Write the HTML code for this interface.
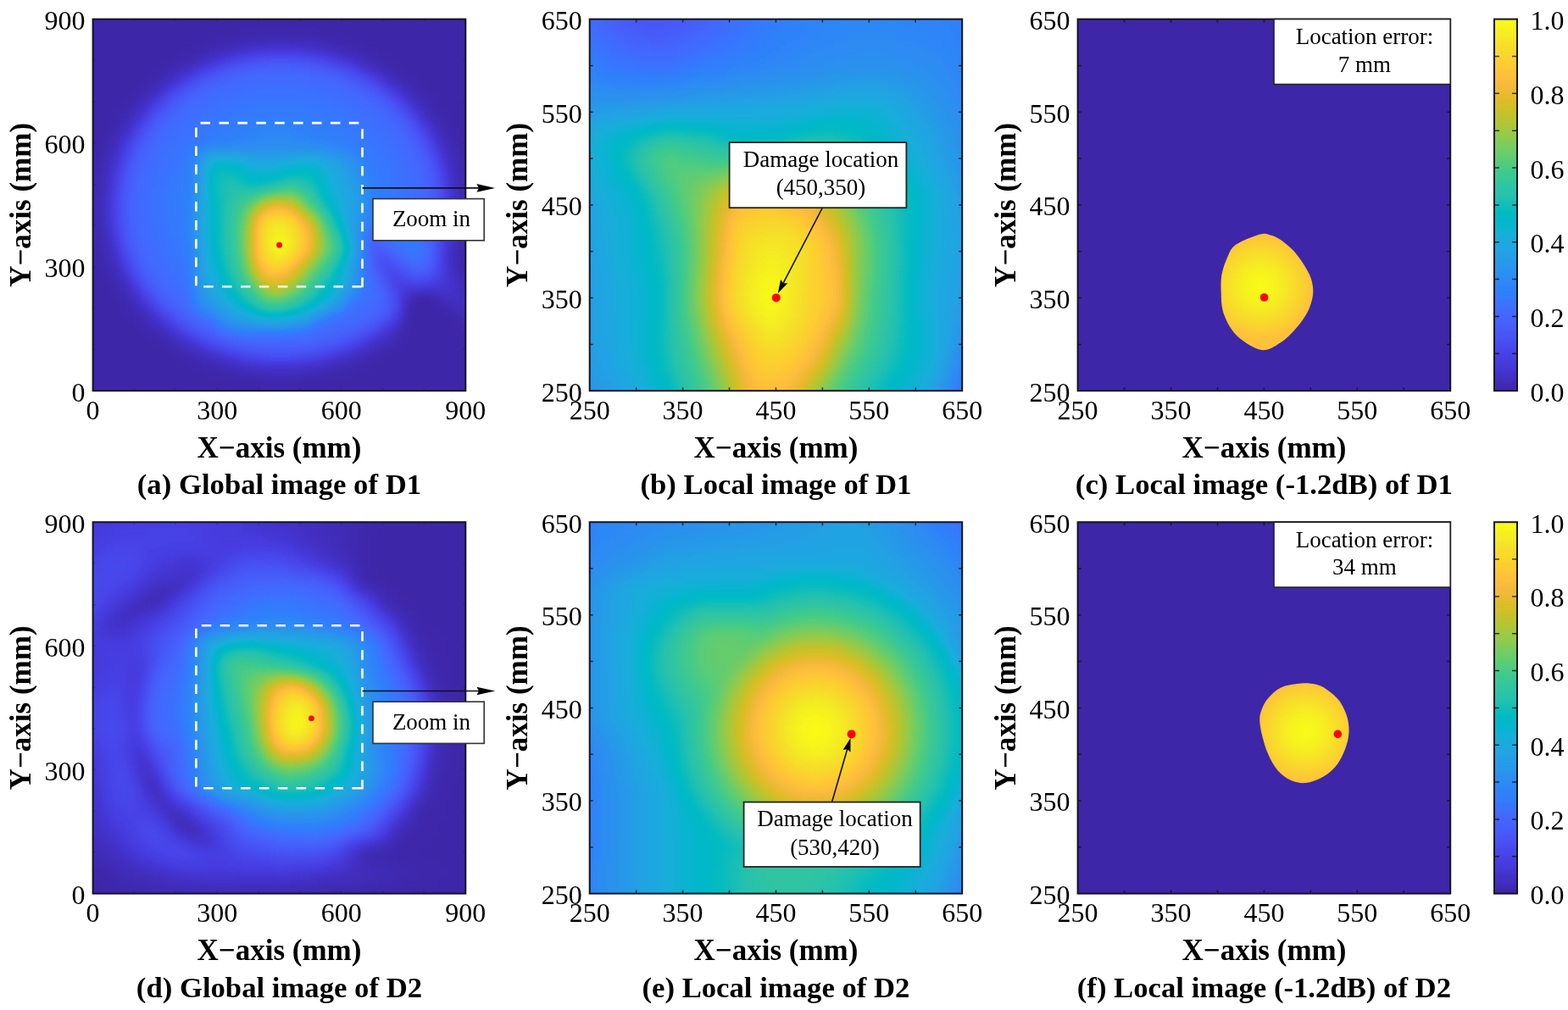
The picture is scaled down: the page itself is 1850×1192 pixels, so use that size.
<!DOCTYPE html><html><head><meta charset="utf-8"><title>Figure</title><style>html,body{margin:0;padding:0;background:#fff;}svg{display:block;}</style></head><body>
<svg width="1850" height="1192" viewBox="0 0 1850 1192">
<rect width="1850" height="1192" fill="#fff"/>
<defs>
<linearGradient id="cbg" x1="0" y1="1" x2="0" y2="0"><stop offset="0" stop-color="#3e26a8"/><stop offset="0.02" stop-color="#402ab4"/><stop offset="0.03" stop-color="#422ec0"/><stop offset="0.05" stop-color="#4332cb"/><stop offset="0.06" stop-color="#4537d5"/><stop offset="0.08" stop-color="#463cde"/><stop offset="0.1" stop-color="#4741e5"/><stop offset="0.11" stop-color="#4747eb"/><stop offset="0.13" stop-color="#484df0"/><stop offset="0.14" stop-color="#4852f4"/><stop offset="0.16" stop-color="#4758f8"/><stop offset="0.17" stop-color="#465efb"/><stop offset="0.19" stop-color="#4563fd"/><stop offset="0.21" stop-color="#4269fe"/><stop offset="0.22" stop-color="#3e6fff"/><stop offset="0.24" stop-color="#3875fe"/><stop offset="0.25" stop-color="#327cfc"/><stop offset="0.27" stop-color="#2f81fa"/><stop offset="0.29" stop-color="#2e87f7"/><stop offset="0.3" stop-color="#2d8cf3"/><stop offset="0.32" stop-color="#2b91ef"/><stop offset="0.33" stop-color="#2797eb"/><stop offset="0.35" stop-color="#259be8"/><stop offset="0.37" stop-color="#23a0e5"/><stop offset="0.38" stop-color="#20a5e3"/><stop offset="0.4" stop-color="#1ca9df"/><stop offset="0.41" stop-color="#18addb"/><stop offset="0.43" stop-color="#12b1d6"/><stop offset="0.44" stop-color="#08b5d0"/><stop offset="0.46" stop-color="#01b8ca"/><stop offset="0.48" stop-color="#02bac3"/><stop offset="0.49" stop-color="#0bbdbd"/><stop offset="0.51" stop-color="#19bfb6"/><stop offset="0.52" stop-color="#24c1ae"/><stop offset="0.54" stop-color="#2cc4a7"/><stop offset="0.56" stop-color="#31c69f"/><stop offset="0.57" stop-color="#37c897"/><stop offset="0.59" stop-color="#3fca8e"/><stop offset="0.6" stop-color="#4acb84"/><stop offset="0.62" stop-color="#57cc7a"/><stop offset="0.63" stop-color="#64cd6f"/><stop offset="0.65" stop-color="#72cd64"/><stop offset="0.67" stop-color="#81cc59"/><stop offset="0.68" stop-color="#8fcb4e"/><stop offset="0.7" stop-color="#9dc943"/><stop offset="0.71" stop-color="#abc739"/><stop offset="0.73" stop-color="#b9c431"/><stop offset="0.75" stop-color="#c5c22a"/><stop offset="0.76" stop-color="#d1bf27"/><stop offset="0.78" stop-color="#dcbd29"/><stop offset="0.79" stop-color="#e6bb2d"/><stop offset="0.81" stop-color="#f0ba36"/><stop offset="0.83" stop-color="#f8ba3d"/><stop offset="0.84" stop-color="#febe3c"/><stop offset="0.86" stop-color="#fec338"/><stop offset="0.87" stop-color="#fec934"/><stop offset="0.89" stop-color="#fccf30"/><stop offset="0.9" stop-color="#fad62d"/><stop offset="0.92" stop-color="#f7dc2a"/><stop offset="0.94" stop-color="#f5e327"/><stop offset="0.95" stop-color="#f5e924"/><stop offset="0.97" stop-color="#f6ef20"/><stop offset="0.98" stop-color="#f7f51b"/><stop offset="1" stop-color="#f9fb15"/></linearGradient>
<filter id="flta" x="-5%" y="-5%" width="110%" height="110%" color-interpolation-filters="sRGB"><feGaussianBlur stdDeviation="4"/><feComponentTransfer><feFuncR type="table" tableValues="0.2422 0.2504 0.2578 0.2647 0.2706 0.2751 0.2783 0.2803 0.2813 0.2810 0.2795 0.2760 0.2699 0.2602 0.2440 0.2206 0.1963 0.1834 0.1786 0.1764 0.1687 0.1540 0.1460 0.1385 0.1248 0.1113 0.0952 0.0689 0.0297 0.0036 0.0067 0.0433 0.0964 0.1408 0.1717 0.1938 0.2161 0.2470 0.2906 0.3406 0.3909 0.4456 0.5044 0.5616 0.6174 0.6720 0.7242 0.7738 0.8203 0.8634 0.9035 0.9393 0.9728 0.9956 0.9970 0.9952 0.9892 0.9786 0.9676 0.9610 0.9597 0.9628 0.9691 0.9769"/><feFuncG type="table" tableValues="0.1504 0.1650 0.1818 0.1978 0.2147 0.2342 0.2559 0.2782 0.3006 0.3228 0.3447 0.3667 0.3892 0.4123 0.4358 0.4603 0.4847 0.5074 0.5289 0.5499 0.5703 0.5902 0.6091 0.6276 0.6459 0.6635 0.6798 0.6948 0.7082 0.7203 0.7312 0.7411 0.7500 0.7584 0.7670 0.7758 0.7843 0.7918 0.7973 0.8008 0.8029 0.8024 0.7993 0.7942 0.7876 0.7793 0.7698 0.7598 0.7498 0.7406 0.7330 0.7288 0.7298 0.7434 0.7659 0.7893 0.8136 0.8386 0.8639 0.8890 0.9135 0.9373 0.9606 0.9839"/><feFuncB type="table" tableValues="0.6603 0.7076 0.7511 0.7952 0.8364 0.8710 0.8991 0.9221 0.9414 0.9579 0.9717 0.9829 0.9906 0.9952 0.9988 0.9973 0.9892 0.9798 0.9682 0.9520 0.9359 0.9218 0.9079 0.8973 0.8883 0.8763 0.8598 0.8394 0.8163 0.7917 0.7660 0.7394 0.7120 0.6842 0.6554 0.6251 0.5923 0.5567 0.5188 0.4789 0.4354 0.3909 0.3480 0.3045 0.2612 0.2227 0.1910 0.1646 0.1535 0.1596 0.1774 0.2100 0.2394 0.2371 0.2199 0.2028 0.1885 0.1766 0.1643 0.1537 0.1423 0.1265 0.1064 0.0805"/></feComponentTransfer></filter>
<filter id="fltb" x="-5%" y="-5%" width="110%" height="110%" color-interpolation-filters="sRGB"><feGaussianBlur stdDeviation="4"/><feComponentTransfer><feFuncR type="table" tableValues="0.2422 0.2504 0.2578 0.2647 0.2706 0.2751 0.2783 0.2803 0.2813 0.2810 0.2795 0.2760 0.2699 0.2602 0.2440 0.2206 0.1963 0.1834 0.1786 0.1764 0.1687 0.1540 0.1460 0.1385 0.1248 0.1113 0.0952 0.0689 0.0297 0.0036 0.0067 0.0433 0.0964 0.1408 0.1717 0.1938 0.2161 0.2470 0.2906 0.3406 0.3909 0.4456 0.5044 0.5616 0.6174 0.6720 0.7242 0.7738 0.8203 0.8634 0.9035 0.9393 0.9728 0.9956 0.9970 0.9952 0.9892 0.9786 0.9676 0.9610 0.9597 0.9628 0.9691 0.9769"/><feFuncG type="table" tableValues="0.1504 0.1650 0.1818 0.1978 0.2147 0.2342 0.2559 0.2782 0.3006 0.3228 0.3447 0.3667 0.3892 0.4123 0.4358 0.4603 0.4847 0.5074 0.5289 0.5499 0.5703 0.5902 0.6091 0.6276 0.6459 0.6635 0.6798 0.6948 0.7082 0.7203 0.7312 0.7411 0.7500 0.7584 0.7670 0.7758 0.7843 0.7918 0.7973 0.8008 0.8029 0.8024 0.7993 0.7942 0.7876 0.7793 0.7698 0.7598 0.7498 0.7406 0.7330 0.7288 0.7298 0.7434 0.7659 0.7893 0.8136 0.8386 0.8639 0.8890 0.9135 0.9373 0.9606 0.9839"/><feFuncB type="table" tableValues="0.6603 0.7076 0.7511 0.7952 0.8364 0.8710 0.8991 0.9221 0.9414 0.9579 0.9717 0.9829 0.9906 0.9952 0.9988 0.9973 0.9892 0.9798 0.9682 0.9520 0.9359 0.9218 0.9079 0.8973 0.8883 0.8763 0.8598 0.8394 0.8163 0.7917 0.7660 0.7394 0.7120 0.6842 0.6554 0.6251 0.5923 0.5567 0.5188 0.4789 0.4354 0.3909 0.3480 0.3045 0.2612 0.2227 0.1910 0.1646 0.1535 0.1596 0.1774 0.2100 0.2394 0.2371 0.2199 0.2028 0.1885 0.1766 0.1643 0.1537 0.1423 0.1265 0.1064 0.0805"/></feComponentTransfer></filter>
<filter id="fltd" x="-5%" y="-5%" width="110%" height="110%" color-interpolation-filters="sRGB"><feGaussianBlur stdDeviation="4"/><feComponentTransfer><feFuncR type="table" tableValues="0.2422 0.2504 0.2578 0.2647 0.2706 0.2751 0.2783 0.2803 0.2813 0.2810 0.2795 0.2760 0.2699 0.2602 0.2440 0.2206 0.1963 0.1834 0.1786 0.1764 0.1687 0.1540 0.1460 0.1385 0.1248 0.1113 0.0952 0.0689 0.0297 0.0036 0.0067 0.0433 0.0964 0.1408 0.1717 0.1938 0.2161 0.2470 0.2906 0.3406 0.3909 0.4456 0.5044 0.5616 0.6174 0.6720 0.7242 0.7738 0.8203 0.8634 0.9035 0.9393 0.9728 0.9956 0.9970 0.9952 0.9892 0.9786 0.9676 0.9610 0.9597 0.9628 0.9691 0.9769"/><feFuncG type="table" tableValues="0.1504 0.1650 0.1818 0.1978 0.2147 0.2342 0.2559 0.2782 0.3006 0.3228 0.3447 0.3667 0.3892 0.4123 0.4358 0.4603 0.4847 0.5074 0.5289 0.5499 0.5703 0.5902 0.6091 0.6276 0.6459 0.6635 0.6798 0.6948 0.7082 0.7203 0.7312 0.7411 0.7500 0.7584 0.7670 0.7758 0.7843 0.7918 0.7973 0.8008 0.8029 0.8024 0.7993 0.7942 0.7876 0.7793 0.7698 0.7598 0.7498 0.7406 0.7330 0.7288 0.7298 0.7434 0.7659 0.7893 0.8136 0.8386 0.8639 0.8890 0.9135 0.9373 0.9606 0.9839"/><feFuncB type="table" tableValues="0.6603 0.7076 0.7511 0.7952 0.8364 0.8710 0.8991 0.9221 0.9414 0.9579 0.9717 0.9829 0.9906 0.9952 0.9988 0.9973 0.9892 0.9798 0.9682 0.9520 0.9359 0.9218 0.9079 0.8973 0.8883 0.8763 0.8598 0.8394 0.8163 0.7917 0.7660 0.7394 0.7120 0.6842 0.6554 0.6251 0.5923 0.5567 0.5188 0.4789 0.4354 0.3909 0.3480 0.3045 0.2612 0.2227 0.1910 0.1646 0.1535 0.1596 0.1774 0.2100 0.2394 0.2371 0.2199 0.2028 0.1885 0.1766 0.1643 0.1537 0.1423 0.1265 0.1064 0.0805"/></feComponentTransfer></filter>
<filter id="flte" x="-5%" y="-5%" width="110%" height="110%" color-interpolation-filters="sRGB"><feGaussianBlur stdDeviation="4"/><feComponentTransfer><feFuncR type="table" tableValues="0.2422 0.2504 0.2578 0.2647 0.2706 0.2751 0.2783 0.2803 0.2813 0.2810 0.2795 0.2760 0.2699 0.2602 0.2440 0.2206 0.1963 0.1834 0.1786 0.1764 0.1687 0.1540 0.1460 0.1385 0.1248 0.1113 0.0952 0.0689 0.0297 0.0036 0.0067 0.0433 0.0964 0.1408 0.1717 0.1938 0.2161 0.2470 0.2906 0.3406 0.3909 0.4456 0.5044 0.5616 0.6174 0.6720 0.7242 0.7738 0.8203 0.8634 0.9035 0.9393 0.9728 0.9956 0.9970 0.9952 0.9892 0.9786 0.9676 0.9610 0.9597 0.9628 0.9691 0.9769"/><feFuncG type="table" tableValues="0.1504 0.1650 0.1818 0.1978 0.2147 0.2342 0.2559 0.2782 0.3006 0.3228 0.3447 0.3667 0.3892 0.4123 0.4358 0.4603 0.4847 0.5074 0.5289 0.5499 0.5703 0.5902 0.6091 0.6276 0.6459 0.6635 0.6798 0.6948 0.7082 0.7203 0.7312 0.7411 0.7500 0.7584 0.7670 0.7758 0.7843 0.7918 0.7973 0.8008 0.8029 0.8024 0.7993 0.7942 0.7876 0.7793 0.7698 0.7598 0.7498 0.7406 0.7330 0.7288 0.7298 0.7434 0.7659 0.7893 0.8136 0.8386 0.8639 0.8890 0.9135 0.9373 0.9606 0.9839"/><feFuncB type="table" tableValues="0.6603 0.7076 0.7511 0.7952 0.8364 0.8710 0.8991 0.9221 0.9414 0.9579 0.9717 0.9829 0.9906 0.9952 0.9988 0.9973 0.9892 0.9798 0.9682 0.9520 0.9359 0.9218 0.9079 0.8973 0.8883 0.8763 0.8598 0.8394 0.8163 0.7917 0.7660 0.7394 0.7120 0.6842 0.6554 0.6251 0.5923 0.5567 0.5188 0.4789 0.4354 0.3909 0.3480 0.3045 0.2612 0.2227 0.1910 0.1646 0.1535 0.1596 0.1774 0.2100 0.2394 0.2371 0.2199 0.2028 0.1885 0.1766 0.1643 0.1537 0.1423 0.1265 0.1064 0.0805"/></feComponentTransfer></filter>
<clipPath id="clA0"><rect x="109.6" y="22.6" width="439.7" height="438.6"/></clipPath>
<clipPath id="clA1"><rect x="109.6" y="616.2" width="439.7" height="438.4"/></clipPath>
<clipPath id="clB0"><rect x="695.7" y="22.6" width="439.5" height="438.6"/></clipPath>
<clipPath id="clB1"><rect x="695.7" y="616.2" width="439.5" height="438.4"/></clipPath>
<clipPath id="clC0"><rect x="1271.6" y="22.6" width="439.6" height="438.6"/></clipPath>
<clipPath id="clC1"><rect x="1271.6" y="616.2" width="439.6" height="438.4"/></clipPath>
</defs>
<g clip-path="url(#clA0)">
<g filter="url(#flta)"><path fill="#000000" d="M94 7h472v8h-472zM94 15h472v8h-472zM94 23h472v8h-472zM94 31h192v8h-192zM374 31h192v8h-192zM94 39h160v8h-160zM406 39h160v8h-160zM94 47h144v8h-144zM430 47h136v8h-136zM94 55h120v8h-120zM446 55h120v8h-120zM94 63h112v8h-112zM462 63h104v8h-104zM94 71h96v8h-96zM470 71h96v8h-96zM94 79h88v8h-88zM478 79h88v8h-88zM94 87h80v8h-80zM494 87h72v8h-72zM94 95h72v8h-72zM502 95h64v8h-64zM94 103h64v8h-64zM510 103h56v8h-56zM94 111h56v8h-56zM518 111h48v8h-48zM94 119h48v8h-48zM518 119h48v8h-48zM94 127h40v8h-40zM526 127h40v8h-40zM94 135h40v8h-40zM534 135h32v8h-32zM94 143h32v8h-32zM534 143h32v8h-32zM94 151h32v8h-32zM542 151h24v8h-24zM94 159h24v8h-24zM542 159h24v8h-24zM94 167h24v8h-24zM550 167h16v8h-16zM94 175h16v8h-16zM550 175h16v8h-16zM94 183h16v8h-16zM94 295h8v8h-8zM94 303h16v8h-16zM94 311h16v8h-16zM94 319h24v8h-24zM94 327h24v8h-24zM94 335h32v8h-32zM94 343h32v8h-32zM94 351h40v8h-40zM486 351h24v8h-24zM94 359h48v8h-48zM486 359h32v8h-32zM94 367h48v8h-48zM486 367h40v8h-40zM94 375h56v8h-56zM486 375h48v8h-48zM94 383h64v8h-64zM486 383h56v8h-56zM94 391h72v8h-72zM478 391h80v8h-80zM94 399h80v8h-80zM478 399h88v8h-88zM94 407h96v8h-96zM478 407h88v8h-88zM94 415h104v8h-104zM462 415h104v8h-104zM94 423h120v8h-120zM454 423h112v8h-112zM94 431h136v8h-136zM438 431h128v8h-128zM94 439h152v8h-152zM414 439h152v8h-152zM94 447h176v8h-176zM390 447h176v8h-176zM94 455h472v8h-472zM94 463h472v8h-472zM94 471h472v8h-472z"/><path fill="#010101" d="M286 31h88v8h-88zM254 39h24v8h-24zM382 39h24v8h-24zM238 47h16v8h-16zM414 47h16v8h-16zM214 55h16v8h-16zM430 55h16v8h-16zM206 63h8v8h-8zM446 63h16v8h-16zM190 71h16v8h-16zM462 71h8v8h-8zM182 79h8v8h-8zM470 79h8v8h-8zM174 87h8v8h-8zM478 87h16v8h-16zM166 95h8v8h-8zM494 95h8v8h-8zM158 103h8v8h-8zM502 103h8v8h-8zM150 111h8v8h-8zM510 111h8v8h-8zM142 119h8v8h-8zM510 119h8v8h-8zM134 127h8v8h-8zM518 127h8v8h-8zM134 135h8v8h-8zM526 135h8v8h-8zM126 143h8v8h-8zM526 143h8v8h-8zM534 151h8v8h-8zM118 159h8v8h-8zM534 159h8v8h-8zM542 167h8v8h-8zM110 175h8v8h-8zM542 175h8v8h-8zM110 183h8v8h-8zM550 183h16v8h-16zM94 191h16v8h-16zM550 191h16v8h-16zM94 199h16v8h-16zM94 207h16v8h-16zM94 271h8v8h-8zM94 279h16v8h-16zM94 287h16v8h-16zM550 287h16v8h-16zM102 295h16v8h-16zM550 295h16v8h-16zM110 303h8v8h-8zM550 303h16v8h-16zM110 311h8v8h-8zM550 311h16v8h-16zM118 319h8v8h-8zM550 319h16v8h-16zM118 327h8v8h-8zM126 335h8v8h-8zM126 343h8v8h-8zM134 351h8v8h-8zM142 359h8v8h-8zM518 359h8v8h-8zM142 367h8v8h-8zM526 367h8v8h-8zM150 375h8v8h-8zM478 375h8v8h-8zM534 375h8v8h-8zM158 383h8v8h-8zM478 383h8v8h-8zM542 383h8v8h-8zM166 391h8v8h-8zM558 391h8v8h-8zM174 399h16v8h-16zM190 407h8v8h-8zM462 407h16v8h-16zM198 415h8v8h-8zM454 415h8v8h-8zM214 423h8v8h-8zM438 423h16v8h-16zM230 431h8v8h-8zM422 431h16v8h-16zM246 439h16v8h-16zM398 439h16v8h-16zM270 447h40v8h-40zM358 447h32v8h-32z"/><path fill="#020202" d="M278 39h24v8h-24zM366 39h16v8h-16zM254 47h8v8h-8zM398 47h16v8h-16zM230 55h8v8h-8zM422 55h8v8h-8zM214 63h8v8h-8zM438 63h8v8h-8zM454 71h8v8h-8zM190 79h8v8h-8zM462 79h8v8h-8zM182 87h8v8h-8zM486 95h8v8h-8zM494 103h8v8h-8zM502 111h8v8h-8zM150 119h8v8h-8zM142 127h8v8h-8zM510 127h8v8h-8zM518 135h8v8h-8zM134 143h8v8h-8zM126 151h8v8h-8zM526 151h8v8h-8zM118 167h8v8h-8zM534 167h8v8h-8zM118 175h8v8h-8zM542 183h8v8h-8zM110 191h8v8h-8zM542 191h8v8h-8zM110 199h8v8h-8zM550 199h16v8h-16zM550 207h16v8h-16zM94 215h16v8h-16zM550 215h16v8h-16zM94 223h16v8h-16zM94 231h16v8h-16zM94 239h16v8h-16zM94 247h16v8h-16zM94 255h16v8h-16zM94 263h16v8h-16zM558 263h8v8h-8zM102 271h8v8h-8zM550 271h16v8h-16zM110 279h8v8h-8zM550 279h16v8h-16zM110 287h8v8h-8zM542 295h8v8h-8zM542 303h8v8h-8zM118 311h8v8h-8zM542 311h8v8h-8zM126 327h8v8h-8zM550 327h16v8h-16zM134 343h8v8h-8zM142 351h8v8h-8zM510 351h8v8h-8zM150 367h8v8h-8zM478 367h8v8h-8zM158 375h8v8h-8zM166 383h8v8h-8zM550 383h16v8h-16zM174 391h8v8h-8zM470 399h8v8h-8zM198 407h8v8h-8zM206 415h8v8h-8zM446 415h8v8h-8zM222 423h8v8h-8zM430 423h8v8h-8zM238 431h16v8h-16zM414 431h8v8h-8zM262 439h16v8h-16zM382 439h16v8h-16zM310 447h48v8h-48z"/><path fill="#030303" d="M302 39h64v8h-64zM262 47h8v8h-8zM390 47h8v8h-8zM238 55h8v8h-8zM414 55h8v8h-8zM222 63h8v8h-8zM430 63h8v8h-8zM206 71h8v8h-8zM446 71h8v8h-8zM198 79h8v8h-8zM470 87h8v8h-8zM174 95h8v8h-8zM478 95h8v8h-8zM166 103h8v8h-8zM486 103h8v8h-8zM158 111h8v8h-8zM494 111h8v8h-8zM502 119h8v8h-8zM142 135h8v8h-8zM518 143h8v8h-8zM126 159h8v8h-8zM526 159h8v8h-8zM534 175h8v8h-8zM118 183h8v8h-8zM542 199h8v8h-8zM110 207h8v8h-8zM542 207h8v8h-8zM110 215h8v8h-8zM110 223h8v8h-8zM550 223h16v8h-16zM110 231h8v8h-8zM550 231h16v8h-16zM550 239h16v8h-16zM550 247h16v8h-16zM110 255h8v8h-8zM550 255h16v8h-16zM110 263h8v8h-8zM550 263h8v8h-8zM110 271h8v8h-8zM542 279h8v8h-8zM542 287h8v8h-8zM118 295h8v8h-8zM118 303h8v8h-8zM126 319h8v8h-8zM542 319h8v8h-8zM134 335h8v8h-8zM150 359h8v8h-8zM478 359h8v8h-8zM158 367h8v8h-8zM542 375h8v8h-8zM182 391h8v8h-8zM470 391h8v8h-8zM190 399h8v8h-8zM462 399h8v8h-8zM454 407h8v8h-8zM214 415h8v8h-8zM438 415h8v8h-8zM230 423h8v8h-8zM422 423h8v8h-8zM254 431h8v8h-8zM398 431h16v8h-16zM278 439h16v8h-16zM366 439h16v8h-16z"/><path fill="#040404" d="M270 47h16v8h-16zM382 47h8v8h-8zM246 55h8v8h-8zM406 55h8v8h-8zM230 63h8v8h-8zM214 71h8v8h-8zM454 79h8v8h-8zM190 87h8v8h-8zM150 127h8v8h-8zM510 135h8v8h-8zM134 151h8v8h-8zM126 167h8v8h-8zM534 183h8v8h-8zM118 191h8v8h-8zM542 215h8v8h-8zM542 223h8v8h-8zM110 239h8v8h-8zM110 247h8v8h-8zM542 255h8v8h-8zM542 263h8v8h-8zM542 271h8v8h-8zM118 287h8v8h-8zM126 311h8v8h-8zM542 327h8v8h-8zM550 335h16v8h-16zM142 343h8v8h-8zM526 359h8v8h-8zM534 367h8v8h-8zM166 375h8v8h-8zM550 375h16v8h-16zM174 383h8v8h-8zM206 407h8v8h-8zM446 407h8v8h-8zM222 415h8v8h-8zM238 423h8v8h-8zM414 423h8v8h-8zM262 431h8v8h-8zM390 431h8v8h-8zM294 439h24v8h-24zM350 439h16v8h-16z"/><path fill="#050505" d="M286 47h8v8h-8zM374 47h8v8h-8zM254 55h8v8h-8zM422 63h8v8h-8zM438 71h8v8h-8zM462 87h8v8h-8zM182 95h8v8h-8zM174 103h8v8h-8zM166 111h8v8h-8zM158 119h8v8h-8zM502 127h8v8h-8zM142 143h8v8h-8zM518 151h8v8h-8zM526 167h8v8h-8zM126 175h8v8h-8zM534 191h8v8h-8zM118 199h8v8h-8zM542 231h8v8h-8zM542 239h8v8h-8zM542 247h8v8h-8zM118 279h8v8h-8zM534 295h8v8h-8zM534 303h8v8h-8zM534 311h8v8h-8zM134 327h8v8h-8zM150 351h8v8h-8zM198 399h8v8h-8zM430 415h8v8h-8zM246 423h8v8h-8zM270 431h8v8h-8zM318 439h32v8h-32z"/><path fill="#060606" d="M294 47h8v8h-8zM358 47h16v8h-16zM398 55h8v8h-8zM238 63h8v8h-8zM222 71h8v8h-8zM206 79h8v8h-8zM446 79h8v8h-8zM470 95h8v8h-8zM478 103h8v8h-8zM486 111h8v8h-8zM494 119h8v8h-8zM134 159h8v8h-8zM534 199h8v8h-8zM118 207h8v8h-8zM118 215h8v8h-8zM118 271h8v8h-8zM534 287h8v8h-8zM126 303h8v8h-8zM142 335h8v8h-8zM542 335h8v8h-8zM494 343h16v8h-16zM550 343h16v8h-16zM478 351h8v8h-8zM518 351h8v8h-8zM158 359h8v8h-8zM166 367h8v8h-8zM542 367h24v8h-24zM182 383h8v8h-8zM470 383h8v8h-8zM190 391h8v8h-8zM462 391h8v8h-8zM454 399h8v8h-8zM214 407h8v8h-8zM230 415h8v8h-8zM406 423h8v8h-8zM278 431h8v8h-8zM382 431h8v8h-8z"/><path fill="#070707" d="M302 47h16v8h-16zM342 47h16v8h-16zM262 55h8v8h-8zM390 55h8v8h-8zM414 63h8v8h-8zM430 71h8v8h-8zM198 87h8v8h-8zM150 135h8v8h-8zM510 143h8v8h-8zM518 159h8v8h-8zM526 175h8v8h-8zM126 183h8v8h-8zM534 207h8v8h-8zM118 223h8v8h-8zM118 255h8v8h-8zM118 263h8v8h-8zM534 279h8v8h-8zM126 295h8v8h-8zM134 319h8v8h-8zM534 319h8v8h-8zM486 343h8v8h-8zM550 351h16v8h-16zM534 359h32v8h-32zM174 375h8v8h-8zM438 407h8v8h-8zM422 415h8v8h-8zM254 423h8v8h-8zM374 431h8v8h-8z"/><path fill="#080808" d="M318 47h24v8h-24zM270 55h8v8h-8zM246 63h8v8h-8zM454 87h8v8h-8zM190 95h8v8h-8zM158 127h8v8h-8zM502 135h8v8h-8zM142 151h8v8h-8zM134 167h8v8h-8zM534 215h8v8h-8zM118 231h8v8h-8zM118 239h8v8h-8zM118 247h8v8h-8zM534 271h8v8h-8zM150 343h8v8h-8zM510 343h8v8h-8zM542 343h8v8h-8zM526 351h8v8h-8zM542 351h8v8h-8zM206 399h8v8h-8zM398 423h8v8h-8zM286 431h8v8h-8zM366 431h8v8h-8z"/><path fill="#090909" d="M382 55h8v8h-8zM406 63h8v8h-8zM230 71h8v8h-8zM214 79h8v8h-8zM182 103h8v8h-8zM174 111h8v8h-8zM166 119h8v8h-8zM526 183h8v8h-8zM126 191h8v8h-8zM534 223h8v8h-8zM534 263h8v8h-8zM126 287h8v8h-8zM134 311h8v8h-8zM142 327h8v8h-8zM534 327h8v8h-8zM534 351h8v8h-8zM198 391h8v8h-8zM446 399h8v8h-8zM222 407h8v8h-8zM238 415h8v8h-8zM262 423h8v8h-8zM294 431h8v8h-8zM358 431h8v8h-8z"/><path fill="#0a0a0a" d="M278 55h8v8h-8zM422 71h8v8h-8zM438 79h8v8h-8zM462 95h8v8h-8zM494 127h8v8h-8zM150 143h8v8h-8zM510 151h8v8h-8zM518 167h8v8h-8zM126 199h8v8h-8zM534 231h8v8h-8zM534 239h8v8h-8zM534 247h8v8h-8zM534 255h8v8h-8zM534 335h8v8h-8zM534 343h8v8h-8zM158 351h8v8h-8zM470 375h8v8h-8zM430 407h8v8h-8zM414 415h8v8h-8zM390 423h8v8h-8zM302 431h8v8h-8zM350 431h8v8h-8z"/><path fill="#0b0b0b" d="M374 55h8v8h-8zM254 63h8v8h-8zM206 87h8v8h-8zM470 103h8v8h-8zM478 111h8v8h-8zM486 119h8v8h-8zM134 175h8v8h-8zM526 191h8v8h-8zM126 279h8v8h-8zM526 295h8v8h-8zM526 303h8v8h-8zM518 343h8v8h-8zM166 359h8v8h-8zM190 383h8v8h-8zM454 391h8v8h-8zM310 431h40v8h-40z"/><path fill="#0c0c0c" d="M286 55h8v8h-8zM398 63h8v8h-8zM142 159h8v8h-8zM126 207h8v8h-8zM134 303h8v8h-8zM526 311h8v8h-8zM150 335h8v8h-8zM478 343h8v8h-8zM526 343h8v8h-8zM174 367h8v8h-8zM182 375h8v8h-8zM462 383h8v8h-8zM214 399h8v8h-8zM246 415h8v8h-8zM270 423h8v8h-8z"/><path fill="#0d0d0d" d="M366 55h8v8h-8zM238 71h8v8h-8zM222 79h8v8h-8zM446 87h8v8h-8zM198 95h8v8h-8zM158 135h8v8h-8zM502 143h8v8h-8zM526 199h8v8h-8zM126 271h8v8h-8zM526 287h8v8h-8zM142 319h8v8h-8zM526 319h8v8h-8zM438 399h8v8h-8zM230 407h8v8h-8zM406 415h8v8h-8zM382 423h8v8h-8z"/><path fill="#0e0e0e" d="M294 55h8v8h-8zM358 55h8v8h-8zM262 63h8v8h-8zM414 71h8v8h-8zM166 127h8v8h-8zM510 159h8v8h-8zM518 175h8v8h-8zM134 183h8v8h-8zM126 215h8v8h-8zM526 327h8v8h-8zM526 335h8v8h-8zM470 367h8v8h-8zM422 407h8v8h-8zM278 423h8v8h-8z"/><path fill="#0f0f0f" d="M302 55h8v8h-8zM430 79h8v8h-8zM454 95h8v8h-8zM190 103h8v8h-8zM494 135h8v8h-8zM150 151h8v8h-8zM526 207h8v8h-8zM126 223h8v8h-8zM126 263h8v8h-8zM526 279h8v8h-8zM134 295h8v8h-8zM158 343h8v8h-8zM206 391h8v8h-8zM254 415h8v8h-8zM374 423h8v8h-8z"/><path fill="#101010" d="M310 55h8v8h-8zM350 55h8v8h-8zM390 63h8v8h-8zM182 111h8v8h-8zM174 119h8v8h-8zM142 167h8v8h-8zM126 231h8v8h-8zM126 239h8v8h-8zM126 247h8v8h-8zM126 255h8v8h-8zM526 271h8v8h-8zM510 335h16v8h-16z"/><path fill="#111111" d="M318 55h32v8h-32zM246 71h8v8h-8zM214 87h8v8h-8zM462 103h8v8h-8zM486 127h8v8h-8zM518 183h8v8h-8zM134 191h8v8h-8zM526 215h8v8h-8zM502 335h8v8h-8zM198 383h8v8h-8zM446 391h8v8h-8zM222 399h8v8h-8zM238 407h8v8h-8zM398 415h8v8h-8zM286 423h8v8h-8zM366 423h8v8h-8z"/><path fill="#121212" d="M270 63h8v8h-8zM230 79h8v8h-8zM470 111h8v8h-8zM478 119h8v8h-8zM526 263h8v8h-8zM142 311h8v8h-8zM150 327h8v8h-8zM166 351h8v8h-8zM470 359h8v8h-8z"/><path fill="#131313" d="M382 63h8v8h-8zM406 71h8v8h-8zM438 87h8v8h-8zM158 143h8v8h-8zM502 151h8v8h-8zM510 167h8v8h-8zM526 223h8v8h-8zM526 255h8v8h-8zM134 287h8v8h-8zM518 327h8v8h-8zM494 335h8v8h-8zM470 351h8v8h-8zM174 359h8v8h-8zM182 367h8v8h-8zM190 375h8v8h-8zM454 383h8v8h-8zM430 399h8v8h-8zM414 407h8v8h-8zM262 415h8v8h-8zM294 423h8v8h-8zM358 423h8v8h-8z"/><path fill="#141414" d="M422 79h8v8h-8zM206 95h8v8h-8zM526 231h8v8h-8zM526 239h8v8h-8zM526 247h8v8h-8zM478 335h16v8h-16zM470 343h8v8h-8zM462 375h8v8h-8zM302 423h8v8h-8z"/><path fill="#151515" d="M278 63h8v8h-8zM150 159h8v8h-8zM142 175h8v8h-8zM518 191h8v8h-8zM134 199h8v8h-8zM518 319h8v8h-8zM470 335h8v8h-8zM214 391h8v8h-8zM390 415h8v8h-8zM350 423h8v8h-8z"/><path fill="#161616" d="M374 63h8v8h-8zM254 71h8v8h-8zM166 135h8v8h-8zM494 143h8v8h-8zM134 279h8v8h-8zM518 303h8v8h-8zM518 311h8v8h-8zM158 335h8v8h-8zM310 423h8v8h-8zM342 423h8v8h-8z"/><path fill="#171717" d="M222 87h8v8h-8zM446 95h8v8h-8zM198 103h8v8h-8zM134 207h8v8h-8zM518 295h8v8h-8zM142 303h8v8h-8zM510 327h8v8h-8zM230 399h8v8h-8zM246 407h8v8h-8zM270 415h8v8h-8zM318 423h24v8h-24z"/><path fill="#181818" d="M286 63h8v8h-8zM398 71h8v8h-8zM238 79h8v8h-8zM190 111h8v8h-8zM182 119h8v8h-8zM174 127h8v8h-8zM510 175h8v8h-8zM134 271h8v8h-8zM150 319h8v8h-8zM438 391h8v8h-8zM406 407h8v8h-8zM382 415h8v8h-8z"/><path fill="#191919" d="M366 63h8v8h-8zM430 87h8v8h-8zM454 103h8v8h-8zM486 135h8v8h-8zM502 159h8v8h-8zM142 183h8v8h-8zM518 199h8v8h-8zM518 287h8v8h-8zM166 343h8v8h-8zM206 383h8v8h-8zM422 399h8v8h-8z"/><path fill="#1a1a1a" d="M294 63h8v8h-8zM262 71h8v8h-8zM414 79h8v8h-8zM158 151h8v8h-8zM134 215h8v8h-8zM134 263h8v8h-8zM462 327h16v8h-16zM278 415h8v8h-8z"/><path fill="#1b1b1b" d="M358 63h8v8h-8zM462 111h8v8h-8zM470 119h8v8h-8zM478 127h8v8h-8zM150 167h8v8h-8zM518 207h8v8h-8zM134 223h8v8h-8zM518 279h8v8h-8zM142 295h8v8h-8zM462 335h8v8h-8zM174 351h8v8h-8zM198 375h8v8h-8zM446 383h8v8h-8zM254 407h8v8h-8zM374 415h8v8h-8z"/><path fill="#1c1c1c" d="M302 63h8v8h-8zM350 63h8v8h-8zM390 71h8v8h-8zM214 95h8v8h-8zM134 231h8v8h-8zM134 247h8v8h-8zM134 255h8v8h-8zM502 327h8v8h-8zM182 359h8v8h-8zM190 367h8v8h-8zM462 367h8v8h-8zM222 391h8v8h-8z"/><path fill="#1d1d1d" d="M310 63h8v8h-8zM246 79h8v8h-8zM166 143h8v8h-8zM494 151h8v8h-8zM510 183h8v8h-8zM142 191h8v8h-8zM134 239h8v8h-8zM518 271h8v8h-8zM150 311h8v8h-8zM462 319h8v8h-8zM158 327h8v8h-8zM478 327h8v8h-8zM454 375h8v8h-8zM238 399h8v8h-8zM398 407h8v8h-8zM286 415h8v8h-8z"/><path fill="#1e1e1e" d="M318 63h32v8h-32zM270 71h8v8h-8zM230 87h8v8h-8zM438 95h8v8h-8zM518 215h8v8h-8zM510 319h8v8h-8zM462 343h8v8h-8zM430 391h8v8h-8zM366 415h8v8h-8z"/><path fill="#1f1f1f" d="M382 71h8v8h-8zM406 79h8v8h-8zM206 103h8v8h-8zM502 167h8v8h-8zM518 223h8v8h-8zM518 263h8v8h-8zM142 287h8v8h-8zM454 319h8v8h-8zM414 399h8v8h-8z"/><path fill="#202020" d="M422 87h8v8h-8zM174 135h8v8h-8zM158 159h8v8h-8zM150 175h8v8h-8zM518 231h8v8h-8zM518 255h8v8h-8zM454 311h8v8h-8zM486 327h16v8h-16zM462 359h8v8h-8zM214 383h8v8h-8zM262 407h8v8h-8zM294 415h8v8h-8zM358 415h8v8h-8z"/><path fill="#212121" d="M446 103h8v8h-8zM198 111h8v8h-8zM190 119h8v8h-8zM182 127h8v8h-8zM486 143h8v8h-8zM510 191h8v8h-8zM142 199h8v8h-8zM518 239h8v8h-8zM518 247h8v8h-8zM470 319h8v8h-8zM454 327h8v8h-8zM166 335h8v8h-8zM462 351h8v8h-8zM390 407h8v8h-8z"/><path fill="#222222" d="M278 71h8v8h-8zM254 79h8v8h-8zM222 95h8v8h-8zM142 279h8v8h-8zM150 303h8v8h-8zM438 383h8v8h-8zM246 399h8v8h-8zM302 415h8v8h-8zM350 415h8v8h-8z"/><path fill="#232323" d="M374 71h8v8h-8zM454 111h8v8h-8zM478 135h8v8h-8zM142 207h8v8h-8zM462 311h8v8h-8zM510 311h8v8h-8zM158 319h8v8h-8zM174 343h8v8h-8zM206 375h8v8h-8zM230 391h8v8h-8zM310 415h8v8h-8zM342 415h8v8h-8z"/><path fill="#242424" d="M286 71h8v8h-8zM398 79h8v8h-8zM238 87h8v8h-8zM430 95h8v8h-8zM462 119h8v8h-8zM470 127h8v8h-8zM166 151h8v8h-8zM494 159h8v8h-8zM502 175h8v8h-8zM510 199h8v8h-8zM142 271h8v8h-8zM446 303h8v8h-8zM446 311h8v8h-8zM198 367h8v8h-8zM422 391h8v8h-8zM406 399h8v8h-8zM270 407h8v8h-8zM318 415h24v8h-24z"/><path fill="#252525" d="M366 71h8v8h-8zM414 87h8v8h-8zM150 183h8v8h-8zM142 215h8v8h-8zM454 303h8v8h-8zM510 303h8v8h-8zM454 335h8v8h-8zM182 351h8v8h-8zM190 359h8v8h-8zM446 375h8v8h-8zM382 407h8v8h-8z"/><path fill="#262626" d="M294 71h8v8h-8zM262 79h8v8h-8zM214 103h8v8h-8zM158 167h8v8h-8zM142 263h8v8h-8zM150 295h8v8h-8zM510 295h8v8h-8zM502 319h8v8h-8zM454 367h8v8h-8z"/><path fill="#272727" d="M358 71h8v8h-8zM390 79h8v8h-8zM174 143h8v8h-8zM486 151h8v8h-8zM510 207h8v8h-8zM142 223h8v8h-8zM142 255h8v8h-8zM510 287h8v8h-8zM446 319h8v8h-8zM478 319h8v8h-8zM166 327h8v8h-8zM222 383h8v8h-8zM254 399h8v8h-8zM278 407h8v8h-8zM374 407h8v8h-8z"/><path fill="#282828" d="M302 71h8v8h-8zM350 71h8v8h-8zM246 87h8v8h-8zM230 95h8v8h-8zM438 103h8v8h-8zM206 111h8v8h-8zM182 135h8v8h-8zM494 167h8v8h-8zM502 183h8v8h-8zM150 191h8v8h-8zM510 215h8v8h-8zM142 231h8v8h-8zM142 239h8v8h-8zM142 247h8v8h-8zM510 271h8v8h-8zM510 279h8v8h-8zM446 295h8v8h-8zM158 311h8v8h-8zM430 383h8v8h-8zM238 391h8v8h-8zM398 399h8v8h-8z"/><path fill="#292929" d="M310 71h8v8h-8zM342 71h8v8h-8zM270 79h8v8h-8zM406 87h8v8h-8zM422 95h8v8h-8zM198 119h8v8h-8zM190 127h8v8h-8zM478 143h8v8h-8zM166 159h8v8h-8zM510 263h8v8h-8zM150 287h8v8h-8zM470 311h8v8h-8zM174 335h8v8h-8zM454 343h8v8h-8zM214 375h8v8h-8zM414 391h8v8h-8zM286 407h8v8h-8zM366 407h8v8h-8z"/><path fill="#2a2a2a" d="M318 71h24v8h-24zM382 79h8v8h-8zM446 111h8v8h-8zM158 175h8v8h-8zM150 199h8v8h-8zM510 223h8v8h-8zM510 231h8v8h-8zM510 255h8v8h-8zM438 295h8v8h-8zM438 303h8v8h-8zM462 303h8v8h-8zM454 359h8v8h-8z"/><path fill="#2b2b2b" d="M222 103h8v8h-8zM454 119h8v8h-8zM462 127h8v8h-8zM470 135h8v8h-8zM502 191h8v8h-8zM510 239h8v8h-8zM510 247h8v8h-8zM150 279h8v8h-8zM158 303h8v8h-8zM166 319h8v8h-8zM486 319h16v8h-16zM446 327h8v8h-8zM182 343h8v8h-8zM454 351h8v8h-8zM198 359h8v8h-8zM206 367h8v8h-8zM438 375h8v8h-8zM230 383h8v8h-8zM262 399h8v8h-8zM390 399h8v8h-8zM294 407h8v8h-8zM358 407h8v8h-8z"/><path fill="#2c2c2c" d="M278 79h8v8h-8zM374 79h8v8h-8zM254 87h8v8h-8zM238 95h8v8h-8zM430 103h8v8h-8zM174 151h8v8h-8zM486 159h8v8h-8zM494 175h8v8h-8zM150 207h8v8h-8zM454 295h8v8h-8zM190 351h8v8h-8zM446 367h8v8h-8zM246 391h8v8h-8zM302 407h8v8h-8zM350 407h8v8h-8z"/><path fill="#2d2d2d" d="M286 79h8v8h-8zM398 87h8v8h-8zM414 95h8v8h-8zM214 111h8v8h-8zM182 143h8v8h-8zM166 167h8v8h-8zM158 183h8v8h-8zM502 199h8v8h-8zM150 271h8v8h-8zM438 287h8v8h-8zM438 311h8v8h-8zM422 383h8v8h-8zM406 391h8v8h-8zM270 399h8v8h-8zM382 399h8v8h-8zM310 407h40v8h-40z"/><path fill="#2e2e2e" d="M366 79h8v8h-8zM262 87h8v8h-8zM438 111h8v8h-8zM206 119h8v8h-8zM198 127h8v8h-8zM190 135h8v8h-8zM478 151h8v8h-8zM502 207h8v8h-8zM150 215h8v8h-8zM150 263h8v8h-8zM158 295h8v8h-8zM502 311h8v8h-8zM174 327h8v8h-8zM222 375h8v8h-8z"/><path fill="#2f2f2f" d="M294 79h8v8h-8zM358 79h8v8h-8zM390 87h8v8h-8zM246 95h8v8h-8zM230 103h8v8h-8zM446 119h8v8h-8zM470 143h8v8h-8zM486 167h8v8h-8zM494 183h8v8h-8zM158 191h8v8h-8zM150 223h8v8h-8zM150 231h8v8h-8zM150 239h8v8h-8zM150 247h8v8h-8zM150 255h8v8h-8zM446 287h8v8h-8zM166 311h8v8h-8zM478 311h8v8h-8zM182 335h8v8h-8zM446 335h8v8h-8zM214 367h8v8h-8zM430 375h8v8h-8zM238 383h8v8h-8zM398 391h8v8h-8zM278 399h8v8h-8zM374 399h8v8h-8z"/><path fill="#303030" d="M302 79h16v8h-16zM342 79h16v8h-16zM270 87h8v8h-8zM406 95h8v8h-8zM422 103h8v8h-8zM454 127h8v8h-8zM462 135h8v8h-8zM174 159h8v8h-8zM166 175h8v8h-8zM502 215h8v8h-8zM502 223h8v8h-8zM158 287h8v8h-8zM438 319h8v8h-8zM190 343h8v8h-8zM198 351h8v8h-8zM206 359h8v8h-8zM446 359h8v8h-8zM438 367h8v8h-8zM414 383h8v8h-8zM254 391h8v8h-8z"/><path fill="#313131" d="M318 79h24v8h-24zM382 87h8v8h-8zM254 95h8v8h-8zM222 111h8v8h-8zM430 111h8v8h-8zM182 151h8v8h-8zM478 159h8v8h-8zM486 175h8v8h-8zM494 191h8v8h-8zM158 199h8v8h-8zM502 231h8v8h-8zM502 239h8v8h-8zM502 247h8v8h-8zM502 255h8v8h-8zM502 263h8v8h-8zM502 271h8v8h-8zM158 279h8v8h-8zM166 303h8v8h-8zM470 303h8v8h-8zM174 319h8v8h-8zM390 391h8v8h-8zM286 399h8v8h-8zM366 399h8v8h-8z"/><path fill="#323232" d="M278 87h8v8h-8zM374 87h8v8h-8zM398 95h8v8h-8zM238 103h8v8h-8zM414 103h8v8h-8zM214 119h8v8h-8zM438 119h8v8h-8zM206 127h8v8h-8zM198 135h8v8h-8zM190 143h8v8h-8zM470 151h8v8h-8zM174 167h8v8h-8zM166 183h8v8h-8zM494 199h8v8h-8zM158 207h8v8h-8zM158 271h8v8h-8zM438 279h8v8h-8zM502 279h8v8h-8zM462 295h8v8h-8zM502 303h8v8h-8zM182 327h8v8h-8zM446 343h8v8h-8zM446 351h8v8h-8zM230 375h8v8h-8zM422 375h8v8h-8zM406 383h8v8h-8zM294 399h8v8h-8zM350 399h16v8h-16z"/><path fill="#333333" d="M286 87h8v8h-8zM366 87h8v8h-8zM262 95h8v8h-8zM230 111h8v8h-8zM446 127h8v8h-8zM454 135h8v8h-8zM462 143h8v8h-8zM182 159h8v8h-8zM478 167h8v8h-8zM486 183h8v8h-8zM166 191h8v8h-8zM494 207h8v8h-8zM158 215h8v8h-8zM158 223h8v8h-8zM158 255h8v8h-8zM158 263h8v8h-8zM454 287h8v8h-8zM502 287h8v8h-8zM166 295h8v8h-8zM502 295h8v8h-8zM174 311h8v8h-8zM486 311h16v8h-16zM190 335h8v8h-8zM198 343h8v8h-8zM206 351h8v8h-8zM214 359h8v8h-8zM430 367h8v8h-8zM246 383h8v8h-8zM382 391h8v8h-8zM302 399h48v8h-48z"/><path fill="#343434" d="M294 87h16v8h-16zM350 87h16v8h-16zM270 95h8v8h-8zM390 95h8v8h-8zM246 103h8v8h-8zM406 103h8v8h-8zM422 111h8v8h-8zM222 119h8v8h-8zM190 151h8v8h-8zM470 159h8v8h-8zM174 175h8v8h-8zM494 215h8v8h-8zM494 223h8v8h-8zM158 231h8v8h-8zM158 239h8v8h-8zM158 247h8v8h-8zM166 287h8v8h-8zM182 319h8v8h-8zM438 327h8v8h-8zM438 359h8v8h-8zM222 367h8v8h-8zM414 375h8v8h-8zM398 383h8v8h-8zM374 391h8v8h-8z"/><path fill="#353535" d="M310 87h40v8h-40zM278 95h8v8h-8zM382 95h8v8h-8zM254 103h8v8h-8zM238 111h8v8h-8zM414 111h8v8h-8zM430 119h8v8h-8zM214 127h8v8h-8zM438 127h8v8h-8zM206 135h8v8h-8zM198 143h8v8h-8zM454 143h8v8h-8zM462 151h8v8h-8zM182 167h8v8h-8zM478 175h8v8h-8zM174 183h8v8h-8zM486 191h8v8h-8zM166 199h8v8h-8zM486 199h8v8h-8zM166 207h8v8h-8zM494 231h8v8h-8zM494 239h8v8h-8zM494 247h8v8h-8zM494 255h8v8h-8zM166 279h8v8h-8zM446 279h8v8h-8zM174 303h8v8h-8zM190 327h8v8h-8zM422 367h8v8h-8zM390 383h8v8h-8zM262 391h8v8h-8z"/><path fill="#363636" d="M286 95h8v8h-8zM366 95h16v8h-16zM262 103h8v8h-8zM398 103h8v8h-8zM246 111h8v8h-8zM230 119h8v8h-8zM422 119h8v8h-8zM446 135h8v8h-8zM190 159h8v8h-8zM470 167h8v8h-8zM478 183h8v8h-8zM174 191h8v8h-8zM486 207h8v8h-8zM166 215h8v8h-8zM166 223h8v8h-8zM166 255h8v8h-8zM166 263h8v8h-8zM494 263h8v8h-8zM166 271h8v8h-8zM174 295h8v8h-8zM430 295h8v8h-8zM430 303h8v8h-8zM478 303h8v8h-8zM182 311h8v8h-8zM198 335h8v8h-8zM438 335h8v8h-8zM206 343h8v8h-8zM438 343h8v8h-8zM214 351h8v8h-8zM438 351h8v8h-8zM430 359h8v8h-8zM238 375h8v8h-8zM406 375h8v8h-8zM382 383h8v8h-8zM366 391h8v8h-8z"/><path fill="#373737" d="M294 95h16v8h-16zM350 95h16v8h-16zM270 103h8v8h-8zM382 103h16v8h-16zM406 111h8v8h-8zM238 119h8v8h-8zM222 127h8v8h-8zM430 127h8v8h-8zM214 135h8v8h-8zM438 135h8v8h-8zM206 143h8v8h-8zM446 143h8v8h-8zM198 151h8v8h-8zM454 151h8v8h-8zM462 159h8v8h-8zM190 167h8v8h-8zM182 175h8v8h-8zM470 175h8v8h-8zM478 191h8v8h-8zM174 199h8v8h-8zM486 215h8v8h-8zM486 223h8v8h-8zM166 231h8v8h-8zM486 231h8v8h-8zM166 239h8v8h-8zM166 247h8v8h-8zM494 271h8v8h-8zM174 279h8v8h-8zM174 287h8v8h-8zM430 287h8v8h-8zM470 295h8v8h-8zM182 303h8v8h-8zM190 319h8v8h-8zM198 327h8v8h-8zM422 359h8v8h-8zM414 367h8v8h-8zM398 375h8v8h-8z"/><path fill="#383838" d="M310 95h40v8h-40zM278 103h8v8h-8zM374 103h8v8h-8zM254 111h8v8h-8zM398 111h8v8h-8zM414 119h8v8h-8zM230 127h8v8h-8zM422 127h8v8h-8zM222 135h8v8h-8zM206 151h8v8h-8zM198 159h8v8h-8zM462 167h8v8h-8zM182 183h8v8h-8zM470 183h8v8h-8zM478 199h8v8h-8zM174 207h8v8h-8zM478 207h8v8h-8zM174 215h8v8h-8zM486 239h8v8h-8zM486 247h8v8h-8zM174 263h8v8h-8zM174 271h8v8h-8zM438 271h8v8h-8zM462 287h8v8h-8zM182 295h8v8h-8zM494 303h8v8h-8zM190 311h8v8h-8zM430 311h8v8h-8zM206 335h8v8h-8zM214 343h8v8h-8zM430 351h8v8h-8zM374 383h8v8h-8zM358 391h8v8h-8z"/><path fill="#393939" d="M286 103h16v8h-16zM358 103h16v8h-16zM262 111h16v8h-16zM390 111h8v8h-8zM246 119h8v8h-8zM406 119h8v8h-8zM238 127h8v8h-8zM430 135h8v8h-8zM214 143h8v8h-8zM438 143h8v8h-8zM446 151h8v8h-8zM454 159h8v8h-8zM198 167h8v8h-8zM190 175h8v8h-8zM462 175h8v8h-8zM182 191h8v8h-8zM470 191h8v8h-8zM182 199h8v8h-8zM478 215h8v8h-8zM174 223h8v8h-8zM478 223h8v8h-8zM174 231h8v8h-8zM174 239h8v8h-8zM174 247h8v8h-8zM174 255h8v8h-8zM486 255h8v8h-8zM182 279h8v8h-8zM430 279h8v8h-8zM454 279h8v8h-8zM494 279h8v8h-8zM182 287h8v8h-8zM190 303h8v8h-8zM486 303h8v8h-8zM198 319h8v8h-8zM206 327h8v8h-8zM414 359h8v8h-8zM406 367h8v8h-8zM390 375h8v8h-8zM270 391h8v8h-8z"/><path fill="#3a3a3a" d="M302 103h56v8h-56zM278 111h8v8h-8zM374 111h16v8h-16zM254 119h8v8h-8zM398 119h8v8h-8zM246 127h8v8h-8zM414 127h8v8h-8zM230 135h8v8h-8zM422 135h8v8h-8zM222 143h8v8h-8zM430 143h8v8h-8zM214 151h8v8h-8zM438 151h8v8h-8zM206 159h8v8h-8zM446 159h8v8h-8zM454 167h8v8h-8zM198 175h8v8h-8zM190 183h8v8h-8zM462 183h8v8h-8zM190 191h8v8h-8zM470 199h8v8h-8zM182 207h8v8h-8zM470 207h8v8h-8zM182 215h8v8h-8zM478 231h8v8h-8zM478 239h8v8h-8zM182 263h8v8h-8zM486 263h8v8h-8zM182 271h8v8h-8zM190 295h8v8h-8zM198 311h8v8h-8zM206 319h8v8h-8zM430 319h8v8h-8zM214 335h8v8h-8zM430 343h8v8h-8zM422 351h8v8h-8zM222 359h8v8h-8zM230 367h8v8h-8zM254 383h8v8h-8zM350 391h8v8h-8z"/><path fill="#3b3b3b" d="M286 111h16v8h-16zM358 111h16v8h-16zM262 119h16v8h-16zM390 119h8v8h-8zM254 127h8v8h-8zM406 127h8v8h-8zM238 135h8v8h-8zM414 135h8v8h-8zM230 143h8v8h-8zM222 151h8v8h-8zM214 159h8v8h-8zM206 167h8v8h-8zM454 175h8v8h-8zM198 183h8v8h-8zM462 191h8v8h-8zM190 199h8v8h-8zM470 215h8v8h-8zM182 223h8v8h-8zM470 223h8v8h-8zM182 231h8v8h-8zM182 239h8v8h-8zM182 247h8v8h-8zM478 247h8v8h-8zM182 255h8v8h-8zM446 271h8v8h-8zM190 279h8v8h-8zM190 287h8v8h-8zM470 287h8v8h-8zM494 287h8v8h-8zM478 295h8v8h-8zM494 295h8v8h-8zM198 303h8v8h-8zM206 311h8v8h-8zM214 327h8v8h-8zM430 335h8v8h-8zM278 391h8v8h-8z"/><path fill="#3c3c3c" d="M302 111h56v8h-56zM278 119h8v8h-8zM374 119h16v8h-16zM262 127h8v8h-8zM398 127h8v8h-8zM246 135h8v8h-8zM422 143h8v8h-8zM430 151h8v8h-8zM438 159h8v8h-8zM446 167h8v8h-8zM206 175h8v8h-8zM454 183h8v8h-8zM198 191h8v8h-8zM462 199h8v8h-8zM190 207h8v8h-8zM462 207h8v8h-8zM190 215h8v8h-8zM470 231h8v8h-8zM478 255h8v8h-8zM190 263h8v8h-8zM190 271h8v8h-8zM486 271h8v8h-8zM462 279h8v8h-8zM198 295h8v8h-8zM214 319h8v8h-8zM430 327h8v8h-8zM246 375h8v8h-8zM382 375h8v8h-8zM286 391h8v8h-8zM334 391h16v8h-16z"/><path fill="#3d3d3d" d="M286 119h16v8h-16zM358 119h16v8h-16zM270 127h8v8h-8zM390 127h8v8h-8zM254 135h8v8h-8zM406 135h8v8h-8zM238 143h8v8h-8zM414 143h8v8h-8zM230 151h8v8h-8zM422 151h8v8h-8zM222 159h8v8h-8zM430 159h8v8h-8zM214 167h8v8h-8zM438 167h8v8h-8zM446 175h8v8h-8zM206 183h8v8h-8zM454 191h8v8h-8zM198 199h8v8h-8zM462 215h8v8h-8zM190 223h8v8h-8zM190 231h8v8h-8zM190 239h8v8h-8zM470 239h8v8h-8zM190 247h8v8h-8zM470 247h8v8h-8zM190 255h8v8h-8zM438 263h8v8h-8zM478 263h8v8h-8zM454 271h8v8h-8zM198 279h8v8h-8zM486 279h8v8h-8zM198 287h8v8h-8zM486 295h8v8h-8zM206 303h8v8h-8zM222 351h8v8h-8zM294 391h40v8h-40z"/><path fill="#3e3e3e" d="M302 119h56v8h-56zM278 127h8v8h-8zM374 127h16v8h-16zM262 135h8v8h-8zM398 135h8v8h-8zM246 143h8v8h-8zM406 143h8v8h-8zM238 151h8v8h-8zM230 159h8v8h-8zM222 167h8v8h-8zM214 175h8v8h-8zM438 175h8v8h-8zM446 183h8v8h-8zM206 191h8v8h-8zM454 199h8v8h-8zM198 207h8v8h-8zM454 207h8v8h-8zM198 215h8v8h-8zM462 223h8v8h-8zM462 231h8v8h-8zM470 255h8v8h-8zM198 263h8v8h-8zM198 271h8v8h-8zM430 271h8v8h-8zM478 271h8v8h-8zM470 279h8v8h-8zM206 287h8v8h-8zM478 287h16v8h-16zM206 295h8v8h-8zM214 311h8v8h-8zM422 343h8v8h-8zM414 351h8v8h-8zM366 383h8v8h-8z"/><path fill="#3f3f3f" d="M286 127h16v8h-16zM358 127h16v8h-16zM270 135h8v8h-8zM382 135h16v8h-16zM254 143h8v8h-8zM398 143h8v8h-8zM246 151h8v8h-8zM414 151h8v8h-8zM422 159h8v8h-8zM430 167h8v8h-8zM214 183h8v8h-8zM438 183h8v8h-8zM446 191h8v8h-8zM206 199h8v8h-8zM446 199h8v8h-8zM206 207h8v8h-8zM454 215h8v8h-8zM198 223h8v8h-8zM198 231h8v8h-8zM198 239h8v8h-8zM462 239h8v8h-8zM198 247h8v8h-8zM462 247h8v8h-8zM198 255h8v8h-8zM446 263h8v8h-8zM470 263h8v8h-8zM462 271h16v8h-16zM206 279h8v8h-8zM478 279h8v8h-8zM214 303h8v8h-8zM398 367h8v8h-8z"/><path fill="#404040" d="M302 127h56v8h-56zM278 135h8v8h-8zM374 135h8v8h-8zM262 143h8v8h-8zM390 143h8v8h-8zM406 151h8v8h-8zM238 159h8v8h-8zM414 159h8v8h-8zM422 167h8v8h-8zM430 175h8v8h-8zM214 191h8v8h-8zM438 191h8v8h-8zM446 207h8v8h-8zM206 215h8v8h-8zM206 223h8v8h-8zM454 223h8v8h-8zM454 231h8v8h-8zM206 255h8v8h-8zM462 255h8v8h-8zM206 263h8v8h-8zM454 263h16v8h-16zM206 271h8v8h-8zM214 295h8v8h-8zM222 343h8v8h-8zM406 359h8v8h-8z"/><path fill="#414141" d="M286 135h16v8h-16zM358 135h16v8h-16zM270 143h8v8h-8zM382 143h8v8h-8zM254 151h8v8h-8zM398 151h8v8h-8zM246 159h8v8h-8zM406 159h8v8h-8zM230 167h8v8h-8zM222 175h8v8h-8zM430 183h8v8h-8zM214 199h8v8h-8zM438 199h8v8h-8zM214 207h8v8h-8zM446 215h8v8h-8zM446 223h8v8h-8zM206 231h8v8h-8zM206 239h8v8h-8zM454 239h8v8h-8zM206 247h8v8h-8zM454 247h8v8h-8zM438 255h24v8h-24zM214 279h8v8h-8zM214 287h8v8h-8zM222 335h8v8h-8z"/><path fill="#424242" d="M302 135h56v8h-56zM278 143h16v8h-16zM366 143h16v8h-16zM262 151h16v8h-16zM390 151h8v8h-8zM254 159h8v8h-8zM398 159h8v8h-8zM414 167h8v8h-8zM422 175h8v8h-8zM438 207h8v8h-8zM214 215h8v8h-8zM214 223h8v8h-8zM214 231h8v8h-8zM446 231h8v8h-8zM446 239h8v8h-8zM446 247h8v8h-8zM214 263h8v8h-8zM430 263h8v8h-8zM214 271h8v8h-8zM238 367h8v8h-8zM374 375h8v8h-8zM262 383h8v8h-8z"/><path fill="#434343" d="M294 143h8v8h-8zM358 143h8v8h-8zM278 151h8v8h-8zM374 151h16v8h-16zM262 159h8v8h-8zM390 159h8v8h-8zM222 183h8v8h-8zM430 191h8v8h-8zM438 215h8v8h-8zM438 223h8v8h-8zM438 231h8v8h-8zM214 239h8v8h-8zM438 239h8v8h-8zM214 247h8v8h-8zM438 247h8v8h-8zM214 255h8v8h-8zM222 327h8v8h-8z"/><path fill="#444444" d="M302 143h8v8h-8zM342 143h16v8h-16zM286 151h8v8h-8zM366 151h8v8h-8zM270 159h8v8h-8zM382 159h8v8h-8zM406 167h8v8h-8zM222 319h8v8h-8zM422 335h8v8h-8z"/><path fill="#454545" d="M310 143h32v8h-32zM294 151h8v8h-8zM358 151h8v8h-8zM278 159h8v8h-8zM374 159h8v8h-8zM238 167h8v8h-8zM222 191h8v8h-8zM222 199h8v8h-8zM430 199h8v8h-8zM222 311h8v8h-8zM230 359h8v8h-8zM390 367h8v8h-8zM358 383h8v8h-8z"/><path fill="#464646" d="M350 151h8v8h-8zM286 159h8v8h-8zM366 159h8v8h-8zM398 167h8v8h-8zM414 175h8v8h-8zM422 183h8v8h-8zM222 207h8v8h-8zM430 255h8v8h-8zM222 303h8v8h-8zM254 375h8v8h-8z"/><path fill="#474747" d="M302 151h8v8h-8zM342 151h8v8h-8zM358 159h8v8h-8zM246 167h8v8h-8zM390 167h8v8h-8zM430 207h8v8h-8zM222 215h8v8h-8zM222 223h8v8h-8zM222 295h8v8h-8zM422 327h8v8h-8zM414 343h8v8h-8zM270 383h8v8h-8z"/><path fill="#484848" d="M310 151h32v8h-32zM294 159h8v8h-8zM350 159h8v8h-8zM254 167h16v8h-16zM230 175h8v8h-8zM430 215h8v8h-8zM222 231h8v8h-8zM430 247h8v8h-8zM222 287h8v8h-8zM422 311h8v8h-8zM422 319h8v8h-8z"/><path fill="#494949" d="M302 159h8v8h-8zM342 159h8v8h-8zM270 167h8v8h-8zM382 167h8v8h-8zM430 223h8v8h-8zM222 239h8v8h-8zM430 239h8v8h-8zM222 247h8v8h-8zM222 271h8v8h-8zM222 279h8v8h-8zM422 303h8v8h-8z"/><path fill="#4a4a4a" d="M310 159h32v8h-32zM278 167h8v8h-8zM374 167h8v8h-8zM406 175h8v8h-8zM422 191h8v8h-8zM430 231h8v8h-8zM222 255h8v8h-8zM222 263h8v8h-8zM406 351h8v8h-8zM246 367h8v8h-8zM278 383h8v8h-8zM350 383h8v8h-8z"/><path fill="#4b4b4b" d="M286 167h8v8h-8zM366 167h8v8h-8zM422 295h8v8h-8zM230 351h8v8h-8z"/><path fill="#4c4c4c" d="M294 167h8v8h-8zM358 167h8v8h-8zM414 183h8v8h-8zM422 279h8v8h-8zM422 287h8v8h-8zM382 367h8v8h-8zM286 383h8v8h-8zM342 383h8v8h-8z"/><path fill="#4d4d4d" d="M302 167h8v8h-8zM342 167h16v8h-16zM398 175h8v8h-8zM422 271h8v8h-8zM398 359h8v8h-8zM366 375h8v8h-8z"/><path fill="#4e4e4e" d="M310 167h32v8h-32zM230 183h8v8h-8zM422 199h8v8h-8zM230 343h8v8h-8zM238 359h8v8h-8zM294 383h8v8h-8zM334 383h8v8h-8z"/><path fill="#4f4f4f" d="M262 375h8v8h-8z"/><path fill="#505050" d="M238 175h8v8h-8zM390 175h8v8h-8zM422 263h8v8h-8zM230 335h8v8h-8zM302 383h32v8h-32z"/><path fill="#515151" d="M422 207h8v8h-8zM414 335h8v8h-8z"/><path fill="#525252" d="M406 183h8v8h-8zM230 191h8v8h-8zM414 191h8v8h-8zM230 327h8v8h-8zM254 367h8v8h-8z"/><path fill="#535353" d="M382 175h8v8h-8zM422 215h8v8h-8zM422 255h8v8h-8z"/><path fill="#545454" d="M230 199h8v8h-8zM230 319h8v8h-8zM406 343h8v8h-8zM238 351h8v8h-8zM270 375h8v8h-8z"/><path fill="#555555" d="M286 175h32v8h-32zM374 175h8v8h-8zM414 199h8v8h-8zM230 207h8v8h-8zM230 215h8v8h-8zM422 223h8v8h-8zM422 247h8v8h-8zM230 311h8v8h-8zM414 327h8v8h-8zM246 359h8v8h-8zM374 367h8v8h-8z"/><path fill="#565656" d="M246 175h8v8h-8zM270 175h16v8h-16zM318 175h32v8h-32zM230 223h8v8h-8zM422 231h8v8h-8zM422 239h8v8h-8zM230 303h8v8h-8z"/><path fill="#575757" d="M254 175h16v8h-16zM350 175h24v8h-24zM398 183h8v8h-8zM230 295h8v8h-8zM414 319h8v8h-8zM390 359h8v8h-8zM358 375h8v8h-8z"/><path fill="#585858" d="M406 191h8v8h-8zM414 207h8v8h-8zM230 231h8v8h-8zM230 287h8v8h-8zM238 343h8v8h-8zM398 351h8v8h-8zM278 375h8v8h-8z"/><path fill="#595959" d="M230 239h8v8h-8zM230 247h8v8h-8zM230 279h8v8h-8zM414 311h8v8h-8zM262 367h8v8h-8z"/><path fill="#5a5a5a" d="M414 215h8v8h-8zM230 255h8v8h-8zM230 263h8v8h-8zM230 271h8v8h-8z"/><path fill="#5b5b5b" d="M390 183h8v8h-8zM406 199h8v8h-8zM238 335h8v8h-8zM246 351h8v8h-8zM254 359h8v8h-8z"/><path fill="#5c5c5c" d="M414 223h8v8h-8zM414 255h8v8h-8zM414 263h8v8h-8zM286 375h8v8h-8z"/><path fill="#5d5d5d" d="M238 183h8v8h-8zM398 191h8v8h-8zM406 207h8v8h-8zM414 231h8v8h-8zM414 247h8v8h-8zM414 271h8v8h-8zM414 303h8v8h-8zM406 335h8v8h-8zM350 375h8v8h-8z"/><path fill="#5e5e5e" d="M414 239h8v8h-8zM238 327h8v8h-8z"/><path fill="#5f5f5f" d="M302 183h24v8h-24zM382 183h8v8h-8zM406 215h8v8h-8zM414 279h8v8h-8zM246 343h8v8h-8zM270 367h8v8h-8zM294 375h8v8h-8z"/><path fill="#606060" d="M294 183h8v8h-8zM326 183h8v8h-8zM398 199h8v8h-8zM382 359h8v8h-8zM366 367h8v8h-8zM342 375h8v8h-8z"/><path fill="#616161" d="M334 183h8v8h-8zM406 223h8v8h-8zM414 295h8v8h-8zM238 319h8v8h-8zM398 343h8v8h-8zM254 351h8v8h-8zM262 359h8v8h-8z"/><path fill="#626262" d="M342 183h8v8h-8zM390 191h8v8h-8zM398 207h8v8h-8zM406 231h8v8h-8zM414 287h8v8h-8zM406 327h8v8h-8zM246 335h8v8h-8zM302 375h8v8h-8z"/><path fill="#636363" d="M286 183h8v8h-8zM374 183h8v8h-8zM406 239h8v8h-8zM406 247h8v8h-8zM238 311h8v8h-8zM390 351h8v8h-8zM334 375h8v8h-8z"/><path fill="#646464" d="M350 183h8v8h-8zM238 191h8v8h-8zM398 215h8v8h-8zM238 303h8v8h-8zM278 367h8v8h-8z"/><path fill="#656565" d="M278 183h8v8h-8zM366 183h8v8h-8zM406 255h8v8h-8zM238 295h8v8h-8zM406 319h8v8h-8zM310 375h8v8h-8zM326 375h8v8h-8z"/><path fill="#666666" d="M358 183h8v8h-8zM390 199h8v8h-8zM398 223h8v8h-8zM246 327h8v8h-8zM254 343h8v8h-8zM318 375h8v8h-8z"/><path fill="#676767" d="M246 183h8v8h-8zM270 183h8v8h-8zM310 191h8v8h-8zM382 191h8v8h-8zM238 199h8v8h-8zM406 263h8v8h-8zM238 287h8v8h-8z"/><path fill="#686868" d="M302 191h8v8h-8zM318 191h8v8h-8zM238 207h8v8h-8zM390 207h8v8h-8zM238 231h8v8h-8zM398 231h8v8h-8zM238 239h8v8h-8zM238 279h8v8h-8zM398 335h8v8h-8zM262 351h8v8h-8zM270 359h8v8h-8zM374 359h8v8h-8zM358 367h8v8h-8z"/><path fill="#696969" d="M262 183h8v8h-8zM238 215h8v8h-8zM238 223h8v8h-8zM238 247h8v8h-8zM238 255h8v8h-8zM238 263h8v8h-8zM238 271h8v8h-8zM406 311h8v8h-8zM286 367h8v8h-8z"/><path fill="#6a6a6a" d="M254 183h8v8h-8zM294 191h8v8h-8zM326 191h8v8h-8zM390 215h8v8h-8zM398 239h8v8h-8zM246 319h8v8h-8zM254 335h8v8h-8z"/><path fill="#6b6b6b" d="M382 199h8v8h-8zM390 343h8v8h-8z"/><path fill="#6c6c6c" d="M334 191h8v8h-8zM374 191h8v8h-8zM390 223h8v8h-8zM406 271h8v8h-8zM382 351h8v8h-8z"/><path fill="#6d6d6d" d="M286 191h8v8h-8zM398 247h8v8h-8zM246 311h8v8h-8zM398 327h8v8h-8z"/><path fill="#6e6e6e" d="M342 191h8v8h-8zM302 199h8v8h-8zM382 207h8v8h-8zM406 303h8v8h-8zM254 327h8v8h-8zM262 343h8v8h-8zM278 359h8v8h-8zM294 367h8v8h-8zM350 367h8v8h-8z"/><path fill="#6f6f6f" d="M310 199h8v8h-8zM390 231h8v8h-8zM246 303h8v8h-8z"/><path fill="#707070" d="M350 191h8v8h-8zM366 191h8v8h-8zM294 199h8v8h-8zM318 199h8v8h-8zM382 215h8v8h-8zM246 295h8v8h-8zM270 351h8v8h-8zM366 359h8v8h-8z"/><path fill="#717171" d="M246 191h8v8h-8zM278 191h8v8h-8zM358 191h8v8h-8zM374 199h8v8h-8zM398 255h8v8h-8zM246 287h8v8h-8zM390 335h8v8h-8z"/><path fill="#727272" d="M406 279h8v8h-8zM398 319h8v8h-8zM342 367h8v8h-8z"/><path fill="#737373" d="M326 199h8v8h-8zM382 223h8v8h-8zM390 239h8v8h-8zM246 271h8v8h-8zM246 279h8v8h-8zM254 319h8v8h-8zM262 335h8v8h-8z"/><path fill="#747474" d="M270 191h8v8h-8zM286 199h8v8h-8zM374 207h8v8h-8zM246 239h8v8h-8zM246 247h8v8h-8zM246 255h8v8h-8zM246 263h8v8h-8zM406 295h8v8h-8zM382 343h8v8h-8zM374 351h8v8h-8zM302 367h8v8h-8z"/><path fill="#757575" d="M246 199h8v8h-8zM302 207h8v8h-8zM246 231h8v8h-8zM286 359h8v8h-8z"/><path fill="#767676" d="M254 191h16v8h-16zM334 199h8v8h-8zM366 199h8v8h-8zM294 207h8v8h-8zM310 207h8v8h-8zM398 263h8v8h-8zM406 287h8v8h-8zM254 311h8v8h-8zM270 343h8v8h-8zM334 367h8v8h-8z"/><path fill="#777777" d="M246 207h8v8h-8zM246 223h8v8h-8zM382 231h8v8h-8zM398 311h8v8h-8zM278 351h8v8h-8zM358 359h8v8h-8z"/><path fill="#787878" d="M278 199h8v8h-8zM342 199h8v8h-8zM246 215h8v8h-8zM374 215h8v8h-8zM390 247h8v8h-8zM254 303h8v8h-8zM262 327h8v8h-8zM390 327h8v8h-8zM310 367h8v8h-8z"/><path fill="#797979" d="M350 199h16v8h-16zM286 207h8v8h-8zM318 207h8v8h-8zM326 367h8v8h-8z"/><path fill="#7a7a7a" d="M254 295h8v8h-8zM318 367h8v8h-8z"/><path fill="#7b7b7b" d="M270 199h8v8h-8zM366 207h8v8h-8zM254 287h8v8h-8zM382 335h8v8h-8zM366 351h8v8h-8zM294 359h8v8h-8z"/><path fill="#7c7c7c" d="M254 199h8v8h-8zM326 207h8v8h-8zM374 223h8v8h-8zM254 279h8v8h-8zM262 319h8v8h-8zM270 335h8v8h-8zM374 343h8v8h-8z"/><path fill="#7d7d7d" d="M262 199h8v8h-8zM254 239h8v8h-8zM382 239h8v8h-8zM254 247h8v8h-8zM254 255h8v8h-8zM254 263h8v8h-8zM254 271h8v8h-8zM398 271h8v8h-8z"/><path fill="#7e7e7e" d="M254 207h8v8h-8zM278 207h8v8h-8zM294 215h8v8h-8zM254 231h8v8h-8zM398 303h8v8h-8zM390 319h8v8h-8zM350 359h8v8h-8z"/><path fill="#7f7f7f" d="M358 207h8v8h-8zM254 215h8v8h-8zM302 215h8v8h-8zM254 223h8v8h-8zM390 255h8v8h-8zM262 311h8v8h-8zM278 343h8v8h-8zM286 351h8v8h-8z"/><path fill="#808080" d="M334 207h8v8h-8zM286 215h8v8h-8zM366 215h8v8h-8z"/><path fill="#818181" d="M262 207h16v8h-16zM350 207h8v8h-8zM262 303h8v8h-8zM270 327h8v8h-8z"/><path fill="#828282" d="M342 207h8v8h-8zM310 215h8v8h-8zM374 231h8v8h-8zM382 327h8v8h-8z"/><path fill="#838383" d="M262 215h8v8h-8zM278 215h8v8h-8zM262 223h8v8h-8zM262 231h8v8h-8zM262 295h8v8h-8zM358 351h8v8h-8zM302 359h8v8h-8zM342 359h8v8h-8z"/><path fill="#848484" d="M270 215h8v8h-8zM262 239h8v8h-8zM262 247h8v8h-8zM398 279h8v8h-8zM262 287h8v8h-8zM374 335h8v8h-8z"/><path fill="#858585" d="M318 215h8v8h-8zM262 255h8v8h-8zM262 263h8v8h-8zM262 271h8v8h-8zM262 279h8v8h-8zM398 295h8v8h-8zM390 311h8v8h-8zM270 319h8v8h-8zM278 335h8v8h-8zM366 343h8v8h-8z"/><path fill="#868686" d="M358 215h8v8h-8zM270 223h8v8h-8zM366 223h8v8h-8zM382 247h8v8h-8zM390 263h8v8h-8z"/><path fill="#878787" d="M398 287h8v8h-8zM286 343h8v8h-8zM294 351h8v8h-8z"/><path fill="#888888" d="M278 223h8v8h-8zM270 231h8v8h-8zM334 359h8v8h-8z"/><path fill="#898989" d="M286 223h8v8h-8zM270 311h8v8h-8zM382 319h8v8h-8z"/><path fill="#8a8a8a" d="M326 215h8v8h-8zM294 223h8v8h-8zM270 239h8v8h-8zM374 239h8v8h-8zM310 359h8v8h-8z"/><path fill="#8b8b8b" d="M350 215h8v8h-8zM270 303h8v8h-8zM278 327h8v8h-8zM350 351h8v8h-8z"/><path fill="#8c8c8c" d="M270 247h8v8h-8zM374 327h8v8h-8zM326 359h8v8h-8z"/><path fill="#8d8d8d" d="M278 231h8v8h-8zM366 231h8v8h-8zM270 255h8v8h-8zM270 295h8v8h-8zM390 303h8v8h-8zM318 359h8v8h-8z"/><path fill="#8e8e8e" d="M334 215h16v8h-16zM270 263h8v8h-8zM270 271h8v8h-8zM390 271h8v8h-8zM270 279h8v8h-8zM270 287h8v8h-8zM366 335h8v8h-8zM358 343h8v8h-8z"/><path fill="#8f8f8f" d="M302 223h8v8h-8zM358 223h8v8h-8zM286 335h8v8h-8z"/><path fill="#909090" d="M382 255h8v8h-8zM278 319h8v8h-8z"/><path fill="#919191" d="M382 311h8v8h-8zM294 343h8v8h-8zM302 351h8v8h-8z"/><path fill="#929292" d="M278 239h8v8h-8z"/><path fill="#939393" d="M286 231h8v8h-8zM342 351h8v8h-8z"/><path fill="#949494" d="M390 279h8v8h-8zM390 295h8v8h-8zM278 311h8v8h-8zM374 319h8v8h-8z"/><path fill="#959595" d="M310 223h8v8h-8zM278 247h8v8h-8z"/><path fill="#969696" d="M374 247h8v8h-8zM278 303h8v8h-8zM366 327h8v8h-8z"/><path fill="#979797" d="M350 223h8v8h-8zM366 239h8v8h-8zM390 287h8v8h-8zM286 327h8v8h-8z"/><path fill="#989898" d="M278 255h8v8h-8zM382 263h8v8h-8zM278 295h8v8h-8zM358 335h8v8h-8zM350 343h8v8h-8z"/><path fill="#999999" d="M294 231h8v8h-8zM358 231h8v8h-8zM278 263h8v8h-8zM278 279h8v8h-8zM278 287h8v8h-8zM382 303h8v8h-8zM334 351h8v8h-8z"/><path fill="#9a9a9a" d="M318 223h8v8h-8zM278 271h8v8h-8zM310 351h8v8h-8z"/><path fill="#9b9b9b" d="M286 239h8v8h-8zM294 335h8v8h-8z"/><path fill="#9c9c9c" d="M374 311h8v8h-8z"/><path fill="#9d9d9d" d="M302 343h8v8h-8z"/><path fill="#9e9e9e" d="M326 223h8v8h-8zM342 223h8v8h-8zM286 319h8v8h-8zM326 351h8v8h-8z"/><path fill="#9f9f9f" d="M382 271h8v8h-8zM366 319h8v8h-8zM318 351h8v8h-8z"/><path fill="#a0a0a0" d="M334 223h8v8h-8z"/><path fill="#a1a1a1" d="M382 295h8v8h-8zM342 343h8v8h-8z"/><path fill="#a2a2a2" d="M286 247h8v8h-8zM358 327h8v8h-8z"/><path fill="#a3a3a3" d="M302 231h8v8h-8zM374 255h8v8h-8zM382 279h8v8h-8zM286 311h8v8h-8zM350 335h8v8h-8z"/><path fill="#a5a5a5" d="M358 239h8v8h-8zM382 287h8v8h-8z"/><path fill="#a6a6a6" d="M350 231h8v8h-8zM366 247h8v8h-8zM374 303h8v8h-8zM294 327h8v8h-8z"/><path fill="#a7a7a7" d="M294 239h8v8h-8zM286 255h8v8h-8zM286 303h8v8h-8z"/><path fill="#a9a9a9" d="M366 311h8v8h-8zM310 343h8v8h-8zM334 343h8v8h-8z"/><path fill="#aaaaaa" d="M286 263h8v8h-8zM286 295h8v8h-8zM302 335h8v8h-8z"/><path fill="#ababab" d="M286 271h8v8h-8zM286 279h8v8h-8zM286 287h8v8h-8z"/><path fill="#acacac" d="M374 263h8v8h-8zM358 319h8v8h-8z"/><path fill="#aeaeae" d="M310 231h8v8h-8zM342 335h8v8h-8z"/><path fill="#afafaf" d="M350 327h8v8h-8zM318 343h16v8h-16z"/><path fill="#b0b0b0" d="M374 295h8v8h-8z"/><path fill="#b1b1b1" d="M342 231h8v8h-8zM374 271h8v8h-8zM294 319h8v8h-8z"/><path fill="#b3b3b3" d="M294 247h8v8h-8z"/><path fill="#b4b4b4" d="M318 231h8v8h-8zM374 279h8v8h-8z"/><path fill="#b5b5b5" d="M334 231h8v8h-8zM350 239h8v8h-8zM358 247h8v8h-8zM374 287h8v8h-8zM366 303h8v8h-8z"/><path fill="#b6b6b6" d="M326 231h8v8h-8zM302 239h8v8h-8zM366 255h8v8h-8z"/><path fill="#b7b7b7" d="M358 311h8v8h-8z"/><path fill="#b8b8b8" d="M310 335h8v8h-8zM334 335h8v8h-8z"/><path fill="#b9b9b9" d="M302 327h8v8h-8z"/><path fill="#bababa" d="M294 311h8v8h-8zM350 319h8v8h-8z"/><path fill="#bbbbbb" d="M342 327h8v8h-8z"/><path fill="#bebebe" d="M294 255h8v8h-8zM318 335h16v8h-16z"/><path fill="#c0c0c0" d="M366 263h8v8h-8zM294 303h8v8h-8z"/><path fill="#c1c1c1" d="M366 295h8v8h-8z"/><path fill="#c2c2c2" d="M342 239h8v8h-8z"/><path fill="#c3c3c3" d="M294 263h8v8h-8z"/><path fill="#c4c4c4" d="M310 239h8v8h-8zM294 295h8v8h-8zM358 303h8v8h-8z"/><path fill="#c5c5c5" d="M350 247h8v8h-8zM294 271h8v8h-8zM366 271h8v8h-8zM334 327h8v8h-8z"/><path fill="#c6c6c6" d="M358 255h8v8h-8zM294 279h8v8h-8zM294 287h8v8h-8zM350 311h8v8h-8z"/><path fill="#c7c7c7" d="M302 247h8v8h-8zM366 279h8v8h-8zM366 287h8v8h-8zM302 319h8v8h-8zM310 327h8v8h-8z"/><path fill="#c8c8c8" d="M342 319h8v8h-8z"/><path fill="#c9c9c9" d="M334 239h8v8h-8z"/><path fill="#cbcbcb" d="M318 239h16v8h-16zM326 327h8v8h-8z"/><path fill="#cccccc" d="M318 327h8v8h-8z"/><path fill="#d1d1d1" d="M358 263h8v8h-8zM358 295h8v8h-8zM302 311h8v8h-8z"/><path fill="#d2d2d2" d="M334 319h8v8h-8z"/><path fill="#d3d3d3" d="M342 247h8v8h-8zM350 303h8v8h-8zM342 311h8v8h-8z"/><path fill="#d4d4d4" d="M302 255h8v8h-8zM350 255h8v8h-8z"/><path fill="#d5d5d5" d="M358 271h8v8h-8zM310 319h8v8h-8z"/><path fill="#d6d6d6" d="M310 247h8v8h-8z"/><path fill="#d7d7d7" d="M358 279h8v8h-8zM358 287h8v8h-8z"/><path fill="#d8d8d8" d="M302 303h8v8h-8zM326 319h8v8h-8z"/><path fill="#d9d9d9" d="M318 319h8v8h-8z"/><path fill="#dadada" d="M334 247h8v8h-8z"/><path fill="#dbdbdb" d="M302 263h8v8h-8z"/><path fill="#dcdcdc" d="M318 247h8v8h-8zM302 295h8v8h-8z"/><path fill="#dddddd" d="M326 247h8v8h-8z"/><path fill="#dedede" d="M350 263h8v8h-8zM302 271h8v8h-8zM302 279h8v8h-8zM302 287h8v8h-8zM350 295h8v8h-8zM334 311h8v8h-8z"/><path fill="#dfdfdf" d="M310 311h8v8h-8z"/><path fill="#e0e0e0" d="M342 303h8v8h-8z"/><path fill="#e1e1e1" d="M342 255h8v8h-8z"/><path fill="#e2e2e2" d="M350 271h8v8h-8z"/><path fill="#e3e3e3" d="M326 311h8v8h-8z"/><path fill="#e4e4e4" d="M310 255h8v8h-8zM350 279h8v8h-8zM350 287h8v8h-8zM318 311h8v8h-8z"/><path fill="#e7e7e7" d="M310 303h8v8h-8z"/><path fill="#e8e8e8" d="M334 255h8v8h-8z"/><path fill="#e9e9e9" d="M342 263h8v8h-8z"/><path fill="#eaeaea" d="M318 255h16v8h-16zM342 295h8v8h-8zM334 303h8v8h-8z"/><path fill="#ebebeb" d="M310 263h8v8h-8zM310 295h8v8h-8z"/><path fill="#ededed" d="M310 271h8v8h-8zM342 271h8v8h-8zM318 303h8v8h-8z"/><path fill="#eeeeee" d="M310 279h8v8h-8zM310 287h8v8h-8zM326 303h8v8h-8z"/><path fill="#efefef" d="M342 287h8v8h-8z"/><path fill="#f0f0f0" d="M342 279h8v8h-8z"/><path fill="#f1f1f1" d="M334 263h8v8h-8z"/><path fill="#f2f2f2" d="M318 263h8v8h-8z"/><path fill="#f3f3f3" d="M326 263h8v8h-8z"/><path fill="#f4f4f4" d="M318 295h8v8h-8zM334 295h8v8h-8z"/><path fill="#f5f5f5" d="M318 271h8v8h-8z"/><path fill="#f6f6f6" d="M334 271h8v8h-8z"/><path fill="#f7f7f7" d="M318 279h8v8h-8zM318 287h8v8h-8zM326 295h8v8h-8z"/><path fill="#f8f8f8" d="M326 271h8v8h-8zM334 279h8v8h-8zM334 287h8v8h-8z"/><path fill="#fbfbfb" d="M326 279h8v8h-8z"/><path fill="#fcfcfc" d="M326 287h8v8h-8z"/></g>
</g>
<g clip-path="url(#clB0)">
<g filter="url(#fltb)"><path fill="#262626" d="M768 7h8v8h-8z"/><path fill="#272727" d="M760 7h8v8h-8zM776 7h16v8h-16zM760 15h24v8h-24z"/><path fill="#282828" d="M752 7h8v8h-8zM792 7h8v8h-8zM752 15h8v8h-8zM784 15h8v8h-8zM760 23h24v8h-24z"/><path fill="#292929" d="M744 7h8v8h-8zM744 15h8v8h-8zM792 15h8v8h-8zM752 23h8v8h-8zM784 23h8v8h-8z"/><path fill="#2a2a2a" d="M736 7h8v8h-8zM800 7h8v8h-8zM736 15h8v8h-8zM800 15h8v8h-8zM744 23h8v8h-8zM792 23h8v8h-8zM760 31h32v8h-32z"/><path fill="#2b2b2b" d="M808 7h8v8h-8zM808 15h8v8h-8zM736 23h8v8h-8zM800 23h8v8h-8zM752 31h8v8h-8zM792 31h8v8h-8z"/><path fill="#2c2c2c" d="M728 7h8v8h-8zM728 15h8v8h-8zM808 23h8v8h-8zM744 31h8v8h-8zM768 39h16v8h-16z"/><path fill="#2d2d2d" d="M816 7h8v8h-8zM816 15h8v8h-8zM728 23h8v8h-8zM736 31h8v8h-8zM800 31h8v8h-8zM760 39h8v8h-8zM784 39h8v8h-8z"/><path fill="#2e2e2e" d="M720 7h8v8h-8zM720 15h8v8h-8zM816 23h8v8h-8zM808 31h8v8h-8zM744 39h16v8h-16zM792 39h8v8h-8z"/><path fill="#2f2f2f" d="M824 7h8v8h-8zM824 15h8v8h-8zM720 23h8v8h-8zM728 31h8v8h-8zM800 39h8v8h-8zM768 47h16v8h-16z"/><path fill="#303030" d="M712 7h8v8h-8zM712 15h8v8h-8zM824 23h8v8h-8zM720 31h8v8h-8zM816 31h8v8h-8zM736 39h8v8h-8zM752 47h16v8h-16zM784 47h8v8h-8z"/><path fill="#313131" d="M832 7h8v8h-8zM832 15h8v8h-8zM712 23h8v8h-8zM824 31h8v8h-8zM728 39h8v8h-8zM808 39h8v8h-8zM744 47h8v8h-8zM792 47h8v8h-8z"/><path fill="#323232" d="M832 23h8v8h-8zM816 39h8v8h-8zM736 47h8v8h-8zM800 47h8v8h-8zM768 55h16v8h-16z"/><path fill="#333333" d="M704 7h8v8h-8zM840 7h8v8h-8zM704 15h8v8h-8zM712 31h8v8h-8zM832 31h8v8h-8zM720 39h8v8h-8zM728 47h8v8h-8zM808 47h8v8h-8zM752 55h16v8h-16zM784 55h8v8h-8z"/><path fill="#343434" d="M840 15h8v8h-8zM704 23h8v8h-8zM840 23h8v8h-8zM824 39h8v8h-8zM744 55h8v8h-8zM792 55h8v8h-8z"/><path fill="#353535" d="M712 39h8v8h-8zM720 47h8v8h-8zM816 47h8v8h-8zM736 55h8v8h-8zM800 55h8v8h-8z"/><path fill="#363636" d="M696 7h8v8h-8zM848 7h8v8h-8zM696 15h8v8h-8zM848 15h8v8h-8zM848 23h8v8h-8zM704 31h8v8h-8zM840 31h8v8h-8zM832 39h8v8h-8zM824 47h8v8h-8zM728 55h8v8h-8zM760 63h32v8h-32z"/><path fill="#373737" d="M696 23h8v8h-8zM848 31h8v8h-8zM840 39h8v8h-8zM712 47h8v8h-8zM808 55h8v8h-8zM744 63h16v8h-16zM792 63h8v8h-8z"/><path fill="#383838" d="M680 7h16v8h-16zM856 7h8v8h-8zM680 15h16v8h-16zM856 15h8v8h-8zM856 23h8v8h-8zM704 39h8v8h-8zM832 47h8v8h-8zM720 55h8v8h-8zM816 55h8v8h-8zM736 63h8v8h-8zM1144 471h8v8h-8z"/><path fill="#393939" d="M680 23h16v8h-16zM696 31h8v8h-8zM856 31h8v8h-8zM848 39h8v8h-8zM824 55h8v8h-8zM728 63h8v8h-8zM800 63h8v8h-8zM1144 463h8v8h-8z"/><path fill="#3a3a3a" d="M864 7h8v8h-8zM864 15h8v8h-8zM864 23h8v8h-8zM688 31h8v8h-8zM696 39h8v8h-8zM704 47h8v8h-8zM840 47h8v8h-8zM712 55h8v8h-8zM720 63h8v8h-8zM808 63h8v8h-8zM752 71h40v8h-40zM1144 455h8v8h-8zM1136 463h8v8h-8zM1136 471h8v8h-8z"/><path fill="#3b3b3b" d="M872 7h8v8h-8zM872 15h8v8h-8zM680 31h8v8h-8zM864 31h8v8h-8zM856 39h8v8h-8zM848 47h8v8h-8zM832 55h8v8h-8zM816 63h8v8h-8zM744 71h8v8h-8zM792 71h8v8h-8zM1136 455h8v8h-8z"/><path fill="#3c3c3c" d="M872 23h8v8h-8zM872 31h8v8h-8zM688 39h8v8h-8zM864 39h8v8h-8zM696 47h8v8h-8zM704 55h8v8h-8zM840 55h8v8h-8zM712 63h8v8h-8zM728 71h16v8h-16zM800 71h8v8h-8z"/><path fill="#3d3d3d" d="M880 7h8v8h-8zM880 15h8v8h-8zM880 23h8v8h-8zM680 39h8v8h-8zM856 47h8v8h-8zM824 63h8v8h-8zM720 71h8v8h-8zM1144 447h8v8h-8z"/><path fill="#3e3e3e" d="M880 31h8v8h-8zM872 39h8v8h-8zM680 47h16v8h-16zM864 47h8v8h-8zM696 55h8v8h-8zM848 55h8v8h-8zM704 63h8v8h-8zM832 63h8v8h-8zM808 71h8v8h-8zM752 79h40v8h-40zM1136 447h8v8h-8z"/><path fill="#3f3f3f" d="M888 7h8v8h-8zM888 15h8v8h-8zM888 23h8v8h-8zM888 31h8v8h-8zM880 39h8v8h-8zM872 47h8v8h-8zM856 55h8v8h-8zM840 63h8v8h-8zM712 71h8v8h-8zM816 71h8v8h-8zM736 79h16v8h-16zM792 79h8v8h-8zM1128 463h8v8h-8zM1128 471h8v8h-8z"/><path fill="#404040" d="M896 7h8v8h-8zM896 15h8v8h-8zM896 23h8v8h-8zM888 39h8v8h-8zM880 47h8v8h-8zM680 55h16v8h-16zM864 55h8v8h-8zM848 63h8v8h-8zM824 71h8v8h-8zM728 79h8v8h-8zM800 79h8v8h-8zM1144 439h8v8h-8zM1128 455h8v8h-8z"/><path fill="#414141" d="M904 7h8v8h-8zM904 15h8v8h-8zM904 23h8v8h-8zM896 31h8v8h-8zM872 55h8v8h-8zM696 63h8v8h-8zM856 63h8v8h-8zM704 71h8v8h-8zM832 71h8v8h-8zM720 79h8v8h-8zM1136 439h8v8h-8z"/><path fill="#424242" d="M912 7h8v8h-8zM912 15h8v8h-8zM912 23h8v8h-8zM904 31h8v8h-8zM896 39h8v8h-8zM888 47h8v8h-8zM880 55h8v8h-8zM680 63h16v8h-16zM864 63h8v8h-8zM840 71h8v8h-8zM712 79h8v8h-8zM808 79h8v8h-8zM760 87h24v8h-24z"/><path fill="#434343" d="M920 7h8v8h-8zM920 15h8v8h-8zM920 23h8v8h-8zM912 31h8v8h-8zM904 39h8v8h-8zM896 47h8v8h-8zM888 55h8v8h-8zM872 63h8v8h-8zM696 71h8v8h-8zM848 71h8v8h-8zM816 79h8v8h-8zM736 87h24v8h-24zM784 87h16v8h-16zM1144 431h8v8h-8zM1128 447h8v8h-8z"/><path fill="#444444" d="M928 7h8v8h-8zM928 15h8v8h-8zM928 23h8v8h-8zM920 31h8v8h-8zM912 39h8v8h-8zM904 47h8v8h-8zM896 55h8v8h-8zM880 63h8v8h-8zM688 71h8v8h-8zM856 71h8v8h-8zM704 79h8v8h-8zM824 79h8v8h-8zM720 87h16v8h-16zM1136 431h8v8h-8z"/><path fill="#454545" d="M936 7h8v8h-8zM1120 7h32v8h-32zM936 15h8v8h-8zM1120 15h32v8h-32zM936 23h8v8h-8zM1128 23h24v8h-24zM928 31h8v8h-8zM1136 31h16v8h-16zM920 39h16v8h-16zM912 47h8v8h-8zM904 55h8v8h-8zM888 63h8v8h-8zM680 71h8v8h-8zM864 71h8v8h-8zM832 79h16v8h-16zM712 87h8v8h-8zM800 87h8v8h-8z"/><path fill="#464646" d="M944 7h16v8h-16zM1104 7h16v8h-16zM944 15h16v8h-16zM1104 15h16v8h-16zM944 23h8v8h-8zM1112 23h16v8h-16zM936 31h16v8h-16zM1120 31h16v8h-16zM936 39h8v8h-8zM1128 39h24v8h-24zM920 47h8v8h-8zM1128 47h24v8h-24zM912 55h8v8h-8zM1136 55h16v8h-16zM896 63h8v8h-8zM872 71h16v8h-16zM696 79h8v8h-8zM848 79h8v8h-8zM808 87h8v8h-8zM1144 423h8v8h-8zM1128 439h8v8h-8z"/><path fill="#474747" d="M960 7h16v8h-16zM1080 7h24v8h-24zM960 15h8v8h-8zM1080 15h24v8h-24zM952 23h16v8h-16zM1088 23h24v8h-24zM952 31h8v8h-8zM1104 31h16v8h-16zM944 39h8v8h-8zM1112 39h16v8h-16zM928 47h16v8h-16zM1120 47h8v8h-8zM920 55h8v8h-8zM1128 55h8v8h-8zM904 63h8v8h-8zM1136 63h16v8h-16zM888 71h8v8h-8zM1136 71h16v8h-16zM680 79h16v8h-16zM856 79h8v8h-8zM704 87h8v8h-8zM816 87h8v8h-8zM744 95h40v8h-40zM1136 423h8v8h-8zM1120 463h8v8h-8zM1120 471h8v8h-8z"/><path fill="#484848" d="M976 7h16v8h-16zM1064 7h16v8h-16zM968 15h16v8h-16zM1064 15h16v8h-16zM968 23h16v8h-16zM1064 23h24v8h-24zM960 31h16v8h-16zM1080 31h24v8h-24zM952 39h16v8h-16zM1096 39h16v8h-16zM944 47h8v8h-8zM1112 47h8v8h-8zM928 55h8v8h-8zM1120 55h8v8h-8zM912 63h8v8h-8zM1128 63h8v8h-8zM896 71h8v8h-8zM1128 71h8v8h-8zM864 79h8v8h-8zM1136 79h16v8h-16zM696 87h8v8h-8zM824 87h8v8h-8zM1144 87h8v8h-8zM720 95h24v8h-24zM784 95h8v8h-8z"/><path fill="#494949" d="M992 7h16v8h-16zM1040 7h24v8h-24zM984 15h24v8h-24zM1040 15h24v8h-24zM984 23h16v8h-16zM1048 23h16v8h-16zM976 31h16v8h-16zM1056 31h24v8h-24zM968 39h16v8h-16zM1080 39h16v8h-16zM952 47h16v8h-16zM1096 47h16v8h-16zM936 55h16v8h-16zM1112 55h8v8h-8zM920 63h16v8h-16zM1120 63h8v8h-8zM904 71h8v8h-8zM1120 71h8v8h-8zM872 79h16v8h-16zM1128 79h8v8h-8zM680 87h16v8h-16zM832 87h16v8h-16zM1128 87h16v8h-16zM712 95h8v8h-8zM792 95h8v8h-8zM1136 95h16v8h-16zM1144 415h8v8h-8zM1128 431h8v8h-8zM1120 455h8v8h-8z"/><path fill="#4a4a4a" d="M1008 7h32v8h-32zM1008 15h32v8h-32zM1000 23h48v8h-48zM992 31h64v8h-64zM984 39h16v8h-16zM1056 39h24v8h-24zM968 47h16v8h-16zM1080 47h16v8h-16zM952 55h8v8h-8zM1096 55h16v8h-16zM936 63h8v8h-8zM1112 63h8v8h-8zM912 71h16v8h-16zM1112 71h8v8h-8zM888 79h8v8h-8zM1120 79h8v8h-8zM848 87h8v8h-8zM704 95h8v8h-8zM800 95h8v8h-8zM1128 95h8v8h-8zM1136 103h16v8h-16zM1136 415h8v8h-8z"/><path fill="#4b4b4b" d="M1000 39h56v8h-56zM984 47h16v8h-16zM1056 47h24v8h-24zM960 55h16v8h-16zM1088 55h8v8h-8zM944 63h8v8h-8zM1104 63h8v8h-8zM928 71h8v8h-8zM896 79h16v8h-16zM1112 79h8v8h-8zM856 87h8v8h-8zM1120 87h8v8h-8zM696 95h8v8h-8zM808 95h8v8h-8zM1128 103h8v8h-8zM1136 111h16v8h-16zM1144 407h8v8h-8z"/><path fill="#4c4c4c" d="M1000 47h56v8h-56zM976 55h16v8h-16zM1064 55h24v8h-24zM952 63h16v8h-16zM1088 63h16v8h-16zM936 71h8v8h-8zM1104 71h8v8h-8zM912 79h8v8h-8zM864 87h16v8h-16zM1112 87h8v8h-8zM680 95h16v8h-16zM816 95h8v8h-8zM1120 95h8v8h-8zM728 103h32v8h-32zM1128 111h8v8h-8zM1136 119h16v8h-16zM1144 127h8v8h-8zM1136 407h8v8h-8zM1128 423h8v8h-8zM1120 447h8v8h-8z"/><path fill="#4d4d4d" d="M992 55h24v8h-24zM1040 55h24v8h-24zM968 63h16v8h-16zM1072 63h16v8h-16zM944 71h16v8h-16zM1096 71h8v8h-8zM920 79h16v8h-16zM1104 79h8v8h-8zM880 87h16v8h-16zM824 95h16v8h-16zM1112 95h8v8h-8zM712 103h16v8h-16zM760 103h32v8h-32zM1120 103h8v8h-8zM1128 119h8v8h-8zM1136 127h8v8h-8zM1136 135h16v8h-16z"/><path fill="#4e4e4e" d="M1016 55h24v8h-24zM984 63h16v8h-16zM1056 63h16v8h-16zM960 71h8v8h-8zM1080 71h16v8h-16zM936 79h8v8h-8zM1096 79h8v8h-8zM896 87h8v8h-8zM1104 87h8v8h-8zM840 95h8v8h-8zM688 103h24v8h-24zM792 103h8v8h-8zM1120 111h8v8h-8zM1128 127h8v8h-8zM1136 143h16v8h-16zM1144 399h8v8h-8zM1128 415h8v8h-8z"/><path fill="#4f4f4f" d="M1000 63h56v8h-56zM968 71h16v8h-16zM1064 71h16v8h-16zM944 79h8v8h-8zM1088 79h8v8h-8zM904 87h16v8h-16zM1096 87h8v8h-8zM848 95h8v8h-8zM1104 95h8v8h-8zM680 103h8v8h-8zM800 103h8v8h-8zM1112 103h8v8h-8zM1120 119h8v8h-8zM1128 135h8v8h-8zM1136 151h16v8h-16zM1144 159h8v8h-8zM1136 399h8v8h-8zM1120 439h8v8h-8z"/><path fill="#505050" d="M984 71h16v8h-16zM1048 71h16v8h-16zM952 79h16v8h-16zM1080 79h8v8h-8zM920 87h8v8h-8zM856 95h16v8h-16zM808 103h8v8h-8zM1112 111h8v8h-8zM1120 127h8v8h-8zM1128 143h8v8h-8zM1136 159h8v8h-8zM1144 167h8v8h-8zM1112 471h8v8h-8z"/><path fill="#515151" d="M1000 71h48v8h-48zM968 79h8v8h-8zM1064 79h16v8h-16zM928 87h16v8h-16zM1088 87h8v8h-8zM872 95h16v8h-16zM1096 95h8v8h-8zM816 103h8v8h-8zM1104 103h8v8h-8zM680 111h56v8h-56zM1112 119h8v8h-8zM1120 135h8v8h-8zM1128 151h8v8h-8zM1136 167h8v8h-8zM1136 175h16v8h-16zM1136 391h16v8h-16zM1128 407h8v8h-8zM1112 463h8v8h-8z"/><path fill="#525252" d="M976 79h16v8h-16zM1056 79h8v8h-8zM944 87h8v8h-8zM1080 87h8v8h-8zM888 95h16v8h-16zM1088 95h8v8h-8zM824 103h8v8h-8zM1096 103h8v8h-8zM736 111h32v8h-32zM1104 111h8v8h-8zM1112 127h8v8h-8zM1120 143h8v8h-8zM1128 159h8v8h-8zM1128 167h8v8h-8zM1136 183h16v8h-16zM1120 431h8v8h-8zM1112 455h8v8h-8z"/><path fill="#535353" d="M992 79h64v8h-64zM952 87h8v8h-8zM1072 87h8v8h-8zM904 95h8v8h-8zM832 103h16v8h-16zM768 111h16v8h-16zM1104 119h8v8h-8zM1128 175h8v8h-8zM1136 191h16v8h-16zM1144 383h8v8h-8zM1128 399h8v8h-8z"/><path fill="#545454" d="M960 87h16v8h-16zM1064 87h8v8h-8zM912 95h16v8h-16zM1080 95h8v8h-8zM848 103h8v8h-8zM1088 103h8v8h-8zM784 111h8v8h-8zM1096 111h8v8h-8zM1112 135h8v8h-8zM1120 151h8v8h-8zM1128 183h8v8h-8zM1136 199h16v8h-16zM1136 383h8v8h-8zM1120 423h8v8h-8zM680 463h8v8h-8zM680 471h16v8h-16z"/><path fill="#555555" d="M976 87h16v8h-16zM1056 87h8v8h-8zM928 95h8v8h-8zM1072 95h8v8h-8zM856 103h16v8h-16zM792 111h16v8h-16zM680 119h32v8h-32zM1104 127h8v8h-8zM1112 143h8v8h-8zM1120 159h8v8h-8zM1120 167h8v8h-8zM1128 191h8v8h-8zM1144 207h8v8h-8zM1128 391h8v8h-8zM1112 447h8v8h-8zM680 455h16v8h-16zM688 463h8v8h-8z"/><path fill="#565656" d="M992 87h16v8h-16zM1040 87h16v8h-16zM936 95h16v8h-16zM872 103h16v8h-16zM1080 103h8v8h-8zM808 111h8v8h-8zM1088 111h8v8h-8zM712 119h16v8h-16zM1096 119h8v8h-8zM1120 175h8v8h-8zM1128 199h8v8h-8zM1136 207h8v8h-8zM1136 375h16v8h-16zM1120 415h8v8h-8zM680 447h8v8h-8zM696 455h8v8h-8zM696 463h8v8h-8zM696 471h8v8h-8z"/><path fill="#575757" d="M1008 87h32v8h-32zM952 95h8v8h-8zM1064 95h8v8h-8zM888 103h16v8h-16zM816 111h8v8h-8zM728 119h16v8h-16zM1104 135h8v8h-8zM1112 151h8v8h-8zM1120 183h8v8h-8zM1136 215h16v8h-16zM1128 383h8v8h-8zM688 447h8v8h-8zM704 471h8v8h-8z"/><path fill="#585858" d="M960 95h16v8h-16zM1056 95h8v8h-8zM904 103h8v8h-8zM1072 103h8v8h-8zM824 111h16v8h-16zM1080 111h8v8h-8zM744 119h16v8h-16zM1088 119h8v8h-8zM680 127h16v8h-16zM1096 127h8v8h-8zM1104 143h8v8h-8zM1112 159h8v8h-8zM1120 191h8v8h-8zM1128 207h8v8h-8zM1144 223h8v8h-8zM1144 367h8v8h-8zM1120 407h8v8h-8zM680 439h16v8h-16zM1112 439h8v8h-8zM696 447h8v8h-8zM704 455h8v8h-8zM704 463h8v8h-8z"/><path fill="#595959" d="M976 95h8v8h-8zM1048 95h8v8h-8zM912 103h16v8h-16zM840 111h16v8h-16zM760 119h16v8h-16zM696 127h8v8h-8zM1096 135h8v8h-8zM1112 167h8v8h-8zM1128 215h8v8h-8zM1136 223h8v8h-8zM1144 231h8v8h-8zM1136 367h8v8h-8zM1128 375h8v8h-8zM1120 399h8v8h-8zM680 431h16v8h-16zM696 439h8v8h-8zM704 447h8v8h-8zM1104 463h8v8h-8zM1104 471h8v8h-8z"/><path fill="#5a5a5a" d="M984 95h16v8h-16zM1040 95h8v8h-8zM928 103h16v8h-16zM1064 103h8v8h-8zM856 111h8v8h-8zM1072 111h8v8h-8zM776 119h8v8h-8zM704 127h8v8h-8zM1088 127h8v8h-8zM1104 151h8v8h-8zM1112 175h8v8h-8zM1120 199h8v8h-8zM1136 231h8v8h-8zM1144 239h8v8h-8zM1136 359h16v8h-16zM1128 367h8v8h-8zM680 423h8v8h-8zM696 431h8v8h-8zM1112 431h8v8h-8zM1104 455h8v8h-8zM712 463h8v8h-8zM712 471h8v8h-8z"/><path fill="#5b5b5b" d="M1000 95h40v8h-40zM944 103h8v8h-8zM864 111h16v8h-16zM784 119h16v8h-16zM1080 119h8v8h-8zM712 127h8v8h-8zM1096 143h8v8h-8zM1104 159h8v8h-8zM1112 183h8v8h-8zM1128 223h8v8h-8zM1136 239h8v8h-8zM1136 247h16v8h-16zM1144 351h8v8h-8zM1120 391h8v8h-8zM680 415h16v8h-16zM688 423h8v8h-8zM704 439h8v8h-8zM712 455h8v8h-8z"/><path fill="#5c5c5c" d="M952 103h16v8h-16zM1056 103h8v8h-8zM880 111h16v8h-16zM800 119h8v8h-8zM720 127h8v8h-8zM680 135h16v8h-16zM1088 135h8v8h-8zM1104 167h8v8h-8zM1112 191h8v8h-8zM1120 207h8v8h-8zM1128 231h8v8h-8zM1136 255h16v8h-16zM680 327h8v8h-8zM680 335h8v8h-8zM680 343h16v8h-16zM1136 343h16v8h-16zM680 351h16v8h-16zM1136 351h8v8h-8zM680 359h16v8h-16zM1128 359h8v8h-8zM680 367h16v8h-16zM680 375h16v8h-16zM1120 375h8v8h-8zM680 383h16v8h-16zM1120 383h8v8h-8zM680 391h16v8h-16zM680 399h16v8h-16zM680 407h16v8h-16zM696 415h8v8h-8zM696 423h8v8h-8zM704 431h8v8h-8zM712 447h8v8h-8zM720 463h8v8h-8zM720 471h8v8h-8z"/><path fill="#5d5d5d" d="M968 103h8v8h-8zM1048 103h8v8h-8zM896 111h16v8h-16zM1064 111h8v8h-8zM808 119h16v8h-16zM1072 119h8v8h-8zM728 127h16v8h-16zM1080 127h8v8h-8zM696 135h8v8h-8zM1096 151h8v8h-8zM1104 175h8v8h-8zM1120 215h8v8h-8zM1128 239h8v8h-8zM1128 247h8v8h-8zM1136 263h16v8h-16zM1144 271h8v8h-8zM680 311h8v8h-8zM680 319h16v8h-16zM688 327h8v8h-8zM1136 327h16v8h-16zM688 335h8v8h-8zM1136 335h16v8h-16zM1128 343h8v8h-8zM1128 351h8v8h-8zM696 359h8v8h-8zM696 367h8v8h-8zM1120 367h8v8h-8zM696 375h8v8h-8zM696 383h8v8h-8zM696 391h8v8h-8zM696 399h8v8h-8zM696 407h8v8h-8zM704 423h8v8h-8zM1112 423h8v8h-8zM712 439h8v8h-8zM1104 447h8v8h-8zM720 455h8v8h-8z"/><path fill="#5e5e5e" d="M976 103h8v8h-8zM912 111h16v8h-16zM824 119h24v8h-24zM744 127h8v8h-8zM1088 143h8v8h-8zM1104 183h8v8h-8zM1112 199h8v8h-8zM1128 255h8v8h-8zM1128 263h8v8h-8zM1136 271h8v8h-8zM1136 279h16v8h-16zM1136 287h16v8h-16zM680 295h8v8h-8zM1144 295h8v8h-8zM680 303h16v8h-16zM1136 303h16v8h-16zM688 311h8v8h-8zM1136 311h16v8h-16zM1136 319h16v8h-16zM696 327h8v8h-8zM1128 327h8v8h-8zM696 335h8v8h-8zM1128 335h8v8h-8zM696 343h8v8h-8zM696 351h8v8h-8zM1120 359h8v8h-8zM704 415h8v8h-8zM712 431h8v8h-8zM720 447h8v8h-8z"/><path fill="#5f5f5f" d="M984 103h16v8h-16zM1040 103h8v8h-8zM928 111h16v8h-16zM1056 111h8v8h-8zM848 119h8v8h-8zM752 127h8v8h-8zM704 135h8v8h-8zM1080 135h8v8h-8zM1096 159h8v8h-8zM1120 223h8v8h-8zM680 271h8v8h-8zM1128 271h8v8h-8zM680 279h16v8h-16zM1128 279h8v8h-8zM680 287h16v8h-16zM688 295h8v8h-8zM1136 295h8v8h-8zM1128 303h8v8h-8zM696 311h8v8h-8zM1128 311h8v8h-8zM696 319h8v8h-8zM1128 319h8v8h-8zM1120 343h8v8h-8zM1120 351h8v8h-8zM704 375h8v8h-8zM704 383h8v8h-8zM704 391h8v8h-8zM704 399h8v8h-8zM704 407h8v8h-8zM1112 415h8v8h-8zM712 423h8v8h-8zM728 463h8v8h-8zM728 471h8v8h-8z"/><path fill="#606060" d="M1000 103h40v8h-40zM944 111h8v8h-8zM856 119h16v8h-16zM1064 119h8v8h-8zM760 127h16v8h-16zM1072 127h8v8h-8zM712 135h8v8h-8zM680 143h16v8h-16zM1088 151h8v8h-8zM1096 167h8v8h-8zM1104 191h8v8h-8zM1112 207h8v8h-8zM1120 231h8v8h-8zM1120 239h8v8h-8zM680 247h8v8h-8zM680 255h8v8h-8zM680 263h16v8h-16zM688 271h8v8h-8zM696 287h8v8h-8zM1128 287h8v8h-8zM696 295h8v8h-8zM1128 295h8v8h-8zM696 303h8v8h-8zM1120 327h8v8h-8zM704 335h8v8h-8zM1120 335h8v8h-8zM704 343h8v8h-8zM704 351h8v8h-8zM704 359h8v8h-8zM704 367h8v8h-8zM1112 399h8v8h-8zM1112 407h8v8h-8zM712 415h8v8h-8zM720 439h8v8h-8zM1104 439h8v8h-8zM728 455h8v8h-8zM1096 463h8v8h-8zM1096 471h8v8h-8z"/><path fill="#616161" d="M952 111h8v8h-8zM872 119h24v8h-24zM776 127h8v8h-8zM1080 143h8v8h-8zM1096 175h8v8h-8zM680 239h8v8h-8zM688 247h8v8h-8zM1120 247h8v8h-8zM688 255h8v8h-8zM1120 255h8v8h-8zM1120 263h8v8h-8zM696 271h8v8h-8zM1120 271h8v8h-8zM696 279h8v8h-8zM1120 303h8v8h-8zM704 311h8v8h-8zM1120 311h8v8h-8zM704 319h8v8h-8zM1120 319h8v8h-8zM704 327h8v8h-8zM1112 359h8v8h-8zM1112 367h8v8h-8zM1112 375h8v8h-8zM1112 383h8v8h-8zM1112 391h8v8h-8zM712 399h8v8h-8zM712 407h8v8h-8zM720 431h8v8h-8zM728 447h8v8h-8zM1096 455h8v8h-8z"/><path fill="#626262" d="M960 111h16v8h-16zM1048 111h8v8h-8zM896 119h16v8h-16zM784 127h8v8h-8zM720 135h8v8h-8zM1072 135h8v8h-8zM696 143h8v8h-8zM1088 159h8v8h-8zM1096 183h8v8h-8zM1104 199h8v8h-8zM1112 215h8v8h-8zM680 231h16v8h-16zM688 239h8v8h-8zM696 255h8v8h-8zM696 263h8v8h-8zM1120 279h8v8h-8zM1120 287h8v8h-8zM704 295h8v8h-8zM1120 295h8v8h-8zM704 303h8v8h-8zM1112 335h8v8h-8zM1112 343h8v8h-8zM712 351h8v8h-8zM1112 351h8v8h-8zM712 359h8v8h-8zM712 367h8v8h-8zM712 375h8v8h-8zM712 383h8v8h-8zM712 391h8v8h-8zM720 423h8v8h-8zM1104 431h8v8h-8zM728 439h8v8h-8zM736 463h8v8h-8zM736 471h8v8h-8z"/><path fill="#636363" d="M976 111h8v8h-8zM1040 111h8v8h-8zM912 119h16v8h-16zM1056 119h8v8h-8zM792 127h16v8h-16zM1064 127h8v8h-8zM728 135h8v8h-8zM1080 151h8v8h-8zM1088 167h8v8h-8zM680 223h16v8h-16zM1112 223h8v8h-8zM696 239h8v8h-8zM696 247h8v8h-8zM704 279h8v8h-8zM704 287h8v8h-8zM1112 319h8v8h-8zM712 327h8v8h-8zM1112 327h8v8h-8zM712 335h8v8h-8zM712 343h8v8h-8zM720 415h8v8h-8zM1096 447h8v8h-8zM736 455h8v8h-8z"/><path fill="#646464" d="M984 111h8v8h-8zM1032 111h8v8h-8zM928 119h8v8h-8zM808 127h40v8h-40zM736 135h8v8h-8zM704 143h8v8h-8zM1072 143h8v8h-8zM680 151h16v8h-16zM1096 191h8v8h-8zM1104 207h8v8h-8zM680 215h8v8h-8zM696 231h8v8h-8zM1112 231h8v8h-8zM1112 239h8v8h-8zM704 263h8v8h-8zM704 271h8v8h-8zM1112 295h8v8h-8zM1112 303h8v8h-8zM712 311h8v8h-8zM1112 311h8v8h-8zM712 319h8v8h-8zM720 375h8v8h-8zM720 383h8v8h-8zM720 391h8v8h-8zM720 399h8v8h-8zM720 407h8v8h-8zM1104 423h8v8h-8zM728 431h8v8h-8zM736 447h8v8h-8z"/><path fill="#656565" d="M992 111h16v8h-16zM1016 111h16v8h-16zM936 119h16v8h-16zM1048 119h8v8h-8zM848 127h32v8h-32zM744 135h8v8h-8zM1064 135h8v8h-8zM1080 159h8v8h-8zM1088 175h8v8h-8zM688 215h8v8h-8zM696 223h8v8h-8zM1112 247h8v8h-8zM704 255h8v8h-8zM1112 255h8v8h-8zM1112 263h8v8h-8zM1112 271h8v8h-8zM1112 279h8v8h-8zM1112 287h8v8h-8zM712 295h8v8h-8zM712 303h8v8h-8zM1104 335h8v8h-8zM720 343h8v8h-8zM1104 343h8v8h-8zM720 351h8v8h-8zM1104 351h8v8h-8zM720 359h8v8h-8zM1104 359h8v8h-8zM720 367h8v8h-8zM1104 367h8v8h-8zM728 423h8v8h-8zM736 439h8v8h-8zM744 463h8v8h-8zM744 471h8v8h-8zM1088 471h8v8h-8z"/><path fill="#666666" d="M1008 111h8v8h-8zM952 119h8v8h-8zM880 127h16v8h-16zM1056 127h8v8h-8zM752 135h8v8h-8zM712 143h8v8h-8zM696 151h8v8h-8zM1072 151h8v8h-8zM1088 183h8v8h-8zM1096 199h8v8h-8zM680 207h16v8h-16zM1104 215h8v8h-8zM704 239h8v8h-8zM704 247h8v8h-8zM712 279h8v8h-8zM712 287h8v8h-8zM1104 319h8v8h-8zM720 327h8v8h-8zM1104 327h8v8h-8zM720 335h8v8h-8zM1104 375h8v8h-8zM1104 383h8v8h-8zM728 407h8v8h-8zM1104 407h8v8h-8zM728 415h8v8h-8zM1104 415h8v8h-8zM1096 439h8v8h-8zM744 455h8v8h-8zM1088 463h8v8h-8z"/><path fill="#676767" d="M960 119h8v8h-8zM896 127h24v8h-24zM760 135h8v8h-8zM1064 143h8v8h-8zM680 159h16v8h-16zM1080 167h8v8h-8zM680 199h8v8h-8zM696 215h8v8h-8zM704 231h8v8h-8zM712 263h8v8h-8zM712 271h8v8h-8zM720 303h8v8h-8zM1104 303h8v8h-8zM720 311h8v8h-8zM1104 311h8v8h-8zM720 319h8v8h-8zM728 359h8v8h-8zM728 367h8v8h-8zM728 375h8v8h-8zM728 383h8v8h-8zM728 391h8v8h-8zM1104 391h8v8h-8zM728 399h8v8h-8zM1104 399h8v8h-8zM736 431h8v8h-8zM744 447h8v8h-8zM1088 455h8v8h-8z"/><path fill="#686868" d="M968 119h16v8h-16zM1040 119h8v8h-8zM920 127h8v8h-8zM1056 135h8v8h-8zM720 143h8v8h-8zM704 151h8v8h-8zM696 159h8v8h-8zM1072 159h8v8h-8zM680 167h8v8h-8zM1080 175h8v8h-8zM1088 191h8v8h-8zM688 199h8v8h-8zM696 207h8v8h-8zM1096 207h8v8h-8zM704 223h8v8h-8zM1104 223h8v8h-8zM1104 231h8v8h-8zM712 255h8v8h-8zM1104 263h8v8h-8zM1104 271h8v8h-8zM1104 279h8v8h-8zM720 287h8v8h-8zM1104 287h8v8h-8zM720 295h8v8h-8zM1104 295h8v8h-8zM728 335h8v8h-8zM728 343h8v8h-8zM728 351h8v8h-8zM736 423h8v8h-8zM1096 431h8v8h-8zM752 463h8v8h-8zM752 471h8v8h-8z"/><path fill="#696969" d="M984 119h8v8h-8zM1032 119h8v8h-8zM928 127h16v8h-16zM1048 127h8v8h-8zM768 135h8v8h-8zM1064 151h8v8h-8zM688 167h8v8h-8zM680 175h8v8h-8zM680 183h8v8h-8zM680 191h16v8h-16zM696 199h8v8h-8zM712 239h8v8h-8zM1104 239h8v8h-8zM712 247h8v8h-8zM1104 247h8v8h-8zM1104 255h8v8h-8zM720 271h8v8h-8zM720 279h8v8h-8zM728 319h8v8h-8zM728 327h8v8h-8zM1096 327h8v8h-8zM1096 335h8v8h-8zM1096 343h8v8h-8zM1096 351h8v8h-8zM1096 359h8v8h-8zM736 407h8v8h-8zM736 415h8v8h-8zM744 439h8v8h-8zM1088 447h8v8h-8zM752 455h8v8h-8z"/><path fill="#6a6a6a" d="M992 119h40v8h-40zM944 127h8v8h-8zM776 135h16v8h-16zM848 135h48v8h-48zM728 143h8v8h-8zM1056 143h8v8h-8zM696 167h8v8h-8zM1072 167h8v8h-8zM688 175h8v8h-8zM688 183h8v8h-8zM1080 183h8v8h-8zM1088 199h8v8h-8zM704 215h8v8h-8zM1096 215h8v8h-8zM712 231h8v8h-8zM720 255h8v8h-8zM720 263h8v8h-8zM728 303h8v8h-8zM728 311h8v8h-8zM1096 311h8v8h-8zM1096 319h8v8h-8zM736 343h8v8h-8zM736 351h8v8h-8zM736 359h8v8h-8zM736 367h8v8h-8zM1096 367h8v8h-8zM736 375h8v8h-8zM1096 375h8v8h-8zM736 383h8v8h-8zM736 391h8v8h-8zM736 399h8v8h-8zM1096 423h8v8h-8zM744 431h8v8h-8zM752 447h8v8h-8zM1080 463h8v8h-8zM1080 471h8v8h-8z"/><path fill="#6b6b6b" d="M952 127h8v8h-8zM1040 127h8v8h-8zM792 135h56v8h-56zM896 135h24v8h-24zM1048 135h8v8h-8zM736 143h8v8h-8zM712 151h8v8h-8zM704 159h8v8h-8zM1064 159h8v8h-8zM696 175h8v8h-8zM696 183h8v8h-8zM696 191h8v8h-8zM704 207h8v8h-8zM720 247h8v8h-8zM728 279h8v8h-8zM728 287h8v8h-8zM728 295h8v8h-8zM1096 295h8v8h-8zM1096 303h8v8h-8zM736 327h8v8h-8zM736 335h8v8h-8zM1096 383h8v8h-8zM1096 415h8v8h-8zM744 423h8v8h-8zM1088 439h8v8h-8zM1080 455h8v8h-8z"/><path fill="#6c6c6c" d="M960 127h8v8h-8zM920 135h8v8h-8zM1056 151h8v8h-8zM1072 175h8v8h-8zM1080 191h8v8h-8zM704 199h8v8h-8zM1088 207h8v8h-8zM712 223h8v8h-8zM1096 223h8v8h-8zM720 239h8v8h-8zM728 255h8v8h-8zM728 263h8v8h-8zM728 271h8v8h-8zM1096 271h8v8h-8zM1096 279h8v8h-8zM1096 287h8v8h-8zM736 319h8v8h-8zM1096 391h8v8h-8zM1096 399h8v8h-8zM744 407h8v8h-8zM1096 407h8v8h-8zM744 415h8v8h-8zM752 439h8v8h-8zM760 455h8v8h-8zM760 463h8v8h-8zM760 471h8v8h-8z"/><path fill="#6d6d6d" d="M968 127h16v8h-16zM1032 127h8v8h-8zM928 135h8v8h-8zM744 143h8v8h-8zM1048 143h8v8h-8zM720 151h8v8h-8zM704 167h8v8h-8zM1064 167h8v8h-8zM1072 183h8v8h-8zM704 191h8v8h-8zM712 215h8v8h-8zM720 231h8v8h-8zM1096 231h8v8h-8zM1096 239h8v8h-8zM728 247h8v8h-8zM1096 247h8v8h-8zM1096 255h8v8h-8zM1096 263h8v8h-8zM736 303h8v8h-8zM736 311h8v8h-8zM744 335h8v8h-8zM1088 335h8v8h-8zM744 343h8v8h-8zM1088 343h8v8h-8zM744 351h8v8h-8zM1088 351h8v8h-8zM744 359h8v8h-8zM1088 359h8v8h-8zM744 367h8v8h-8zM744 375h8v8h-8zM744 383h8v8h-8zM744 391h8v8h-8zM744 399h8v8h-8zM752 431h8v8h-8zM1088 431h8v8h-8zM1080 447h8v8h-8zM1072 463h8v8h-8zM1072 471h8v8h-8z"/><path fill="#6e6e6e" d="M984 127h8v8h-8zM1016 127h16v8h-16zM936 135h8v8h-8zM1040 135h8v8h-8zM752 143h8v8h-8zM864 143h40v8h-40zM712 159h8v8h-8zM1056 159h8v8h-8zM704 175h8v8h-8zM704 183h8v8h-8zM1080 199h8v8h-8zM712 207h8v8h-8zM1088 215h8v8h-8zM720 223h8v8h-8zM728 239h8v8h-8zM736 255h8v8h-8zM736 263h8v8h-8zM736 271h8v8h-8zM736 279h8v8h-8zM736 287h8v8h-8zM736 295h8v8h-8zM1088 311h8v8h-8zM1088 319h8v8h-8zM744 327h8v8h-8zM1088 327h8v8h-8zM1088 367h8v8h-8zM752 423h8v8h-8zM1088 423h8v8h-8zM760 447h8v8h-8zM1072 455h8v8h-8z"/><path fill="#6f6f6f" d="M992 127h24v8h-24zM944 135h8v8h-8zM1032 135h8v8h-8zM856 143h8v8h-8zM904 143h16v8h-16zM1048 151h8v8h-8zM1064 175h8v8h-8zM1072 191h8v8h-8zM712 199h8v8h-8zM728 231h8v8h-8zM736 247h8v8h-8zM1088 295h8v8h-8zM1088 303h8v8h-8zM744 319h8v8h-8zM752 343h8v8h-8zM752 351h8v8h-8zM752 359h8v8h-8zM752 367h8v8h-8zM752 375h8v8h-8zM1088 375h8v8h-8zM1088 383h8v8h-8zM752 415h8v8h-8zM1088 415h8v8h-8zM760 439h8v8h-8zM1080 439h8v8h-8zM768 463h8v8h-8zM768 471h8v8h-8z"/><path fill="#707070" d="M952 135h8v8h-8zM760 143h8v8h-8zM848 143h8v8h-8zM920 143h8v8h-8zM1040 143h8v8h-8zM728 151h8v8h-8zM712 167h8v8h-8zM1080 207h8v8h-8zM720 215h8v8h-8zM728 223h8v8h-8zM1088 223h8v8h-8zM736 239h8v8h-8zM1088 271h8v8h-8zM1088 279h8v8h-8zM1088 287h8v8h-8zM744 295h8v8h-8zM744 303h8v8h-8zM744 311h8v8h-8zM752 335h8v8h-8zM752 383h8v8h-8zM752 391h8v8h-8zM1088 391h8v8h-8zM752 399h8v8h-8zM1088 399h8v8h-8zM752 407h8v8h-8zM1088 407h8v8h-8zM1072 447h8v8h-8zM768 455h8v8h-8zM1064 463h8v8h-8zM1064 471h8v8h-8z"/><path fill="#717171" d="M960 135h8v8h-8zM1024 135h8v8h-8zM928 143h8v8h-8zM720 159h8v8h-8zM1048 159h8v8h-8zM1056 167h8v8h-8zM712 175h8v8h-8zM712 183h8v8h-8zM1064 183h8v8h-8zM712 191h8v8h-8zM720 207h8v8h-8zM736 231h8v8h-8zM1088 231h8v8h-8zM1088 239h8v8h-8zM1088 247h8v8h-8zM744 255h8v8h-8zM1088 255h8v8h-8zM744 263h8v8h-8zM1088 263h8v8h-8zM744 271h8v8h-8zM744 279h8v8h-8zM744 287h8v8h-8zM752 319h8v8h-8zM752 327h8v8h-8zM760 431h8v8h-8zM1080 431h8v8h-8zM1064 455h8v8h-8z"/><path fill="#727272" d="M968 135h16v8h-16zM1008 135h16v8h-16zM768 143h8v8h-8zM840 143h8v8h-8zM936 143h8v8h-8zM1032 143h8v8h-8zM736 151h8v8h-8zM1040 151h8v8h-8zM1072 199h8v8h-8zM728 215h8v8h-8zM1080 215h8v8h-8zM744 239h8v8h-8zM744 247h8v8h-8zM752 311h8v8h-8zM1080 327h8v8h-8zM1080 335h8v8h-8zM760 343h8v8h-8zM1080 343h8v8h-8zM760 351h8v8h-8zM1080 351h8v8h-8zM760 359h8v8h-8zM1080 359h8v8h-8zM760 367h8v8h-8zM1080 367h8v8h-8zM760 423h8v8h-8zM1080 423h8v8h-8zM1072 439h8v8h-8zM768 447h8v8h-8z"/><path fill="#737373" d="M984 135h24v8h-24zM776 143h8v8h-8zM832 143h8v8h-8zM1024 143h8v8h-8zM864 151h48v8h-48zM720 167h8v8h-8zM1056 175h8v8h-8zM1064 191h8v8h-8zM720 199h8v8h-8zM736 223h8v8h-8zM752 295h8v8h-8zM752 303h8v8h-8zM1080 303h8v8h-8zM1080 311h8v8h-8zM1080 319h8v8h-8zM760 327h8v8h-8zM760 335h8v8h-8zM760 375h8v8h-8zM1080 375h8v8h-8zM760 383h8v8h-8zM1080 383h8v8h-8zM760 391h8v8h-8zM760 399h8v8h-8zM760 407h8v8h-8zM760 415h8v8h-8zM1080 415h8v8h-8zM768 439h8v8h-8zM1064 447h8v8h-8zM1056 463h8v8h-8zM776 471h8v8h-8zM1056 471h8v8h-8z"/><path fill="#747474" d="M784 143h48v8h-48zM944 143h8v8h-8zM1016 143h8v8h-8zM744 151h8v8h-8zM856 151h8v8h-8zM912 151h8v8h-8zM1032 151h8v8h-8zM728 159h8v8h-8zM1040 159h8v8h-8zM1048 167h8v8h-8zM720 191h8v8h-8zM1072 207h8v8h-8zM1080 223h8v8h-8zM744 231h8v8h-8zM752 271h8v8h-8zM1080 271h8v8h-8zM752 279h8v8h-8zM1080 279h8v8h-8zM752 287h8v8h-8zM1080 287h8v8h-8zM1080 295h8v8h-8zM760 319h8v8h-8zM1080 391h8v8h-8zM1080 399h8v8h-8zM1080 407h8v8h-8zM1072 431h8v8h-8zM776 455h8v8h-8zM1056 455h8v8h-8zM776 463h8v8h-8z"/><path fill="#757575" d="M952 143h8v8h-8zM1008 143h8v8h-8zM920 151h8v8h-8zM720 175h8v8h-8zM720 183h8v8h-8zM1056 183h8v8h-8zM728 207h8v8h-8zM736 215h8v8h-8zM1080 231h8v8h-8zM1080 239h8v8h-8zM1080 247h8v8h-8zM752 255h8v8h-8zM1080 255h8v8h-8zM752 263h8v8h-8zM1080 263h8v8h-8zM760 311h8v8h-8zM1072 423h8v8h-8zM768 431h8v8h-8zM1064 439h8v8h-8z"/><path fill="#767676" d="M960 143h8v8h-8zM1000 143h8v8h-8zM752 151h8v8h-8zM928 151h8v8h-8zM1024 151h8v8h-8zM1048 175h8v8h-8zM1064 199h8v8h-8zM1072 215h8v8h-8zM744 223h8v8h-8zM752 247h8v8h-8zM760 303h8v8h-8zM768 335h8v8h-8zM768 343h8v8h-8zM768 351h8v8h-8zM768 359h8v8h-8zM768 367h8v8h-8zM1072 415h8v8h-8zM768 423h8v8h-8zM776 447h8v8h-8zM1056 447h8v8h-8zM1048 463h8v8h-8zM1048 471h8v8h-8z"/><path fill="#777777" d="M968 143h32v8h-32zM848 151h8v8h-8zM1016 151h8v8h-8zM736 159h8v8h-8zM1032 159h8v8h-8zM728 167h8v8h-8zM1040 167h8v8h-8zM1056 191h8v8h-8zM728 199h8v8h-8zM752 239h8v8h-8zM760 287h8v8h-8zM760 295h8v8h-8zM768 327h8v8h-8zM1072 327h8v8h-8zM1072 335h8v8h-8zM1072 343h8v8h-8zM1072 351h8v8h-8zM1072 359h8v8h-8zM1072 367h8v8h-8zM768 375h8v8h-8zM1072 375h8v8h-8zM768 383h8v8h-8zM768 391h8v8h-8zM1072 399h8v8h-8zM768 407h8v8h-8zM1072 407h8v8h-8zM768 415h8v8h-8zM1064 431h8v8h-8z"/><path fill="#787878" d="M760 151h8v8h-8zM936 151h8v8h-8zM728 191h8v8h-8zM736 207h8v8h-8zM1064 207h8v8h-8zM1072 223h8v8h-8zM760 271h8v8h-8zM760 279h8v8h-8zM1072 287h8v8h-8zM1072 295h8v8h-8zM1072 303h8v8h-8zM1072 311h8v8h-8zM768 319h8v8h-8zM1072 319h8v8h-8zM1072 383h8v8h-8zM1072 391h8v8h-8zM768 399h8v8h-8zM776 439h8v8h-8zM1056 439h8v8h-8zM1048 455h8v8h-8zM784 463h8v8h-8zM784 471h8v8h-8z"/><path fill="#797979" d="M840 151h8v8h-8zM944 151h8v8h-8zM1008 151h8v8h-8zM872 159h16v8h-16zM1024 159h8v8h-8zM728 175h8v8h-8zM728 183h8v8h-8zM1048 183h8v8h-8zM1056 199h8v8h-8zM744 215h8v8h-8zM752 231h8v8h-8zM1072 231h8v8h-8zM1072 239h8v8h-8zM1072 247h8v8h-8zM1072 255h8v8h-8zM760 263h8v8h-8zM1072 263h8v8h-8zM1072 271h8v8h-8zM1072 279h8v8h-8zM768 311h8v8h-8zM1064 423h8v8h-8zM784 455h8v8h-8z"/><path fill="#7a7a7a" d="M952 151h8v8h-8zM1000 151h8v8h-8zM744 159h8v8h-8zM864 159h8v8h-8zM888 159h32v8h-32zM1032 167h8v8h-8zM1040 175h8v8h-8zM1064 215h8v8h-8zM760 255h8v8h-8zM768 295h8v8h-8zM768 303h8v8h-8zM1064 415h8v8h-8zM776 431h8v8h-8zM1048 447h8v8h-8zM1040 463h8v8h-8zM1040 471h8v8h-8z"/><path fill="#7b7b7b" d="M768 151h8v8h-8zM832 151h8v8h-8zM960 151h8v8h-8zM984 151h16v8h-16zM856 159h8v8h-8zM920 159h8v8h-8zM1016 159h8v8h-8zM736 167h8v8h-8zM1048 191h8v8h-8zM736 199h8v8h-8zM752 223h8v8h-8zM760 247h8v8h-8zM768 287h8v8h-8zM776 335h8v8h-8zM776 343h8v8h-8zM776 351h8v8h-8zM776 359h8v8h-8zM1064 407h8v8h-8zM776 423h8v8h-8zM1056 431h8v8h-8zM784 447h8v8h-8zM1040 455h8v8h-8z"/><path fill="#7c7c7c" d="M816 151h16v8h-16zM968 151h16v8h-16zM1008 159h8v8h-8zM1024 167h8v8h-8zM1040 183h8v8h-8zM1056 207h8v8h-8zM1064 223h8v8h-8zM768 279h8v8h-8zM776 327h8v8h-8zM776 367h8v8h-8zM776 375h8v8h-8zM776 383h8v8h-8zM1064 383h8v8h-8zM776 391h8v8h-8zM1064 391h8v8h-8zM1064 399h8v8h-8zM776 407h8v8h-8zM776 415h8v8h-8zM1056 423h8v8h-8zM1048 439h8v8h-8z"/><path fill="#7d7d7d" d="M776 151h8v8h-8zM800 151h16v8h-16zM752 159h8v8h-8zM848 159h8v8h-8zM928 159h8v8h-8zM736 175h8v8h-8zM1032 175h8v8h-8zM736 191h8v8h-8zM1048 199h8v8h-8zM744 207h8v8h-8zM1064 231h8v8h-8zM760 239h8v8h-8zM1064 239h8v8h-8zM1064 247h8v8h-8zM768 271h8v8h-8zM776 311h8v8h-8zM776 319h8v8h-8zM1064 319h8v8h-8zM1064 327h8v8h-8zM1064 335h8v8h-8zM1064 343h8v8h-8zM1064 351h8v8h-8zM1064 359h8v8h-8zM1064 367h8v8h-8zM1064 375h8v8h-8zM776 399h8v8h-8zM784 439h8v8h-8zM1040 447h8v8h-8zM792 463h8v8h-8zM792 471h8v8h-8zM1032 471h8v8h-8z"/><path fill="#7e7e7e" d="M784 151h16v8h-16zM936 159h8v8h-8zM1000 159h8v8h-8zM736 183h8v8h-8zM1056 215h8v8h-8zM1064 255h8v8h-8zM768 263h8v8h-8zM1064 263h8v8h-8zM1064 271h8v8h-8zM1064 279h8v8h-8zM1064 287h8v8h-8zM1064 295h8v8h-8zM776 303h8v8h-8zM1064 303h8v8h-8zM1064 311h8v8h-8zM1056 415h8v8h-8zM1048 431h8v8h-8zM792 455h8v8h-8zM1032 463h8v8h-8z"/><path fill="#7f7f7f" d="M744 167h8v8h-8zM1016 167h8v8h-8zM1040 191h8v8h-8zM752 215h8v8h-8zM760 231h8v8h-8zM776 295h8v8h-8zM1056 407h8v8h-8zM784 431h8v8h-8zM1032 455h8v8h-8z"/><path fill="#808080" d="M760 159h8v8h-8zM840 159h8v8h-8zM944 159h8v8h-8zM992 159h8v8h-8zM1024 175h8v8h-8zM1032 183h8v8h-8zM744 199h8v8h-8zM1048 207h8v8h-8zM1056 223h8v8h-8zM768 255h8v8h-8zM776 287h8v8h-8zM1056 399h8v8h-8zM784 423h8v8h-8zM1048 423h8v8h-8zM1040 439h8v8h-8zM792 447h8v8h-8z"/><path fill="#818181" d="M952 159h8v8h-8zM984 159h8v8h-8zM1008 167h8v8h-8zM1040 199h8v8h-8zM1056 231h8v8h-8zM1056 239h8v8h-8zM768 247h8v8h-8zM776 279h8v8h-8zM1056 383h8v8h-8zM1056 391h8v8h-8zM1024 471h8v8h-8z"/><path fill="#828282" d="M832 159h8v8h-8zM960 159h24v8h-24zM856 167h24v8h-24zM744 175h8v8h-8zM1032 191h8v8h-8zM1048 215h8v8h-8zM760 223h8v8h-8zM1056 247h8v8h-8zM1056 255h8v8h-8zM776 271h8v8h-8zM784 327h8v8h-8zM784 335h8v8h-8zM784 343h8v8h-8zM784 351h8v8h-8zM784 359h8v8h-8zM784 367h8v8h-8zM1056 367h8v8h-8zM784 375h8v8h-8zM1056 375h8v8h-8zM784 383h8v8h-8zM784 399h8v8h-8zM784 407h8v8h-8zM784 415h8v8h-8zM1048 415h8v8h-8zM792 439h8v8h-8zM1032 447h8v8h-8zM1024 463h8v8h-8z"/><path fill="#838383" d="M768 159h8v8h-8zM824 159h8v8h-8zM752 167h8v8h-8zM880 167h16v8h-16zM1000 167h8v8h-8zM1016 175h8v8h-8zM744 183h8v8h-8zM1024 183h8v8h-8zM744 191h8v8h-8zM752 207h8v8h-8zM1040 207h8v8h-8zM1048 223h8v8h-8zM768 239h8v8h-8zM1056 263h8v8h-8zM1056 271h8v8h-8zM1056 279h8v8h-8zM784 311h8v8h-8zM784 319h8v8h-8zM1056 319h8v8h-8zM1056 327h8v8h-8zM1056 335h8v8h-8zM1056 343h8v8h-8zM1056 351h8v8h-8zM1056 359h8v8h-8zM784 391h8v8h-8zM1040 431h8v8h-8zM1024 455h8v8h-8zM800 463h8v8h-8zM800 471h8v8h-8z"/><path fill="#848484" d="M816 159h8v8h-8zM848 167h8v8h-8zM896 167h24v8h-24zM776 263h8v8h-8zM1056 287h8v8h-8zM1056 295h8v8h-8zM784 303h8v8h-8zM1056 303h8v8h-8zM1056 311h8v8h-8zM1048 407h8v8h-8zM792 431h8v8h-8zM1032 439h8v8h-8zM800 455h8v8h-8z"/><path fill="#858585" d="M776 159h8v8h-8zM808 159h8v8h-8zM920 167h8v8h-8zM992 167h8v8h-8zM1032 199h8v8h-8zM760 215h8v8h-8zM768 231h8v8h-8zM1048 231h8v8h-8zM776 255h8v8h-8zM784 287h8v8h-8zM784 295h8v8h-8zM1048 399h8v8h-8zM1040 423h8v8h-8zM1016 471h8v8h-8z"/><path fill="#868686" d="M800 159h8v8h-8zM840 167h8v8h-8zM928 167h8v8h-8zM1008 175h8v8h-8zM1024 191h8v8h-8zM752 199h8v8h-8zM1040 215h8v8h-8zM1048 239h8v8h-8zM784 279h8v8h-8zM1048 383h8v8h-8zM1048 391h8v8h-8zM792 423h8v8h-8zM800 447h8v8h-8zM1024 447h8v8h-8zM1016 463h8v8h-8z"/><path fill="#878787" d="M784 159h16v8h-16zM760 167h8v8h-8zM936 167h8v8h-8zM984 167h8v8h-8zM752 175h8v8h-8zM1016 183h8v8h-8zM1032 207h8v8h-8zM1040 223h8v8h-8zM776 247h8v8h-8zM1048 247h8v8h-8zM1048 375h8v8h-8zM792 415h8v8h-8zM1040 415h8v8h-8zM1032 431h8v8h-8zM1016 455h8v8h-8z"/><path fill="#888888" d="M944 167h8v8h-8zM976 167h8v8h-8zM1000 175h8v8h-8zM768 223h8v8h-8zM1048 255h8v8h-8zM1048 263h8v8h-8zM784 271h8v8h-8zM1048 359h8v8h-8zM1048 367h8v8h-8zM792 407h8v8h-8zM1040 407h8v8h-8zM800 439h8v8h-8z"/><path fill="#898989" d="M832 167h8v8h-8zM952 167h24v8h-24zM752 183h8v8h-8zM752 191h8v8h-8zM1024 199h8v8h-8zM760 207h8v8h-8zM1040 231h8v8h-8zM776 239h8v8h-8zM784 263h8v8h-8zM1048 271h8v8h-8zM1048 279h8v8h-8zM1048 327h8v8h-8zM1048 335h8v8h-8zM1048 343h8v8h-8zM1048 351h8v8h-8zM792 391h8v8h-8zM792 399h8v8h-8zM1032 423h8v8h-8zM1024 439h8v8h-8zM808 463h8v8h-8zM808 471h8v8h-8z"/><path fill="#8a8a8a" d="M824 167h8v8h-8zM856 175h8v8h-8zM1008 183h8v8h-8zM1016 191h8v8h-8zM1032 215h8v8h-8zM1040 239h8v8h-8zM1048 287h8v8h-8zM1048 295h8v8h-8zM1048 303h8v8h-8zM1048 311h8v8h-8zM792 319h8v8h-8zM1048 319h8v8h-8zM792 327h8v8h-8zM792 335h8v8h-8zM792 343h8v8h-8zM792 351h8v8h-8zM792 359h8v8h-8zM792 367h8v8h-8zM792 375h8v8h-8zM792 383h8v8h-8zM1040 399h8v8h-8zM800 431h8v8h-8zM1016 447h8v8h-8zM808 455h8v8h-8zM1008 463h8v8h-8zM1008 471h8v8h-8z"/><path fill="#8b8b8b" d="M768 167h8v8h-8zM816 167h8v8h-8zM848 175h8v8h-8zM864 175h8v8h-8zM992 175h8v8h-8zM1024 207h8v8h-8zM784 255h8v8h-8zM792 295h8v8h-8zM792 303h8v8h-8zM792 311h8v8h-8zM1040 391h8v8h-8z"/><path fill="#8c8c8c" d="M808 167h8v8h-8zM760 175h8v8h-8zM840 175h8v8h-8zM872 175h8v8h-8zM760 199h8v8h-8zM768 215h8v8h-8zM1032 223h8v8h-8zM776 231h8v8h-8zM1040 247h8v8h-8zM792 287h8v8h-8zM1040 375h8v8h-8zM1040 383h8v8h-8zM1032 415h8v8h-8zM800 423h8v8h-8zM1024 431h8v8h-8zM808 447h8v8h-8zM1008 455h8v8h-8z"/><path fill="#8d8d8d" d="M984 175h8v8h-8zM1016 199h8v8h-8zM1032 231h8v8h-8zM784 247h8v8h-8zM1040 255h8v8h-8zM792 279h8v8h-8zM1040 367h8v8h-8zM1032 407h8v8h-8zM800 415h8v8h-8zM1016 439h8v8h-8z"/><path fill="#8e8e8e" d="M776 167h8v8h-8zM800 167h8v8h-8zM880 175h8v8h-8zM1000 183h8v8h-8zM1008 191h8v8h-8zM1024 215h8v8h-8zM1040 263h8v8h-8zM792 271h8v8h-8zM1040 351h8v8h-8zM1040 359h8v8h-8zM800 407h8v8h-8zM1024 423h8v8h-8zM808 439h8v8h-8zM816 471h8v8h-8z"/><path fill="#8f8f8f" d="M784 167h16v8h-16zM832 175h8v8h-8zM888 175h8v8h-8zM976 175h8v8h-8zM760 183h8v8h-8zM760 191h8v8h-8zM768 207h8v8h-8zM776 223h8v8h-8zM1032 239h8v8h-8zM1040 271h8v8h-8zM1040 327h8v8h-8zM1040 335h8v8h-8zM1040 343h8v8h-8zM800 399h8v8h-8zM1032 399h8v8h-8zM808 431h8v8h-8zM1008 447h8v8h-8zM816 463h8v8h-8zM1000 463h8v8h-8zM1000 471h8v8h-8z"/><path fill="#909090" d="M824 175h8v8h-8zM896 175h16v8h-16zM1016 207h8v8h-8zM1024 223h8v8h-8zM784 239h8v8h-8zM792 263h8v8h-8zM1040 279h8v8h-8zM1040 287h8v8h-8zM1040 295h8v8h-8zM1040 303h8v8h-8zM1040 311h8v8h-8zM1040 319h8v8h-8zM800 391h8v8h-8zM1032 391h8v8h-8zM1016 431h8v8h-8zM816 455h8v8h-8z"/><path fill="#919191" d="M768 175h8v8h-8zM816 175h8v8h-8zM912 175h24v8h-24zM960 175h16v8h-16zM992 183h8v8h-8zM1032 247h8v8h-8zM800 383h8v8h-8zM1032 383h8v8h-8zM1024 415h8v8h-8zM808 423h8v8h-8zM816 447h8v8h-8zM1000 455h8v8h-8z"/><path fill="#929292" d="M936 175h24v8h-24zM848 183h8v8h-8zM1000 191h8v8h-8zM768 199h8v8h-8zM1008 199h8v8h-8zM776 215h8v8h-8zM784 231h8v8h-8zM1024 231h8v8h-8zM792 255h8v8h-8zM1032 255h8v8h-8zM800 375h8v8h-8zM1032 375h8v8h-8zM1024 407h8v8h-8zM1008 439h8v8h-8z"/><path fill="#939393" d="M808 175h8v8h-8zM840 183h8v8h-8zM856 183h8v8h-8zM1016 215h8v8h-8zM800 287h8v8h-8zM800 295h8v8h-8zM800 303h8v8h-8zM800 311h8v8h-8zM800 319h8v8h-8zM800 327h8v8h-8zM1032 359h8v8h-8zM800 367h8v8h-8zM1032 367h8v8h-8zM808 415h8v8h-8zM1016 423h8v8h-8zM816 439h8v8h-8z"/><path fill="#949494" d="M776 175h8v8h-8zM800 175h8v8h-8zM768 183h8v8h-8zM832 183h8v8h-8zM984 183h8v8h-8zM768 191h8v8h-8zM784 223h8v8h-8zM1024 239h8v8h-8zM792 247h8v8h-8zM1032 263h8v8h-8zM800 279h8v8h-8zM800 335h8v8h-8zM800 343h8v8h-8zM800 351h8v8h-8zM1032 351h8v8h-8zM800 359h8v8h-8zM1024 399h8v8h-8zM1000 447h8v8h-8zM824 463h8v8h-8zM992 463h8v8h-8zM824 471h8v8h-8zM992 471h8v8h-8z"/><path fill="#959595" d="M864 183h8v8h-8zM776 207h8v8h-8zM1008 207h8v8h-8zM1016 223h8v8h-8zM1032 271h8v8h-8zM1032 335h8v8h-8zM1032 343h8v8h-8zM808 407h8v8h-8zM1008 431h8v8h-8zM824 455h8v8h-8z"/><path fill="#969696" d="M784 175h16v8h-16zM824 183h8v8h-8zM976 183h8v8h-8zM992 191h8v8h-8zM1000 199h8v8h-8zM792 239h8v8h-8zM1024 247h8v8h-8zM800 271h8v8h-8zM1032 279h8v8h-8zM1032 319h8v8h-8zM1032 327h8v8h-8zM1024 391h8v8h-8zM808 399h8v8h-8zM1016 415h8v8h-8zM816 431h8v8h-8zM992 455h8v8h-8z"/><path fill="#979797" d="M816 183h8v8h-8zM872 183h8v8h-8zM776 199h8v8h-8zM784 215h8v8h-8zM1016 231h8v8h-8zM800 263h8v8h-8zM1032 287h8v8h-8zM1032 295h8v8h-8zM1032 303h8v8h-8zM1032 311h8v8h-8zM1024 383h8v8h-8zM1000 439h8v8h-8z"/><path fill="#989898" d="M776 183h8v8h-8zM808 183h8v8h-8zM968 183h8v8h-8zM776 191h8v8h-8zM1008 215h8v8h-8zM792 231h8v8h-8zM1024 255h8v8h-8zM1024 375h8v8h-8zM808 391h8v8h-8zM1016 407h8v8h-8zM816 423h8v8h-8zM1008 423h8v8h-8zM824 447h8v8h-8z"/><path fill="#999999" d="M800 183h8v8h-8zM880 183h8v8h-8zM960 183h8v8h-8zM984 191h8v8h-8zM784 207h8v8h-8zM792 223h8v8h-8zM800 255h8v8h-8zM1024 367h8v8h-8zM808 383h8v8h-8zM992 447h8v8h-8z"/><path fill="#9a9a9a" d="M784 183h16v8h-16zM888 183h8v8h-8zM952 183h8v8h-8zM832 191h24v8h-24zM784 199h8v8h-8zM1000 207h8v8h-8zM1016 239h8v8h-8zM800 247h8v8h-8zM1024 263h8v8h-8zM1024 359h8v8h-8zM1016 399h8v8h-8zM816 415h8v8h-8zM824 439h8v8h-8zM832 463h8v8h-8zM984 463h8v8h-8zM832 471h8v8h-8zM984 471h8v8h-8z"/><path fill="#9b9b9b" d="M944 183h8v8h-8zM784 191h8v8h-8zM800 191h32v8h-32zM992 199h8v8h-8zM792 215h8v8h-8zM1008 223h8v8h-8zM808 295h8v8h-8zM808 303h8v8h-8zM1024 343h8v8h-8zM1024 351h8v8h-8zM808 375h8v8h-8zM1016 391h8v8h-8zM816 407h8v8h-8zM1008 415h8v8h-8zM1000 431h8v8h-8z"/><path fill="#9c9c9c" d="M896 183h16v8h-16zM928 183h16v8h-16zM792 191h8v8h-8zM856 191h8v8h-8zM976 191h8v8h-8zM792 199h8v8h-8zM792 207h8v8h-8zM800 239h8v8h-8zM1016 247h8v8h-8zM1024 271h8v8h-8zM808 279h8v8h-8zM808 287h8v8h-8zM808 311h8v8h-8zM808 319h8v8h-8zM1024 335h8v8h-8zM808 367h8v8h-8zM824 431h8v8h-8zM832 455h8v8h-8zM984 455h8v8h-8z"/><path fill="#9d9d9d" d="M912 183h16v8h-16zM800 199h8v8h-8zM800 231h8v8h-8zM808 271h8v8h-8zM1024 279h8v8h-8zM1024 319h8v8h-8zM808 327h8v8h-8zM1024 327h8v8h-8zM808 335h8v8h-8zM808 343h8v8h-8zM808 351h8v8h-8zM808 359h8v8h-8zM1016 383h8v8h-8zM816 399h8v8h-8zM992 439h8v8h-8z"/><path fill="#9e9e9e" d="M808 199h16v8h-16zM800 207h8v8h-8zM800 215h8v8h-8zM1000 215h8v8h-8zM800 223h8v8h-8zM1008 231h8v8h-8zM808 263h8v8h-8zM1024 287h8v8h-8zM1024 295h8v8h-8zM1024 303h8v8h-8zM1024 311h8v8h-8zM1008 407h8v8h-8zM1000 423h8v8h-8zM832 447h8v8h-8z"/><path fill="#9f9f9f" d="M864 191h8v8h-8zM968 191h8v8h-8zM824 199h8v8h-8zM984 199h8v8h-8zM992 207h8v8h-8zM808 255h8v8h-8zM1016 255h8v8h-8zM1016 375h8v8h-8zM816 391h8v8h-8zM824 423h8v8h-8z"/><path fill="#a0a0a0" d="M832 199h8v8h-8zM808 207h8v8h-8zM1008 239h8v8h-8zM808 247h8v8h-8zM1016 367h8v8h-8zM1008 399h8v8h-8zM984 447h8v8h-8zM976 471h8v8h-8z"/><path fill="#a1a1a1" d="M960 191h8v8h-8zM840 199h8v8h-8zM808 215h8v8h-8zM1000 223h8v8h-8zM808 239h8v8h-8zM1016 263h8v8h-8zM1016 359h8v8h-8zM816 383h8v8h-8zM824 415h8v8h-8zM1000 415h8v8h-8zM992 431h8v8h-8zM832 439h8v8h-8zM840 463h8v8h-8zM976 463h8v8h-8zM840 471h8v8h-8z"/><path fill="#a2a2a2" d="M872 191h8v8h-8zM848 199h8v8h-8zM976 199h8v8h-8zM816 207h8v8h-8zM808 223h8v8h-8zM808 231h8v8h-8zM1016 351h8v8h-8zM1008 391h8v8h-8z"/><path fill="#a3a3a3" d="M952 191h8v8h-8zM824 207h8v8h-8zM992 215h8v8h-8zM1008 247h8v8h-8zM1016 271h8v8h-8zM1016 343h8v8h-8zM816 375h8v8h-8zM824 407h8v8h-8zM840 455h8v8h-8z"/><path fill="#a4a4a4" d="M880 191h8v8h-8zM944 191h8v8h-8zM984 207h8v8h-8zM816 215h8v8h-8zM816 287h8v8h-8zM816 295h8v8h-8zM1016 327h8v8h-8zM1016 335h8v8h-8zM832 431h8v8h-8zM976 455h8v8h-8z"/><path fill="#a5a5a5" d="M888 191h8v8h-8zM832 207h8v8h-8zM1000 231h8v8h-8zM816 271h8v8h-8zM816 279h8v8h-8zM1016 279h8v8h-8zM816 303h8v8h-8zM816 311h8v8h-8zM1016 319h8v8h-8zM816 367h8v8h-8zM1008 383h8v8h-8zM1000 407h8v8h-8zM992 423h8v8h-8zM984 439h8v8h-8z"/><path fill="#a6a6a6" d="M936 191h8v8h-8zM856 199h8v8h-8zM968 199h8v8h-8zM816 223h8v8h-8zM816 255h8v8h-8zM1008 255h8v8h-8zM816 263h8v8h-8zM1016 287h8v8h-8zM1016 295h8v8h-8zM1016 303h8v8h-8zM1016 311h8v8h-8zM816 319h8v8h-8zM816 327h8v8h-8zM816 359h8v8h-8zM824 399h8v8h-8zM840 447h8v8h-8z"/><path fill="#a7a7a7" d="M896 191h8v8h-8zM928 191h8v8h-8zM824 215h8v8h-8zM992 223h8v8h-8zM816 231h8v8h-8zM816 239h8v8h-8zM816 247h8v8h-8zM816 335h8v8h-8zM816 343h8v8h-8zM816 351h8v8h-8zM1008 375h8v8h-8zM832 423h8v8h-8z"/><path fill="#a8a8a8" d="M904 191h24v8h-24zM960 199h8v8h-8zM840 207h8v8h-8zM976 207h8v8h-8zM1000 239h8v8h-8zM824 391h8v8h-8zM1000 399h8v8h-8zM976 447h8v8h-8zM968 463h8v8h-8zM968 471h8v8h-8z"/><path fill="#a9a9a9" d="M864 199h8v8h-8zM984 215h8v8h-8zM1008 263h8v8h-8zM1008 367h8v8h-8zM992 415h8v8h-8zM840 439h8v8h-8zM848 463h8v8h-8zM848 471h8v8h-8z"/><path fill="#aaaaaa" d="M832 215h8v8h-8zM824 223h8v8h-8zM1008 359h8v8h-8zM832 415h8v8h-8zM984 431h8v8h-8z"/><path fill="#ababab" d="M952 199h8v8h-8zM848 207h8v8h-8zM992 231h8v8h-8zM1000 247h8v8h-8zM1008 271h8v8h-8zM1008 351h8v8h-8zM824 383h8v8h-8zM1000 391h8v8h-8zM848 455h8v8h-8zM968 455h8v8h-8z"/><path fill="#acacac" d="M872 199h8v8h-8zM968 207h8v8h-8zM824 231h8v8h-8zM1008 343h8v8h-8zM832 407h8v8h-8zM840 431h8v8h-8z"/><path fill="#adadad" d="M944 199h8v8h-8zM984 223h8v8h-8zM824 239h8v8h-8zM824 247h8v8h-8zM1008 279h8v8h-8zM1008 327h8v8h-8zM1008 335h8v8h-8zM824 375h8v8h-8zM992 407h8v8h-8z"/><path fill="#aeaeae" d="M880 199h8v8h-8zM840 215h8v8h-8zM976 215h8v8h-8zM832 223h8v8h-8zM824 255h8v8h-8zM1000 255h8v8h-8zM824 263h8v8h-8zM824 271h8v8h-8zM824 279h8v8h-8zM824 287h8v8h-8zM1008 287h8v8h-8zM824 295h8v8h-8zM1008 295h8v8h-8zM824 303h8v8h-8zM1008 303h8v8h-8zM1008 311h8v8h-8zM1008 319h8v8h-8zM984 423h8v8h-8zM976 439h8v8h-8zM848 447h8v8h-8z"/><path fill="#afafaf" d="M936 199h8v8h-8zM856 207h8v8h-8zM992 239h8v8h-8zM824 311h8v8h-8zM824 367h8v8h-8zM1000 383h8v8h-8zM832 399h8v8h-8zM840 423h8v8h-8z"/><path fill="#b0b0b0" d="M888 199h8v8h-8zM960 207h8v8h-8zM824 319h8v8h-8zM960 471h8v8h-8z"/><path fill="#b1b1b1" d="M896 199h8v8h-8zM928 199h8v8h-8zM832 231h8v8h-8zM1000 263h8v8h-8zM824 327h8v8h-8zM824 335h8v8h-8zM824 351h8v8h-8zM824 359h8v8h-8zM992 399h8v8h-8zM848 439h8v8h-8zM968 447h8v8h-8zM960 463h8v8h-8z"/><path fill="#b2b2b2" d="M904 199h24v8h-24zM968 215h8v8h-8zM984 231h8v8h-8zM824 343h8v8h-8zM1000 375h8v8h-8zM832 391h8v8h-8z"/><path fill="#b3b3b3" d="M952 207h8v8h-8zM848 215h8v8h-8zM976 223h8v8h-8zM832 239h8v8h-8zM992 247h8v8h-8zM840 415h8v8h-8zM984 415h8v8h-8zM976 431h8v8h-8zM856 463h8v8h-8zM856 471h8v8h-8z"/><path fill="#b4b4b4" d="M864 207h8v8h-8zM840 223h8v8h-8zM1000 271h8v8h-8zM960 455h8v8h-8z"/><path fill="#b5b5b5" d="M944 207h8v8h-8zM832 247h8v8h-8zM1000 367h8v8h-8zM832 383h8v8h-8zM848 431h8v8h-8zM856 455h8v8h-8z"/><path fill="#b6b6b6" d="M984 239h8v8h-8zM832 255h8v8h-8zM1000 279h8v8h-8zM992 391h8v8h-8zM840 407h8v8h-8z"/><path fill="#b7b7b7" d="M872 207h8v8h-8zM960 215h8v8h-8zM992 255h8v8h-8zM832 263h8v8h-8zM832 271h8v8h-8zM832 279h8v8h-8zM1000 287h8v8h-8zM1000 359h8v8h-8zM984 407h8v8h-8zM968 439h8v8h-8z"/><path fill="#b8b8b8" d="M936 207h8v8h-8zM968 223h8v8h-8zM840 231h8v8h-8zM976 231h8v8h-8zM832 287h8v8h-8zM832 295h8v8h-8zM1000 295h8v8h-8zM832 375h8v8h-8zM976 423h8v8h-8zM856 447h8v8h-8z"/><path fill="#b9b9b9" d="M880 207h8v8h-8zM856 215h8v8h-8zM832 303h8v8h-8zM1000 303h8v8h-8zM1000 311h8v8h-8zM1000 351h8v8h-8zM840 399h8v8h-8zM848 423h8v8h-8zM952 471h8v8h-8z"/><path fill="#bababa" d="M928 207h8v8h-8zM952 215h8v8h-8zM848 223h8v8h-8zM992 263h8v8h-8zM832 311h8v8h-8zM1000 319h8v8h-8zM1000 327h8v8h-8zM1000 335h8v8h-8zM1000 343h8v8h-8zM832 367h8v8h-8zM960 447h8v8h-8zM952 463h8v8h-8z"/><path fill="#bbbbbb" d="M888 207h8v8h-8zM840 239h8v8h-8zM984 247h8v8h-8zM832 319h8v8h-8zM992 383h8v8h-8zM856 439h8v8h-8z"/><path fill="#bcbcbc" d="M896 207h16v8h-16zM920 207h8v8h-8zM832 327h8v8h-8zM832 359h8v8h-8zM840 391h8v8h-8zM984 399h8v8h-8zM848 415h8v8h-8z"/><path fill="#bdbdbd" d="M912 207h8v8h-8zM944 215h8v8h-8zM960 223h8v8h-8zM976 239h8v8h-8zM840 247h8v8h-8zM992 271h8v8h-8zM832 335h8v8h-8zM832 343h8v8h-8zM832 351h8v8h-8zM976 415h8v8h-8zM968 431h8v8h-8zM952 455h8v8h-8z"/><path fill="#bebebe" d="M864 215h8v8h-8zM968 231h8v8h-8zM864 471h8v8h-8z"/><path fill="#bfbfbf" d="M848 231h8v8h-8zM840 255h8v8h-8zM984 255h8v8h-8zM992 375h8v8h-8zM848 407h8v8h-8zM856 431h8v8h-8zM864 463h8v8h-8z"/><path fill="#c0c0c0" d="M840 263h8v8h-8zM992 279h8v8h-8zM840 383h8v8h-8zM960 439h8v8h-8zM864 455h8v8h-8z"/><path fill="#c1c1c1" d="M872 215h8v8h-8zM936 215h8v8h-8zM856 223h8v8h-8zM952 223h8v8h-8zM976 247h8v8h-8zM840 271h8v8h-8zM984 391h8v8h-8z"/><path fill="#c2c2c2" d="M840 279h8v8h-8zM992 287h8v8h-8zM976 407h8v8h-8zM856 423h8v8h-8zM864 447h8v8h-8zM952 447h8v8h-8zM944 471h8v8h-8z"/><path fill="#c3c3c3" d="M880 215h8v8h-8zM928 215h8v8h-8zM960 231h8v8h-8zM848 239h8v8h-8zM968 239h8v8h-8zM984 263h8v8h-8zM840 287h8v8h-8zM840 295h8v8h-8zM840 375h8v8h-8zM848 399h8v8h-8zM968 423h8v8h-8zM944 463h8v8h-8z"/><path fill="#c4c4c4" d="M888 215h8v8h-8zM992 295h8v8h-8zM840 303h8v8h-8zM992 367h8v8h-8z"/><path fill="#c5c5c5" d="M896 215h8v8h-8zM920 215h8v8h-8zM944 223h8v8h-8zM992 303h8v8h-8zM856 415h8v8h-8zM864 439h8v8h-8zM944 455h8v8h-8z"/><path fill="#c6c6c6" d="M904 215h16v8h-16zM864 223h8v8h-8zM848 247h8v8h-8zM976 255h8v8h-8zM840 311h8v8h-8zM840 367h8v8h-8zM984 383h8v8h-8zM976 399h8v8h-8zM960 431h8v8h-8z"/><path fill="#c7c7c7" d="M856 231h8v8h-8zM952 231h8v8h-8zM984 271h8v8h-8zM992 311h8v8h-8zM840 319h8v8h-8zM992 359h8v8h-8zM848 391h8v8h-8z"/><path fill="#c8c8c8" d="M936 223h8v8h-8zM960 239h8v8h-8zM968 247h8v8h-8zM992 319h8v8h-8zM840 327h8v8h-8zM992 327h8v8h-8zM840 359h8v8h-8zM968 415h8v8h-8zM864 431h8v8h-8zM952 439h8v8h-8z"/><path fill="#c9c9c9" d="M872 223h8v8h-8zM848 255h8v8h-8zM840 335h8v8h-8zM992 335h8v8h-8zM840 343h8v8h-8zM992 343h8v8h-8zM840 351h8v8h-8zM992 351h8v8h-8zM856 407h8v8h-8zM872 463h8v8h-8zM872 471h8v8h-8z"/><path fill="#cacaca" d="M848 263h8v8h-8zM984 279h8v8h-8zM976 391h8v8h-8zM944 447h8v8h-8zM872 455h8v8h-8zM936 471h8v8h-8z"/><path fill="#cbcbcb" d="M880 223h8v8h-8zM928 223h8v8h-8zM944 231h8v8h-8zM976 263h8v8h-8zM984 375h8v8h-8zM848 383h8v8h-8zM864 423h8v8h-8zM936 463h8v8h-8z"/><path fill="#cccccc" d="M856 239h8v8h-8zM848 271h8v8h-8zM968 407h8v8h-8zM960 423h8v8h-8zM872 447h8v8h-8z"/><path fill="#cdcdcd" d="M888 223h8v8h-8zM920 223h8v8h-8zM864 231h8v8h-8zM952 239h8v8h-8zM960 247h8v8h-8zM968 255h8v8h-8zM848 279h8v8h-8zM984 287h8v8h-8zM856 399h8v8h-8zM936 455h8v8h-8z"/><path fill="#cecece" d="M896 223h24v8h-24zM848 287h8v8h-8zM848 375h8v8h-8zM952 431h8v8h-8z"/><path fill="#cfcfcf" d="M936 231h8v8h-8zM856 247h8v8h-8zM976 271h8v8h-8zM848 295h8v8h-8zM984 295h8v8h-8zM984 367h8v8h-8zM976 383h8v8h-8zM864 415h8v8h-8zM872 439h8v8h-8zM944 439h8v8h-8zM880 463h8v8h-8zM880 471h8v8h-8z"/><path fill="#d0d0d0" d="M872 231h8v8h-8zM848 303h8v8h-8zM984 303h8v8h-8zM856 391h8v8h-8zM968 399h8v8h-8zM960 415h8v8h-8zM928 463h8v8h-8zM928 471h8v8h-8z"/><path fill="#d1d1d1" d="M944 239h8v8h-8zM968 263h8v8h-8zM872 431h8v8h-8zM936 447h8v8h-8zM880 455h8v8h-8z"/><path fill="#d2d2d2" d="M928 231h8v8h-8zM864 239h8v8h-8zM952 247h8v8h-8zM856 255h8v8h-8zM960 255h8v8h-8zM976 279h8v8h-8zM848 311h8v8h-8zM984 311h8v8h-8zM984 359h8v8h-8zM848 367h8v8h-8zM864 407h8v8h-8zM928 455h8v8h-8z"/><path fill="#d3d3d3" d="M880 231h8v8h-8zM848 319h8v8h-8zM984 319h8v8h-8zM976 375h8v8h-8zM968 391h8v8h-8zM952 423h8v8h-8zM880 447h8v8h-8zM888 463h8v8h-8zM888 471h8v8h-8zM920 471h8v8h-8z"/><path fill="#d4d4d4" d="M888 231h8v8h-8zM920 231h8v8h-8zM856 263h8v8h-8zM848 327h8v8h-8zM984 327h8v8h-8zM984 335h8v8h-8zM984 343h8v8h-8zM984 351h8v8h-8zM848 359h8v8h-8zM960 407h8v8h-8zM872 423h8v8h-8zM944 431h8v8h-8zM920 463h8v8h-8z"/><path fill="#d5d5d5" d="M896 231h24v8h-24zM936 239h8v8h-8zM968 271h8v8h-8zM976 287h8v8h-8zM848 335h8v8h-8zM848 351h8v8h-8zM856 383h8v8h-8zM864 399h8v8h-8zM880 439h8v8h-8zM936 439h8v8h-8zM888 455h8v8h-8zM920 455h8v8h-8zM896 463h8v8h-8zM912 463h8v8h-8zM896 471h8v8h-8zM912 471h8v8h-8z"/><path fill="#d6d6d6" d="M872 239h8v8h-8zM864 247h8v8h-8zM856 271h8v8h-8zM848 343h8v8h-8zM976 367h8v8h-8zM968 383h8v8h-8zM928 447h8v8h-8zM904 463h8v8h-8zM904 471h8v8h-8z"/><path fill="#d7d7d7" d="M944 247h8v8h-8zM960 263h8v8h-8zM976 295h8v8h-8zM960 399h8v8h-8zM872 415h8v8h-8zM952 415h8v8h-8zM888 447h8v8h-8zM896 455h8v8h-8zM912 455h8v8h-8z"/><path fill="#d8d8d8" d="M880 239h8v8h-8zM928 239h8v8h-8zM952 255h8v8h-8zM856 279h8v8h-8zM976 303h8v8h-8zM944 423h8v8h-8zM880 431h8v8h-8zM920 447h8v8h-8zM904 455h8v8h-8z"/><path fill="#d9d9d9" d="M968 279h8v8h-8zM856 287h8v8h-8zM976 311h8v8h-8zM976 359h8v8h-8zM856 375h8v8h-8zM864 391h8v8h-8zM872 407h8v8h-8zM936 431h8v8h-8zM928 439h8v8h-8zM896 447h8v8h-8z"/><path fill="#dadada" d="M888 239h8v8h-8zM920 239h8v8h-8zM936 247h8v8h-8zM864 255h8v8h-8zM856 295h8v8h-8zM976 319h8v8h-8zM976 327h8v8h-8zM968 375h8v8h-8zM960 391h8v8h-8zM952 407h8v8h-8zM880 423h8v8h-8zM888 439h8v8h-8zM904 447h16v8h-16z"/><path fill="#dbdbdb" d="M896 239h24v8h-24zM872 247h8v8h-8zM960 271h8v8h-8zM968 287h8v8h-8zM856 303h8v8h-8zM976 335h8v8h-8zM976 343h8v8h-8zM976 351h8v8h-8z"/><path fill="#dcdcdc" d="M944 255h8v8h-8zM952 263h8v8h-8zM856 367h8v8h-8zM968 367h8v8h-8zM872 399h8v8h-8zM944 415h8v8h-8zM888 431h8v8h-8zM920 439h8v8h-8z"/><path fill="#dddddd" d="M880 247h8v8h-8zM928 247h8v8h-8zM864 263h8v8h-8zM968 295h8v8h-8zM968 303h8v8h-8zM856 311h8v8h-8zM864 383h8v8h-8zM960 383h8v8h-8zM952 399h8v8h-8zM880 415h8v8h-8zM936 423h8v8h-8zM928 431h8v8h-8zM896 439h8v8h-8zM912 439h8v8h-8z"/><path fill="#dedede" d="M960 279h8v8h-8zM968 311h8v8h-8zM856 319h8v8h-8zM968 359h8v8h-8zM904 439h8v8h-8z"/><path fill="#dfdfdf" d="M888 247h8v8h-8zM920 247h8v8h-8zM872 255h8v8h-8zM864 271h8v8h-8zM968 319h8v8h-8zM856 327h8v8h-8zM968 327h8v8h-8zM968 335h8v8h-8zM968 343h8v8h-8zM968 351h8v8h-8zM856 359h8v8h-8zM960 375h8v8h-8zM944 407h8v8h-8zM888 423h8v8h-8zM920 431h8v8h-8z"/><path fill="#e0e0e0" d="M896 247h24v8h-24zM936 255h8v8h-8zM856 335h8v8h-8zM856 351h8v8h-8zM872 391h8v8h-8zM952 391h8v8h-8zM880 407h8v8h-8zM936 415h8v8h-8zM928 423h8v8h-8zM896 431h8v8h-8z"/><path fill="#e1e1e1" d="M880 255h8v8h-8zM944 263h8v8h-8zM952 271h8v8h-8zM864 279h8v8h-8zM960 287h8v8h-8zM856 343h8v8h-8zM960 367h8v8h-8zM864 375h8v8h-8zM904 431h16v8h-16z"/><path fill="#e2e2e2" d="M928 255h8v8h-8zM872 263h8v8h-8zM864 287h8v8h-8zM960 295h8v8h-8zM960 303h8v8h-8zM960 359h8v8h-8zM952 383h8v8h-8zM880 399h8v8h-8zM944 399h8v8h-8zM888 415h8v8h-8z"/><path fill="#e3e3e3" d="M888 255h8v8h-8zM864 295h8v8h-8zM960 311h8v8h-8zM960 319h8v8h-8zM960 327h8v8h-8zM960 335h8v8h-8zM960 343h8v8h-8zM960 351h8v8h-8zM872 383h8v8h-8zM936 407h8v8h-8zM928 415h8v8h-8zM896 423h8v8h-8zM920 423h8v8h-8z"/><path fill="#e4e4e4" d="M896 255h8v8h-8zM920 255h8v8h-8zM936 263h8v8h-8zM872 271h8v8h-8zM952 279h8v8h-8zM864 303h8v8h-8zM864 367h8v8h-8zM952 375h8v8h-8zM944 391h8v8h-8zM904 423h16v8h-16z"/><path fill="#e5e5e5" d="M904 255h16v8h-16zM880 263h8v8h-8zM944 271h8v8h-8zM952 367h8v8h-8zM936 399h8v8h-8zM888 407h8v8h-8z"/><path fill="#e6e6e6" d="M952 287h8v8h-8zM864 311h8v8h-8zM952 359h8v8h-8zM944 383h8v8h-8zM880 391h8v8h-8zM928 407h8v8h-8zM896 415h8v8h-8zM920 415h8v8h-8z"/><path fill="#e7e7e7" d="M888 263h8v8h-8zM928 263h8v8h-8zM872 279h8v8h-8zM952 295h8v8h-8zM952 303h8v8h-8zM952 311h8v8h-8zM864 319h8v8h-8zM952 319h8v8h-8zM952 327h8v8h-8zM952 335h8v8h-8zM952 343h8v8h-8zM952 351h8v8h-8zM864 359h8v8h-8zM872 375h8v8h-8zM888 399h8v8h-8zM904 415h16v8h-16z"/><path fill="#e8e8e8" d="M896 263h8v8h-8zM920 263h8v8h-8zM880 271h8v8h-8zM936 271h8v8h-8zM944 279h8v8h-8zM872 287h8v8h-8zM864 327h8v8h-8zM864 335h8v8h-8zM864 351h8v8h-8zM944 375h8v8h-8zM936 391h8v8h-8zM896 407h8v8h-8z"/><path fill="#e9e9e9" d="M904 263h16v8h-16zM864 343h8v8h-8zM944 367h8v8h-8zM880 383h8v8h-8zM928 399h8v8h-8zM920 407h8v8h-8z"/><path fill="#eaeaea" d="M888 271h8v8h-8zM880 279h8v8h-8zM944 287h8v8h-8zM872 295h8v8h-8zM872 367h8v8h-8zM936 383h8v8h-8zM904 407h16v8h-16z"/><path fill="#ebebeb" d="M896 271h8v8h-8zM928 271h8v8h-8zM944 295h8v8h-8zM872 303h8v8h-8zM944 343h8v8h-8zM944 351h8v8h-8zM944 359h8v8h-8zM888 391h8v8h-8zM928 391h8v8h-8zM896 399h8v8h-8z"/><path fill="#ececec" d="M904 271h24v8h-24zM936 279h8v8h-8zM880 287h8v8h-8zM944 303h8v8h-8zM872 311h8v8h-8zM944 311h8v8h-8zM944 319h8v8h-8zM944 327h8v8h-8zM944 335h8v8h-8zM936 375h8v8h-8zM920 399h8v8h-8z"/><path fill="#ededed" d="M888 279h8v8h-8zM872 319h8v8h-8zM872 359h8v8h-8zM880 375h8v8h-8zM912 399h8v8h-8z"/><path fill="#eeeeee" d="M896 279h8v8h-8zM928 279h8v8h-8zM936 287h8v8h-8zM880 295h8v8h-8zM872 327h8v8h-8zM872 335h8v8h-8zM872 351h8v8h-8zM936 367h8v8h-8zM888 383h8v8h-8zM928 383h8v8h-8zM920 391h8v8h-8zM904 399h8v8h-8z"/><path fill="#efefef" d="M904 279h24v8h-24zM888 287h8v8h-8zM936 295h8v8h-8zM880 303h8v8h-8zM936 303h8v8h-8zM872 343h8v8h-8zM936 351h8v8h-8zM936 359h8v8h-8zM896 391h8v8h-8z"/><path fill="#f0f0f0" d="M928 287h8v8h-8zM880 311h8v8h-8zM936 311h8v8h-8zM936 319h8v8h-8zM936 327h8v8h-8zM936 335h8v8h-8zM936 343h8v8h-8zM880 367h8v8h-8zM928 375h8v8h-8z"/><path fill="#f1f1f1" d="M896 287h8v8h-8zM920 287h8v8h-8zM888 295h8v8h-8zM928 295h8v8h-8zM888 375h8v8h-8zM920 383h8v8h-8zM904 391h16v8h-16z"/><path fill="#f2f2f2" d="M904 287h16v8h-16zM888 303h8v8h-8zM928 303h8v8h-8zM880 319h8v8h-8zM880 359h8v8h-8zM928 367h8v8h-8zM896 383h8v8h-8z"/><path fill="#f3f3f3" d="M896 295h8v8h-8zM920 295h8v8h-8zM928 311h8v8h-8zM928 319h8v8h-8zM880 327h8v8h-8zM880 335h8v8h-8zM880 351h8v8h-8zM928 359h8v8h-8z"/><path fill="#f4f4f4" d="M904 295h16v8h-16zM888 311h8v8h-8zM928 327h8v8h-8zM928 335h8v8h-8zM880 343h8v8h-8zM928 343h8v8h-8zM928 351h8v8h-8zM888 367h8v8h-8zM920 375h8v8h-8zM904 383h16v8h-16z"/><path fill="#f5f5f5" d="M896 303h8v8h-8zM920 303h8v8h-8zM888 319h8v8h-8zM896 375h8v8h-8z"/><path fill="#f6f6f6" d="M904 303h16v8h-16zM920 311h8v8h-8zM920 367h8v8h-8z"/><path fill="#f7f7f7" d="M896 311h8v8h-8zM920 319h8v8h-8zM888 327h8v8h-8zM888 359h8v8h-8zM904 375h16v8h-16z"/><path fill="#f8f8f8" d="M904 311h16v8h-16zM896 319h8v8h-8zM920 327h8v8h-8zM888 335h8v8h-8zM888 343h8v8h-8zM888 351h8v8h-8zM920 359h8v8h-8zM896 367h8v8h-8z"/><path fill="#f9f9f9" d="M920 335h8v8h-8zM920 343h8v8h-8zM920 351h8v8h-8zM912 367h8v8h-8z"/><path fill="#fafafa" d="M904 319h16v8h-16zM896 327h8v8h-8zM896 359h8v8h-8zM904 367h8v8h-8z"/><path fill="#fbfbfb" d="M912 327h8v8h-8zM896 335h8v8h-8zM912 359h8v8h-8z"/><path fill="#fcfcfc" d="M904 327h8v8h-8zM912 335h8v8h-8zM896 343h8v8h-8zM896 351h8v8h-8zM912 351h8v8h-8zM904 359h8v8h-8z"/><path fill="#fdfdfd" d="M904 335h8v8h-8zM912 343h8v8h-8zM904 351h8v8h-8z"/><path fill="#fefefe" d="M904 343h8v8h-8z"/></g>
</g>
<g clip-path="url(#clC0)">
<rect x="1271.6" y="22.6" width="439.60000000000014" height="438.59999999999997" fill="#3e26a8"/><radialGradient id="rgc" gradientUnits="userSpaceOnUse" cx="1487" cy="338" r="62"><stop offset="0" stop-color="#f9fb15"/><stop offset="0.35" stop-color="#f6f020"/><stop offset="0.7" stop-color="#f9d82c"/><stop offset="1" stop-color="#fec13a"/></radialGradient><path d="M1487.0 276.4C1480.1 278.2 1464.9 284.1 1458.5 288.5C1452.1 292.9 1451.3 296.9 1448.5 302.8C1445.7 308.8 1442.7 317.1 1441.4 324.2C1440.1 331.3 1440.5 338.5 1440.7 345.6C1440.9 352.7 1440.8 359.8 1442.8 366.9C1444.8 374.0 1448.8 382.4 1452.8 388.3C1456.8 394.2 1460.8 398.4 1467.0 402.6C1473.2 406.8 1482.5 413.1 1489.9 413.3C1497.3 413.5 1504.9 408.2 1511.3 404.0C1517.7 399.8 1523.2 394.2 1528.4 388.3C1533.6 382.4 1539.2 375.0 1542.6 368.4C1546.0 361.8 1548.2 354.6 1549.0 348.4C1549.8 342.2 1548.9 336.5 1547.6 331.3C1546.3 326.1 1544.4 322.5 1541.2 317.0C1538.0 311.5 1533.2 304.0 1528.4 298.5C1523.7 293.0 1517.5 287.6 1512.7 284.2C1508.0 280.8 1504.2 279.1 1499.9 277.8C1495.6 276.5 1493.9 274.6 1487.0 276.4Z" fill="url(#rgc)"/>
</g>
<g clip-path="url(#clA1)">
<g filter="url(#fltd)"><path fill="#000000" d="M462 600h104v8h-104zM462 608h104v8h-104zM454 616h112v8h-112zM446 624h120v8h-120zM438 632h128v8h-128zM438 640h128v8h-128zM438 648h128v8h-128zM438 656h128v8h-128zM438 664h128v8h-128zM446 672h120v8h-120zM454 680h112v8h-112zM462 688h104v8h-104zM470 696h96v8h-96zM478 704h88v8h-88zM486 712h80v8h-80zM494 720h72v8h-72zM502 728h64v8h-64zM510 736h56v8h-56zM518 744h48v8h-48zM526 752h40v8h-40zM526 760h40v8h-40zM526 768h40v8h-40zM534 776h32v8h-32zM534 784h32v8h-32zM534 792h32v8h-32zM534 800h32v8h-32zM542 808h24v8h-24zM542 816h24v8h-24zM542 824h24v8h-24zM542 832h24v8h-24zM542 840h24v8h-24zM542 848h24v8h-24zM542 856h24v8h-24zM542 864h24v8h-24zM542 872h24v8h-24zM542 880h24v8h-24zM542 888h24v8h-24zM542 896h24v8h-24zM542 904h24v8h-24zM542 912h24v8h-24zM534 920h32v8h-32zM534 928h32v8h-32zM534 936h32v8h-32zM526 944h40v8h-40zM526 952h40v8h-40zM526 960h40v8h-40zM518 968h48v8h-48zM518 976h48v8h-48zM510 984h56v8h-56zM502 992h64v8h-64zM494 1000h72v8h-72zM502 1008h64v8h-64zM518 1016h48v8h-48zM94 1024h8v8h-8zM526 1024h40v8h-40zM94 1032h16v8h-16zM518 1032h48v8h-48zM94 1040h24v8h-24zM518 1040h48v8h-48zM94 1048h24v8h-24zM486 1048h80v8h-80zM94 1056h32v8h-32zM422 1056h144v8h-144zM94 1064h32v8h-32zM414 1064h152v8h-152z"/><path fill="#010101" d="M446 600h16v8h-16zM446 608h16v8h-16zM438 616h16v8h-16zM430 624h16v8h-16zM430 632h8v8h-8zM430 640h8v8h-8zM430 648h8v8h-8zM430 656h8v8h-8zM430 664h8v8h-8zM430 672h16v8h-16zM438 680h16v8h-16zM454 688h8v8h-8zM462 696h8v8h-8zM470 704h8v8h-8zM478 712h8v8h-8zM486 720h8v8h-8zM494 728h8v8h-8zM494 736h16v8h-16zM502 744h16v8h-16zM510 752h16v8h-16zM510 760h16v8h-16zM518 768h8v8h-8zM518 776h16v8h-16zM518 784h16v8h-16zM526 792h8v8h-8zM526 800h8v8h-8zM526 808h16v8h-16zM534 816h8v8h-8zM534 824h8v8h-8zM534 832h8v8h-8zM534 840h8v8h-8zM534 848h8v8h-8zM534 856h8v8h-8zM534 864h8v8h-8zM534 872h8v8h-8zM534 880h8v8h-8zM534 888h8v8h-8zM534 896h8v8h-8zM526 904h16v8h-16zM526 912h16v8h-16zM526 920h8v8h-8zM526 928h8v8h-8zM518 936h16v8h-16zM518 944h8v8h-8zM510 952h16v8h-16zM502 960h24v8h-24zM502 968h16v8h-16zM494 976h24v8h-24zM486 984h24v8h-24zM478 992h24v8h-24zM470 1000h24v8h-24zM470 1008h32v8h-32zM486 1016h32v8h-32zM102 1024h16v8h-16zM494 1024h32v8h-32zM110 1032h16v8h-16zM494 1032h24v8h-24zM118 1040h16v8h-16zM478 1040h40v8h-40zM118 1048h24v8h-24zM438 1048h48v8h-48zM126 1056h24v8h-24zM390 1056h32v8h-32zM126 1064h32v8h-32zM382 1064h32v8h-32z"/><path fill="#020202" d="M438 600h8v8h-8zM430 608h16v8h-16zM430 616h8v8h-8zM422 624h8v8h-8zM422 632h8v8h-8zM422 640h8v8h-8zM422 648h8v8h-8zM422 656h8v8h-8zM430 680h8v8h-8zM446 688h8v8h-8zM454 696h8v8h-8zM462 704h8v8h-8zM470 712h8v8h-8zM478 720h8v8h-8zM486 728h8v8h-8zM494 744h8v8h-8zM502 752h8v8h-8zM502 760h8v8h-8zM510 768h8v8h-8zM510 776h8v8h-8zM510 784h8v8h-8zM518 792h8v8h-8zM518 800h8v8h-8zM526 816h8v8h-8zM526 824h8v8h-8zM526 832h8v8h-8zM526 840h8v8h-8zM526 848h8v8h-8zM526 856h8v8h-8zM526 864h8v8h-8zM526 872h8v8h-8zM526 880h8v8h-8zM526 888h8v8h-8zM526 896h8v8h-8zM518 912h8v8h-8zM518 920h8v8h-8zM518 928h8v8h-8zM510 936h8v8h-8zM510 944h8v8h-8zM502 952h8v8h-8zM494 960h8v8h-8zM494 968h8v8h-8zM486 976h8v8h-8zM478 984h8v8h-8zM470 992h8v8h-8zM462 1000h8v8h-8zM454 1008h16v8h-16zM94 1016h16v8h-16zM470 1016h16v8h-16zM118 1024h8v8h-8zM478 1024h16v8h-16zM126 1032h8v8h-8zM470 1032h24v8h-24zM134 1040h8v8h-8zM462 1040h16v8h-16zM142 1048h24v8h-24zM390 1048h48v8h-48zM150 1056h40v8h-40zM358 1056h32v8h-32zM158 1064h48v8h-48zM342 1064h40v8h-40z"/><path fill="#030303" d="M422 600h16v8h-16zM422 608h8v8h-8zM422 616h8v8h-8zM414 624h8v8h-8zM414 632h8v8h-8zM414 640h8v8h-8zM414 648h8v8h-8zM422 664h8v8h-8zM422 672h8v8h-8zM438 688h8v8h-8zM454 704h8v8h-8zM478 728h8v8h-8zM486 736h8v8h-8zM494 752h8v8h-8zM502 768h8v8h-8zM502 776h8v8h-8zM510 792h8v8h-8zM518 808h8v8h-8zM518 816h8v8h-8zM518 888h8v8h-8zM518 896h8v8h-8zM518 904h8v8h-8zM510 920h8v8h-8zM510 928h8v8h-8zM502 944h8v8h-8zM494 952h8v8h-8zM486 968h8v8h-8zM478 976h8v8h-8zM470 984h8v8h-8zM462 992h8v8h-8zM454 1000h8v8h-8zM438 1008h16v8h-16zM110 1016h8v8h-8zM454 1016h16v8h-16zM126 1024h8v8h-8zM462 1024h16v8h-16zM134 1032h8v8h-8zM462 1032h8v8h-8zM142 1040h16v8h-16zM446 1040h16v8h-16zM166 1048h24v8h-24zM366 1048h24v8h-24zM190 1056h168v8h-168zM206 1064h136v8h-136z"/><path fill="#040404" d="M414 600h8v8h-8zM414 608h8v8h-8zM414 616h8v8h-8zM406 624h8v8h-8zM406 632h8v8h-8zM406 640h8v8h-8zM414 656h8v8h-8zM446 696h8v8h-8zM462 712h8v8h-8zM470 720h8v8h-8zM486 744h8v8h-8zM494 760h8v8h-8zM502 784h8v8h-8zM510 800h8v8h-8zM518 824h8v8h-8zM518 864h8v8h-8zM518 872h8v8h-8zM518 880h8v8h-8zM510 912h8v8h-8zM502 936h8v8h-8zM486 960h8v8h-8zM446 1000h8v8h-8zM94 1008h24v8h-24zM430 1008h8v8h-8zM118 1016h8v8h-8zM438 1016h16v8h-16zM134 1024h8v8h-8zM454 1024h8v8h-8zM142 1032h8v8h-8zM446 1032h16v8h-16zM158 1040h16v8h-16zM430 1040h16v8h-16zM190 1048h32v8h-32zM342 1048h24v8h-24z"/><path fill="#050505" d="M398 600h16v8h-16zM398 608h16v8h-16zM398 616h16v8h-16zM398 624h8v8h-8zM398 632h8v8h-8zM406 648h8v8h-8zM414 664h8v8h-8zM422 680h8v8h-8zM478 736h8v8h-8zM486 752h8v8h-8zM494 768h8v8h-8zM510 808h8v8h-8zM518 832h8v8h-8zM518 840h8v8h-8zM518 848h8v8h-8zM518 856h8v8h-8zM510 904h8v8h-8zM502 928h8v8h-8zM494 944h8v8h-8zM478 968h8v8h-8zM470 976h8v8h-8zM94 1000h16v8h-16zM438 1000h8v8h-8zM126 1016h8v8h-8zM430 1016h8v8h-8zM438 1024h16v8h-16zM150 1032h8v8h-8zM438 1032h8v8h-8zM174 1040h16v8h-16zM382 1040h48v8h-48zM222 1048h120v8h-120z"/><path fill="#060606" d="M390 600h8v8h-8zM390 608h8v8h-8zM390 616h8v8h-8zM390 624h8v8h-8zM398 640h8v8h-8zM406 656h8v8h-8zM430 688h8v8h-8zM174 704h16v8h-16zM502 792h8v8h-8zM510 896h8v8h-8zM486 952h8v8h-8zM462 984h8v8h-8zM94 992h16v8h-16zM454 992h8v8h-8zM110 1000h8v8h-8zM118 1008h8v8h-8zM134 1016h8v8h-8zM142 1024h8v8h-8zM430 1024h8v8h-8zM158 1032h16v8h-16zM430 1032h8v8h-8zM190 1040h8v8h-8zM374 1040h8v8h-8z"/><path fill="#070707" d="M382 600h8v8h-8zM382 608h8v8h-8zM382 616h8v8h-8zM382 624h8v8h-8zM390 632h8v8h-8zM390 640h8v8h-8zM398 648h8v8h-8zM414 672h8v8h-8zM182 696h16v8h-16zM446 704h8v8h-8zM166 712h8v8h-8zM454 712h8v8h-8zM470 728h8v8h-8zM486 760h8v8h-8zM494 776h8v8h-8zM510 816h8v8h-8zM510 888h8v8h-8zM502 920h8v8h-8zM214 968h8v8h-8zM222 976h8v8h-8zM94 984h16v8h-16zM110 992h8v8h-8zM118 1000h8v8h-8zM430 1000h8v8h-8zM126 1008h8v8h-8zM422 1008h8v8h-8zM422 1016h8v8h-8zM150 1024h8v8h-8zM422 1024h8v8h-8zM174 1032h8v8h-8zM414 1032h16v8h-16zM198 1040h16v8h-16zM358 1040h16v8h-16z"/><path fill="#080808" d="M374 600h8v8h-8zM374 608h8v8h-8zM374 616h8v8h-8zM374 624h8v8h-8zM382 632h8v8h-8zM382 640h8v8h-8zM390 648h8v8h-8zM398 656h8v8h-8zM406 664h8v8h-8zM174 696h8v8h-8zM438 696h8v8h-8zM166 704h8v8h-8zM158 712h8v8h-8zM174 712h8v8h-8zM462 720h8v8h-8zM478 744h8v8h-8zM510 880h8v8h-8zM494 936h8v8h-8zM206 960h8v8h-8zM478 960h8v8h-8zM206 968h8v8h-8zM94 976h16v8h-16zM214 976h8v8h-8zM142 1016h8v8h-8zM158 1024h8v8h-8zM182 1032h8v8h-8zM398 1032h16v8h-16zM214 1040h16v8h-16zM342 1040h16v8h-16z"/><path fill="#090909" d="M358 600h16v8h-16zM358 608h16v8h-16zM366 616h8v8h-8zM366 624h8v8h-8zM374 632h8v8h-8zM190 688h16v8h-16zM422 688h8v8h-8zM198 696h8v8h-8zM190 704h8v8h-8zM150 720h16v8h-16zM494 784h8v8h-8zM502 800h8v8h-8zM510 824h8v8h-8zM510 872h8v8h-8zM502 912h8v8h-8zM198 952h8v8h-8zM94 968h16v8h-16zM222 968h8v8h-8zM470 968h8v8h-8zM110 984h8v8h-8zM118 992h8v8h-8zM126 1000h8v8h-8zM422 1000h8v8h-8zM134 1008h8v8h-8zM414 1024h8v8h-8zM190 1032h8v8h-8zM382 1032h16v8h-16zM230 1040h16v8h-16zM286 1040h56v8h-56z"/><path fill="#0a0a0a" d="M350 600h8v8h-8zM350 608h8v8h-8zM358 616h8v8h-8zM358 624h8v8h-8zM366 632h8v8h-8zM374 640h8v8h-8zM382 648h8v8h-8zM390 656h8v8h-8zM414 680h8v8h-8zM182 688h8v8h-8zM206 688h8v8h-8zM158 704h8v8h-8zM150 712h8v8h-8zM182 712h8v8h-8zM142 720h8v8h-8zM142 728h8v8h-8zM486 768h8v8h-8zM510 832h8v8h-8zM510 840h8v8h-8zM510 848h8v8h-8zM510 856h8v8h-8zM510 864h8v8h-8zM174 920h8v8h-8zM174 928h16v8h-16zM182 936h8v8h-8zM190 944h8v8h-8zM486 944h8v8h-8zM94 952h8v8h-8zM94 960h16v8h-16zM198 960h8v8h-8zM214 960h8v8h-8zM110 976h8v8h-8zM230 976h8v8h-8zM462 976h8v8h-8zM446 992h8v8h-8zM150 1016h8v8h-8zM414 1016h8v8h-8zM166 1024h8v8h-8zM406 1024h8v8h-8zM198 1032h8v8h-8zM374 1032h8v8h-8zM246 1040h40v8h-40z"/><path fill="#0b0b0b" d="M342 600h8v8h-8zM342 608h8v8h-8zM350 616h8v8h-8zM350 624h8v8h-8zM358 632h8v8h-8zM366 640h8v8h-8zM398 664h8v8h-8zM206 680h16v8h-16zM166 720h8v8h-8zM134 728h8v8h-8zM150 728h8v8h-8zM470 736h8v8h-8zM478 752h8v8h-8zM502 904h8v8h-8zM94 944h8v8h-8zM102 952h8v8h-8zM190 952h8v8h-8zM110 968h8v8h-8zM118 984h8v8h-8zM222 984h16v8h-16zM454 984h8v8h-8zM126 992h8v8h-8zM134 1000h8v8h-8zM142 1008h8v8h-8zM414 1008h8v8h-8zM174 1024h8v8h-8zM206 1032h8v8h-8zM366 1032h8v8h-8z"/><path fill="#0c0c0c" d="M334 600h8v8h-8zM334 608h8v8h-8zM334 616h16v8h-16zM374 648h8v8h-8zM406 672h8v8h-8zM198 680h8v8h-8zM166 696h8v8h-8zM430 696h8v8h-8zM446 712h8v8h-8zM134 720h8v8h-8zM502 808h8v8h-8zM174 912h8v8h-8zM94 928h8v8h-8zM494 928h8v8h-8zM94 936h16v8h-16zM102 944h8v8h-8zM182 944h8v8h-8zM206 952h8v8h-8zM110 960h8v8h-8zM118 976h8v8h-8zM206 976h8v8h-8zM158 1016h8v8h-8zM182 1024h8v8h-8zM398 1024h8v8h-8zM214 1032h8v8h-8zM358 1032h8v8h-8z"/><path fill="#0d0d0d" d="M326 600h8v8h-8zM326 608h8v8h-8zM326 616h8v8h-8zM342 624h8v8h-8zM350 632h8v8h-8zM358 640h8v8h-8zM382 656h8v8h-8zM214 672h16v8h-16zM190 680h8v8h-8zM174 688h8v8h-8zM214 688h8v8h-8zM206 696h8v8h-8zM142 712h8v8h-8zM174 720h8v8h-8zM454 720h8v8h-8zM158 728h8v8h-8zM134 736h16v8h-16zM494 792h8v8h-8zM502 896h8v8h-8zM166 904h8v8h-8zM166 912h8v8h-8zM94 920h8v8h-8zM182 920h8v8h-8zM102 928h8v8h-8zM174 936h8v8h-8zM190 936h8v8h-8zM110 952h8v8h-8zM478 952h8v8h-8zM126 984h8v8h-8zM238 984h8v8h-8zM134 992h8v8h-8zM438 992h8v8h-8zM142 1000h8v8h-8zM150 1008h8v8h-8zM406 1016h8v8h-8zM190 1024h8v8h-8zM390 1024h8v8h-8zM222 1032h16v8h-16zM342 1032h16v8h-16z"/><path fill="#0e0e0e" d="M318 600h8v8h-8zM318 608h8v8h-8zM318 616h8v8h-8zM334 624h8v8h-8zM342 632h8v8h-8zM366 648h8v8h-8zM206 672h8v8h-8zM182 680h8v8h-8zM222 680h8v8h-8zM150 704h8v8h-8zM198 704h8v8h-8zM438 704h8v8h-8zM190 712h8v8h-8zM126 728h8v8h-8zM462 728h8v8h-8zM126 736h8v8h-8zM150 736h8v8h-8zM486 776h8v8h-8zM166 896h8v8h-8zM94 912h8v8h-8zM102 920h8v8h-8zM166 920h8v8h-8zM110 944h8v8h-8zM198 944h8v8h-8zM118 968h8v8h-8zM198 968h8v8h-8zM214 984h8v8h-8zM166 1016h8v8h-8zM382 1024h8v8h-8zM238 1032h16v8h-16zM278 1032h64v8h-64z"/><path fill="#0f0f0f" d="M310 600h8v8h-8zM310 608h8v8h-8zM310 616h8v8h-8zM318 624h16v8h-16zM350 640h8v8h-8zM374 656h8v8h-8zM214 664h16v8h-16zM390 664h8v8h-8zM198 672h8v8h-8zM230 672h8v8h-8zM158 696h8v8h-8zM478 760h8v8h-8zM502 816h8v8h-8zM502 888h8v8h-8zM94 904h8v8h-8zM174 904h8v8h-8zM102 912h8v8h-8zM494 920h8v8h-8zM110 936h8v8h-8zM190 960h8v8h-8zM222 960h8v8h-8zM470 960h8v8h-8zM230 968h8v8h-8zM126 976h8v8h-8zM238 976h8v8h-8zM414 1000h8v8h-8zM158 1008h8v8h-8zM174 1016h8v8h-8zM198 1024h8v8h-8zM254 1032h24v8h-24z"/><path fill="#101010" d="M302 600h8v8h-8zM302 608h8v8h-8zM302 616h8v8h-8zM310 624h8v8h-8zM334 632h8v8h-8zM358 648h8v8h-8zM206 664h8v8h-8zM230 664h8v8h-8zM190 672h8v8h-8zM174 680h8v8h-8zM166 688h8v8h-8zM414 688h8v8h-8zM134 712h8v8h-8zM126 720h8v8h-8zM182 720h8v8h-8zM166 728h8v8h-8zM118 736h8v8h-8zM126 744h24v8h-24zM470 744h8v8h-8zM158 888h8v8h-8zM158 896h8v8h-8zM102 904h8v8h-8zM110 928h8v8h-8zM166 928h8v8h-8zM486 936h8v8h-8zM182 952h8v8h-8zM118 960h8v8h-8zM462 968h8v8h-8zM134 984h8v8h-8zM142 992h8v8h-8zM230 992h16v8h-16zM430 992h8v8h-8zM150 1000h8v8h-8zM406 1008h8v8h-8zM398 1016h8v8h-8zM206 1024h8v8h-8zM374 1024h8v8h-8z"/><path fill="#111111" d="M294 600h8v8h-8zM294 608h8v8h-8zM294 616h8v8h-8zM302 624h8v8h-8zM318 632h16v8h-16zM342 640h8v8h-8zM214 656h16v8h-16zM198 664h8v8h-8zM182 672h8v8h-8zM142 704h8v8h-8zM118 728h8v8h-8zM158 736h8v8h-8zM150 744h8v8h-8zM158 880h8v8h-8zM502 880h8v8h-8zM166 888h8v8h-8zM94 896h8v8h-8zM158 904h8v8h-8zM110 920h8v8h-8zM174 944h8v8h-8zM118 952h8v8h-8zM214 952h8v8h-8zM126 968h8v8h-8zM182 1016h8v8h-8zM214 1024h16v8h-16zM366 1024h8v8h-8z"/><path fill="#121212" d="M94 600h24v8h-24zM278 600h16v8h-16zM94 608h16v8h-16zM278 608h16v8h-16zM94 616h16v8h-16zM286 616h8v8h-8zM286 624h16v8h-16zM310 632h8v8h-8zM350 648h8v8h-8zM206 656h8v8h-8zM230 656h8v8h-8zM366 656h8v8h-8zM190 664h8v8h-8zM238 664h8v8h-8zM382 664h8v8h-8zM398 672h8v8h-8zM230 680h8v8h-8zM406 680h8v8h-8zM222 688h8v8h-8zM422 696h8v8h-8zM118 744h8v8h-8zM94 776h16v8h-16zM94 784h16v8h-16zM486 784h8v8h-8zM494 800h8v8h-8zM502 824h8v8h-8zM102 896h8v8h-8zM110 912h8v8h-8zM182 912h8v8h-8zM494 912h8v8h-8zM190 928h8v8h-8zM134 976h8v8h-8zM454 976h8v8h-8zM142 984h8v8h-8zM246 984h8v8h-8zM222 992h8v8h-8zM246 992h8v8h-8zM166 1008h8v8h-8zM390 1016h8v8h-8zM230 1024h40v8h-40zM350 1024h16v8h-16z"/><path fill="#131313" d="M118 600h8v8h-8zM270 600h8v8h-8zM110 608h16v8h-16zM270 608h8v8h-8zM110 616h8v8h-8zM270 616h16v8h-16zM94 624h16v8h-16zM278 624h8v8h-8zM294 632h16v8h-16zM334 640h8v8h-8zM198 656h8v8h-8zM238 656h8v8h-8zM182 664h8v8h-8zM174 672h8v8h-8zM238 672h8v8h-8zM166 680h8v8h-8zM158 688h8v8h-8zM150 696h8v8h-8zM214 696h8v8h-8zM174 728h8v8h-8zM110 744h8v8h-8zM118 752h32v8h-32zM94 768h24v8h-24zM110 776h8v8h-8zM110 784h8v8h-8zM94 792h16v8h-16zM158 792h8v8h-8zM150 800h16v8h-16zM158 872h8v8h-8zM502 872h8v8h-8zM94 888h16v8h-16zM174 896h8v8h-8zM110 904h8v8h-8zM158 912h8v8h-8zM166 936h8v8h-8zM118 944h8v8h-8zM478 944h8v8h-8zM126 960h8v8h-8zM198 976h8v8h-8zM206 984h8v8h-8zM446 984h8v8h-8zM150 992h8v8h-8zM158 1000h8v8h-8zM190 1016h8v8h-8zM270 1024h56v8h-56zM334 1024h16v8h-16z"/><path fill="#141414" d="M126 600h8v8h-8zM254 600h16v8h-16zM126 608h8v8h-8zM254 608h16v8h-16zM118 616h8v8h-8zM254 616h16v8h-16zM110 624h8v8h-8zM254 624h24v8h-24zM94 632h16v8h-16zM262 632h32v8h-32zM326 640h8v8h-8zM190 656h8v8h-8zM246 656h8v8h-8zM358 656h8v8h-8zM134 704h8v8h-8zM206 704h8v8h-8zM126 712h8v8h-8zM198 712h8v8h-8zM118 720h8v8h-8zM446 720h8v8h-8zM110 736h8v8h-8zM166 736h8v8h-8zM462 736h8v8h-8zM102 744h8v8h-8zM158 744h8v8h-8zM94 752h24v8h-24zM150 752h8v8h-8zM94 760h56v8h-56zM118 768h8v8h-8zM478 768h8v8h-8zM118 776h8v8h-8zM118 784h8v8h-8zM150 784h16v8h-16zM110 792h8v8h-8zM150 792h8v8h-8zM94 800h16v8h-16zM150 808h8v8h-8zM150 816h8v8h-8zM150 824h8v8h-8zM502 832h8v8h-8zM502 856h8v8h-8zM502 864h8v8h-8zM94 880h8v8h-8zM150 880h8v8h-8zM166 880h8v8h-8zM110 896h8v8h-8zM118 936h8v8h-8zM206 944h8v8h-8zM134 968h8v8h-8zM190 968h8v8h-8zM142 976h8v8h-8zM422 992h8v8h-8zM246 1000h8v8h-8zM174 1008h8v8h-8zM198 1016h8v8h-8zM326 1024h8v8h-8z"/><path fill="#151515" d="M134 600h16v8h-16zM238 600h16v8h-16zM134 608h8v8h-8zM238 608h16v8h-16zM126 616h8v8h-8zM246 616h8v8h-8zM118 624h8v8h-8zM246 624h8v8h-8zM110 632h8v8h-8zM246 632h16v8h-16zM94 640h16v8h-16zM246 640h40v8h-40zM310 640h16v8h-16zM206 648h56v8h-56zM342 648h8v8h-8zM182 656h8v8h-8zM174 664h8v8h-8zM246 664h8v8h-8zM374 664h8v8h-8zM142 696h8v8h-8zM438 712h8v8h-8zM190 720h8v8h-8zM94 744h8v8h-8zM470 752h8v8h-8zM150 760h8v8h-8zM126 768h16v8h-16zM150 768h8v8h-8zM126 776h8v8h-8zM150 776h16v8h-16zM118 792h8v8h-8zM110 800h8v8h-8zM94 808h16v8h-16zM158 808h8v8h-8zM150 832h8v8h-8zM502 840h8v8h-8zM502 848h8v8h-8zM150 872h8v8h-8zM102 880h8v8h-8zM110 888h8v8h-8zM150 888h8v8h-8zM158 920h8v8h-8zM118 928h8v8h-8zM198 936h8v8h-8zM126 952h8v8h-8zM174 952h8v8h-8zM182 960h8v8h-8zM238 968h8v8h-8zM246 976h8v8h-8zM150 984h8v8h-8zM254 992h8v8h-8zM238 1000h8v8h-8zM406 1000h8v8h-8zM398 1008h8v8h-8zM246 1016h24v8h-24zM382 1016h8v8h-8z"/><path fill="#161616" d="M150 600h16v8h-16zM214 600h24v8h-24zM142 608h16v8h-16zM222 608h16v8h-16zM134 616h16v8h-16zM230 616h16v8h-16zM126 624h8v8h-8zM238 624h8v8h-8zM118 632h8v8h-8zM238 632h8v8h-8zM110 640h8v8h-8zM238 640h8v8h-8zM286 640h24v8h-24zM190 648h16v8h-16zM262 648h8v8h-8zM254 656h8v8h-8zM166 672h8v8h-8zM390 672h8v8h-8zM158 680h8v8h-8zM150 688h8v8h-8zM430 704h8v8h-8zM110 728h8v8h-8zM454 728h8v8h-8zM94 736h16v8h-16zM158 752h8v8h-8zM158 760h8v8h-8zM142 768h8v8h-8zM158 768h8v8h-8zM134 776h16v8h-16zM126 784h8v8h-8zM142 784h8v8h-8zM118 800h8v8h-8zM110 808h8v8h-8zM494 808h8v8h-8zM158 816h8v8h-8zM150 840h8v8h-8zM150 864h16v8h-16zM94 872h8v8h-8zM150 896h8v8h-8zM494 904h8v8h-8zM118 912h8v8h-8zM118 920h8v8h-8zM486 928h8v8h-8zM166 944h8v8h-8zM470 952h8v8h-8zM134 960h8v8h-8zM230 960h8v8h-8zM142 968h8v8h-8zM158 992h8v8h-8zM214 992h8v8h-8zM166 1000h8v8h-8zM254 1000h8v8h-8zM182 1008h8v8h-8zM246 1008h16v8h-16zM206 1016h16v8h-16zM230 1016h16v8h-16zM270 1016h16v8h-16zM374 1016h8v8h-8z"/><path fill="#171717" d="M166 600h48v8h-48zM158 608h64v8h-64zM150 616h16v8h-16zM222 616h8v8h-8zM134 624h16v8h-16zM230 624h8v8h-8zM126 632h8v8h-8zM230 640h8v8h-8zM94 648h16v8h-16zM182 648h8v8h-8zM270 648h8v8h-8zM334 648h8v8h-8zM174 656h8v8h-8zM350 656h8v8h-8zM134 696h8v8h-8zM126 704h8v8h-8zM182 728h8v8h-8zM166 744h8v8h-8zM134 784h8v8h-8zM126 792h8v8h-8zM142 792h8v8h-8zM142 800h8v8h-8zM142 808h8v8h-8zM94 816h16v8h-16zM142 816h8v8h-8zM158 824h8v8h-8zM150 848h8v8h-8zM150 856h8v8h-8zM102 872h8v8h-8zM110 880h8v8h-8zM118 896h8v8h-8zM118 904h8v8h-8zM158 928h8v8h-8zM126 944h8v8h-8zM222 952h8v8h-8zM150 976h8v8h-8zM254 984h8v8h-8zM230 1000h8v8h-8zM238 1008h8v8h-8zM262 1008h8v8h-8zM222 1016h8v8h-8zM286 1016h16v8h-16z"/><path fill="#181818" d="M166 616h56v8h-56zM150 624h24v8h-24zM222 624h8v8h-8zM134 632h8v8h-8zM230 632h8v8h-8zM118 640h8v8h-8zM198 640h32v8h-32zM110 648h8v8h-8zM174 648h8v8h-8zM278 648h8v8h-8zM326 648h8v8h-8zM94 656h8v8h-8zM262 656h8v8h-8zM166 664h8v8h-8zM254 664h8v8h-8zM366 664h8v8h-8zM246 672h8v8h-8zM238 680h8v8h-8zM142 688h8v8h-8zM230 688h8v8h-8zM222 696h8v8h-8zM118 712h8v8h-8zM102 728h8v8h-8zM174 736h8v8h-8zM166 776h8v8h-8zM166 784h8v8h-8zM134 792h8v8h-8zM486 792h8v8h-8zM126 800h8v8h-8zM118 808h8v8h-8zM110 816h8v8h-8zM94 824h16v8h-16zM142 824h8v8h-8zM142 832h8v8h-8zM158 832h8v8h-8zM158 856h8v8h-8zM94 864h8v8h-8zM110 872h8v8h-8zM118 888h8v8h-8zM174 888h8v8h-8zM150 904h8v8h-8zM182 904h8v8h-8zM190 920h8v8h-8zM126 936h8v8h-8zM158 936h8v8h-8zM134 952h8v8h-8zM166 952h8v8h-8zM142 960h8v8h-8zM174 960h8v8h-8zM462 960h8v8h-8zM150 968h8v8h-8zM158 984h8v8h-8zM198 984h8v8h-8zM174 1000h8v8h-8zM262 1000h8v8h-8zM190 1008h8v8h-8zM270 1008h8v8h-8zM302 1016h8v8h-8zM358 1016h16v8h-16z"/><path fill="#191919" d="M174 624h48v8h-48zM142 632h88v8h-88zM126 640h8v8h-8zM166 640h32v8h-32zM166 648h8v8h-8zM286 648h8v8h-8zM318 648h8v8h-8zM102 656h8v8h-8zM166 656h8v8h-8zM158 672h8v8h-8zM150 680h8v8h-8zM406 688h8v8h-8zM414 696h8v8h-8zM110 720h8v8h-8zM94 728h8v8h-8zM166 752h8v8h-8zM166 768h8v8h-8zM478 776h8v8h-8zM166 792h8v8h-8zM134 800h8v8h-8zM126 808h8v8h-8zM118 816h8v8h-8zM110 824h8v8h-8zM94 832h16v8h-16zM94 840h8v8h-8zM142 840h8v8h-8zM158 840h8v8h-8zM94 848h8v8h-8zM158 848h8v8h-8zM94 856h8v8h-8zM102 864h8v8h-8zM166 872h8v8h-8zM118 880h8v8h-8zM494 896h8v8h-8zM126 928h8v8h-8zM158 944h8v8h-8zM142 952h8v8h-8zM158 952h8v8h-8zM150 960h16v8h-16zM182 968h8v8h-8zM454 968h8v8h-8zM158 976h8v8h-8zM190 976h8v8h-8zM438 984h8v8h-8zM166 992h8v8h-8zM206 992h8v8h-8zM414 992h8v8h-8zM222 1000h8v8h-8zM230 1008h8v8h-8zM390 1008h8v8h-8zM310 1016h16v8h-16zM342 1016h16v8h-16z"/><path fill="#1a1a1a" d="M134 640h32v8h-32zM118 648h8v8h-8zM294 648h24v8h-24zM110 656h8v8h-8zM270 656h8v8h-8zM342 656h8v8h-8zM94 664h8v8h-8zM398 680h8v8h-8zM134 688h8v8h-8zM126 696h8v8h-8zM118 704h8v8h-8zM214 704h8v8h-8zM206 712h8v8h-8zM198 720h8v8h-8zM190 728h8v8h-8zM462 744h8v8h-8zM166 760h8v8h-8zM470 760h8v8h-8zM134 808h8v8h-8zM134 816h8v8h-8zM110 832h8v8h-8zM102 840h8v8h-8zM102 848h8v8h-8zM142 848h8v8h-8zM102 856h8v8h-8zM110 864h8v8h-8zM142 872h8v8h-8zM142 880h8v8h-8zM142 888h8v8h-8zM126 904h8v8h-8zM126 912h8v8h-8zM150 912h8v8h-8zM126 920h8v8h-8zM478 936h8v8h-8zM134 944h8v8h-8zM150 952h8v8h-8zM166 960h8v8h-8zM158 968h8v8h-8zM246 968h8v8h-8zM254 976h8v8h-8zM262 992h8v8h-8zM182 1000h8v8h-8zM198 1008h16v8h-16zM222 1008h8v8h-8zM278 1008h8v8h-8zM326 1016h16v8h-16z"/><path fill="#1b1b1b" d="M126 648h8v8h-8zM158 648h8v8h-8zM118 656h8v8h-8zM158 656h8v8h-8zM102 664h16v8h-16zM158 664h8v8h-8zM262 664h8v8h-8zM358 664h8v8h-8zM150 672h8v8h-8zM382 672h8v8h-8zM142 680h8v8h-8zM110 712h8v8h-8zM102 720h8v8h-8zM182 736h8v8h-8zM174 744h8v8h-8zM166 800h8v8h-8zM126 816h8v8h-8zM494 816h8v8h-8zM118 824h8v8h-8zM134 824h8v8h-8zM110 840h8v8h-8zM110 848h8v8h-8zM110 856h8v8h-8zM142 856h8v8h-8zM142 864h8v8h-8zM118 872h8v8h-8zM126 888h8v8h-8zM494 888h8v8h-8zM126 896h8v8h-8zM142 896h8v8h-8zM150 920h8v8h-8zM486 920h8v8h-8zM134 936h8v8h-8zM150 936h8v8h-8zM142 944h16v8h-16zM214 944h8v8h-8zM166 968h16v8h-16zM446 976h8v8h-8zM166 984h8v8h-8zM190 984h8v8h-8zM174 992h8v8h-8zM198 992h8v8h-8zM190 1000h8v8h-8zM214 1000h8v8h-8zM270 1000h8v8h-8zM214 1008h8v8h-8zM286 1008h8v8h-8z"/><path fill="#1c1c1c" d="M134 648h24v8h-24zM334 656h8v8h-8zM94 672h16v8h-16zM134 680h8v8h-8zM126 688h8v8h-8zM118 696h8v8h-8zM422 704h8v8h-8zM94 720h8v8h-8zM126 824h8v8h-8zM118 832h8v8h-8zM134 832h8v8h-8zM118 840h8v8h-8zM118 864h8v8h-8zM126 880h16v8h-16zM134 888h8v8h-8zM134 896h8v8h-8zM142 904h8v8h-8zM134 928h8v8h-8zM150 928h8v8h-8zM142 936h8v8h-8zM238 960h8v8h-8zM166 976h8v8h-8zM182 976h8v8h-8zM262 984h8v8h-8zM182 992h16v8h-16zM198 1000h16v8h-16zM398 1000h8v8h-8zM294 1008h8v8h-8zM382 1008h8v8h-8z"/><path fill="#1d1d1d" d="M126 656h16v8h-16zM150 656h8v8h-8zM278 656h8v8h-8zM118 664h16v8h-16zM150 664h8v8h-8zM110 672h40v8h-40zM254 672h8v8h-8zM118 680h16v8h-16zM118 688h8v8h-8zM110 696h8v8h-8zM110 704h8v8h-8zM102 712h8v8h-8zM438 720h8v8h-8zM446 728h8v8h-8zM486 800h8v8h-8zM166 808h8v8h-8zM126 832h8v8h-8zM126 840h16v8h-16zM118 848h8v8h-8zM118 856h8v8h-8zM126 872h16v8h-16zM174 880h8v8h-8zM494 880h8v8h-8zM182 896h8v8h-8zM134 904h8v8h-8zM134 912h16v8h-16zM134 920h16v8h-16zM142 928h8v8h-8zM198 928h8v8h-8zM174 976h8v8h-8zM174 984h16v8h-16zM278 1000h8v8h-8zM302 1008h8v8h-8z"/><path fill="#1e1e1e" d="M142 656h8v8h-8zM326 656h8v8h-8zM134 664h16v8h-16zM350 664h8v8h-8zM374 672h8v8h-8zM94 680h24v8h-24zM246 680h8v8h-8zM94 688h24v8h-24zM102 696h8v8h-8zM94 704h16v8h-16zM94 712h8v8h-8zM430 712h8v8h-8zM198 728h8v8h-8zM454 736h8v8h-8zM174 752h8v8h-8zM478 784h8v8h-8zM126 848h16v8h-16zM126 856h16v8h-16zM126 864h16v8h-16zM166 864h8v8h-8zM190 912h8v8h-8zM206 936h8v8h-8zM470 944h8v8h-8zM230 952h8v8h-8zM430 984h8v8h-8zM270 992h8v8h-8zM374 1008h8v8h-8z"/><path fill="#1f1f1f" d="M286 656h8v8h-8zM310 656h16v8h-16zM270 664h8v8h-8zM238 688h8v8h-8zM94 696h8v8h-8zM230 696h8v8h-8zM222 704h8v8h-8zM206 720h8v8h-8zM190 736h8v8h-8zM182 744h8v8h-8zM174 760h8v8h-8zM174 768h8v8h-8zM470 768h8v8h-8zM174 776h8v8h-8zM166 816h8v8h-8zM494 824h8v8h-8zM494 872h8v8h-8zM486 912h8v8h-8zM254 968h8v8h-8zM262 976h8v8h-8zM406 992h8v8h-8zM286 1000h8v8h-8zM310 1008h8v8h-8zM366 1008h8v8h-8z"/><path fill="#202020" d="M294 656h16v8h-16zM342 664h8v8h-8zM390 680h8v8h-8zM214 712h8v8h-8zM462 752h8v8h-8zM494 832h8v8h-8zM494 864h8v8h-8zM462 952h8v8h-8zM318 1008h8v8h-8zM350 1008h16v8h-16z"/><path fill="#212121" d="M262 672h8v8h-8zM366 672h8v8h-8zM174 784h8v8h-8zM166 824h8v8h-8zM494 840h8v8h-8zM494 848h8v8h-8zM166 856h8v8h-8zM494 856h8v8h-8zM182 888h8v8h-8zM478 928h8v8h-8zM246 960h8v8h-8zM454 960h8v8h-8zM270 984h8v8h-8zM294 1000h8v8h-8zM390 1000h8v8h-8zM326 1008h24v8h-24z"/><path fill="#222222" d="M278 664h8v8h-8zM334 664h8v8h-8zM398 688h8v8h-8zM406 696h8v8h-8zM182 752h8v8h-8zM486 808h8v8h-8zM166 832h8v8h-8zM166 848h8v8h-8zM486 904h8v8h-8zM222 944h8v8h-8zM422 984h8v8h-8zM278 992h8v8h-8z"/><path fill="#232323" d="M358 672h8v8h-8zM254 680h8v8h-8zM206 728h8v8h-8zM198 736h8v8h-8zM190 744h8v8h-8zM174 792h8v8h-8zM478 792h8v8h-8zM166 840h8v8h-8zM174 872h8v8h-8zM190 904h8v8h-8zM446 968h8v8h-8zM438 976h8v8h-8zM302 1000h8v8h-8z"/><path fill="#242424" d="M286 664h8v8h-8zM318 664h16v8h-16zM270 672h8v8h-8zM414 704h8v8h-8zM222 712h8v8h-8zM214 720h8v8h-8zM182 760h8v8h-8zM470 776h8v8h-8zM486 896h8v8h-8zM198 920h8v8h-8zM238 952h8v8h-8zM262 968h8v8h-8zM382 1000h8v8h-8z"/><path fill="#252525" d="M294 664h24v8h-24zM350 672h8v8h-8zM382 680h8v8h-8zM246 688h8v8h-8zM238 696h8v8h-8zM230 704h8v8h-8zM422 712h8v8h-8zM430 720h8v8h-8zM438 728h8v8h-8zM454 744h8v8h-8zM462 760h8v8h-8zM182 768h8v8h-8zM470 936h8v8h-8zM270 976h8v8h-8zM286 992h8v8h-8zM398 992h8v8h-8zM310 1000h8v8h-8z"/><path fill="#262626" d="M262 680h8v8h-8zM446 736h8v8h-8zM198 744h8v8h-8zM190 752h8v8h-8zM174 800h8v8h-8zM486 816h8v8h-8zM182 880h8v8h-8zM190 896h8v8h-8zM478 920h8v8h-8zM214 936h8v8h-8zM278 984h8v8h-8zM318 1000h8v8h-8zM374 1000h8v8h-8z"/><path fill="#272727" d="M278 672h8v8h-8zM342 672h8v8h-8zM214 728h8v8h-8zM206 736h8v8h-8zM182 776h8v8h-8zM486 888h8v8h-8zM254 960h8v8h-8zM414 984h8v8h-8zM294 992h8v8h-8zM326 1000h8v8h-8z"/><path fill="#282828" d="M374 680h8v8h-8zM390 688h8v8h-8zM222 720h8v8h-8zM190 760h8v8h-8zM470 784h8v8h-8zM478 800h8v8h-8zM174 864h8v8h-8zM486 880h8v8h-8zM206 928h8v8h-8zM462 944h8v8h-8zM334 1000h40v8h-40z"/><path fill="#292929" d="M286 672h8v8h-8zM334 672h8v8h-8zM270 680h8v8h-8zM254 688h8v8h-8zM238 704h8v8h-8zM230 712h8v8h-8zM174 808h8v8h-8zM190 888h8v8h-8zM198 912h8v8h-8zM230 944h8v8h-8zM454 952h8v8h-8zM302 992h8v8h-8z"/><path fill="#2a2a2a" d="M294 672h40v8h-40zM246 696h8v8h-8zM398 696h8v8h-8zM198 752h8v8h-8zM190 768h8v8h-8zM462 768h8v8h-8zM182 784h8v8h-8zM486 824h8v8h-8zM486 872h8v8h-8zM478 912h8v8h-8zM446 960h8v8h-8zM430 976h8v8h-8zM390 992h8v8h-8z"/><path fill="#2b2b2b" d="M278 680h8v8h-8zM366 680h8v8h-8zM262 688h8v8h-8zM406 704h8v8h-8zM214 736h8v8h-8zM206 744h8v8h-8zM454 752h8v8h-8zM174 816h8v8h-8zM486 832h8v8h-8zM486 864h8v8h-8zM182 872h8v8h-8zM190 880h8v8h-8zM246 952h8v8h-8zM270 968h8v8h-8zM438 968h8v8h-8zM286 984h8v8h-8zM310 992h8v8h-8z"/><path fill="#2c2c2c" d="M358 680h8v8h-8zM414 712h8v8h-8zM422 720h8v8h-8zM222 728h8v8h-8zM430 728h8v8h-8zM198 760h8v8h-8zM182 792h8v8h-8zM478 808h8v8h-8zM174 824h8v8h-8zM486 840h8v8h-8zM486 848h8v8h-8zM174 856h8v8h-8zM486 856h8v8h-8zM198 904h8v8h-8zM478 904h8v8h-8zM470 928h8v8h-8zM262 960h8v8h-8zM278 976h8v8h-8zM406 984h8v8h-8z"/><path fill="#2d2d2d" d="M286 680h8v8h-8zM350 680h8v8h-8zM382 688h8v8h-8zM254 696h8v8h-8zM238 712h8v8h-8zM230 720h8v8h-8zM438 736h8v8h-8zM190 776h8v8h-8zM470 792h8v8h-8zM174 832h8v8h-8zM174 848h8v8h-8zM198 896h8v8h-8zM222 936h8v8h-8zM318 992h8v8h-8zM382 992h8v8h-8z"/><path fill="#2e2e2e" d="M294 680h8v8h-8zM342 680h8v8h-8zM270 688h8v8h-8zM246 704h8v8h-8zM446 744h8v8h-8zM206 752h8v8h-8zM462 776h8v8h-8zM174 840h8v8h-8zM198 888h8v8h-8zM206 920h8v8h-8zM422 976h8v8h-8zM294 984h8v8h-8zM326 992h8v8h-8z"/><path fill="#2f2f2f" d="M302 680h40v8h-40zM278 688h8v8h-8zM262 696h8v8h-8zM390 696h8v8h-8zM454 760h8v8h-8zM198 768h8v8h-8zM190 784h8v8h-8zM182 800h8v8h-8zM190 872h8v8h-8zM198 880h8v8h-8zM478 896h8v8h-8zM214 928h8v8h-8zM462 936h8v8h-8zM334 992h8v8h-8zM374 992h8v8h-8z"/><path fill="#303030" d="M374 688h8v8h-8zM214 744h8v8h-8zM478 816h8v8h-8zM182 864h8v8h-8zM478 888h8v8h-8zM470 920h8v8h-8zM238 944h8v8h-8zM454 944h8v8h-8zM446 952h8v8h-8zM302 984h8v8h-8zM398 984h8v8h-8zM342 992h32v8h-32z"/><path fill="#313131" d="M286 688h8v8h-8zM366 688h8v8h-8zM270 696h8v8h-8zM254 704h8v8h-8zM398 704h8v8h-8zM246 712h8v8h-8zM238 720h8v8h-8zM414 720h8v8h-8zM230 728h8v8h-8zM222 736h8v8h-8zM206 760h8v8h-8zM198 776h8v8h-8zM462 784h8v8h-8zM470 800h8v8h-8zM182 808h8v8h-8zM206 912h8v8h-8zM254 952h8v8h-8zM438 960h8v8h-8zM430 968h8v8h-8zM286 976h8v8h-8z"/><path fill="#323232" d="M294 688h8v8h-8zM358 688h8v8h-8zM382 696h8v8h-8zM406 712h8v8h-8zM422 728h8v8h-8zM190 792h8v8h-8zM478 824h8v8h-8zM198 872h8v8h-8zM478 880h8v8h-8zM206 904h8v8h-8zM270 960h8v8h-8zM278 968h8v8h-8zM310 984h8v8h-8z"/><path fill="#333333" d="M302 688h8v8h-8zM350 688h8v8h-8zM278 696h8v8h-8zM262 704h8v8h-8zM206 768h8v8h-8zM454 768h8v8h-8zM198 784h8v8h-8zM182 816h8v8h-8zM182 856h8v8h-8zM190 864h8v8h-8zM478 872h8v8h-8zM206 888h8v8h-8zM206 896h8v8h-8zM470 912h8v8h-8zM414 976h8v8h-8zM390 984h8v8h-8z"/><path fill="#343434" d="M310 688h40v8h-40zM286 696h8v8h-8zM374 696h8v8h-8zM390 704h8v8h-8zM254 712h8v8h-8zM430 736h8v8h-8zM214 752h8v8h-8zM446 752h8v8h-8zM190 800h8v8h-8zM470 808h8v8h-8zM182 824h8v8h-8zM182 832h8v8h-8zM478 832h8v8h-8zM182 840h8v8h-8zM182 848h8v8h-8zM478 864h8v8h-8zM206 880h8v8h-8zM462 928h8v8h-8zM318 984h8v8h-8z"/><path fill="#353535" d="M366 696h8v8h-8zM270 704h8v8h-8zM246 720h8v8h-8zM238 728h8v8h-8zM438 744h8v8h-8zM206 776h8v8h-8zM198 792h8v8h-8zM462 792h8v8h-8zM190 808h8v8h-8zM478 840h8v8h-8zM478 848h8v8h-8zM478 856h8v8h-8zM198 864h8v8h-8zM214 920h8v8h-8zM294 976h8v8h-8z"/><path fill="#363636" d="M294 696h8v8h-8zM358 696h8v8h-8zM382 704h8v8h-8zM262 712h8v8h-8zM398 712h8v8h-8zM406 720h8v8h-8zM414 728h8v8h-8zM454 776h8v8h-8zM206 784h8v8h-8zM198 800h8v8h-8zM190 816h8v8h-8zM190 824h8v8h-8zM190 848h8v8h-8zM190 856h8v8h-8zM206 872h8v8h-8zM470 904h8v8h-8zM230 936h8v8h-8zM454 936h8v8h-8zM262 952h8v8h-8zM422 968h8v8h-8zM406 976h8v8h-8zM326 984h8v8h-8zM382 984h8v8h-8z"/><path fill="#373737" d="M302 696h8v8h-8zM350 696h8v8h-8zM278 704h8v8h-8zM374 704h8v8h-8zM230 736h8v8h-8zM222 744h8v8h-8zM214 760h8v8h-8zM198 808h8v8h-8zM470 816h8v8h-8zM190 832h8v8h-8zM190 840h8v8h-8zM198 856h8v8h-8zM470 896h8v8h-8zM214 912h8v8h-8zM222 928h8v8h-8zM246 944h8v8h-8zM446 944h8v8h-8zM438 952h8v8h-8zM430 960h8v8h-8zM286 968h8v8h-8zM302 976h8v8h-8zM334 984h16v8h-16z"/><path fill="#383838" d="M310 696h8v8h-8zM342 696h8v8h-8zM286 704h8v8h-8zM366 704h8v8h-8zM270 712h8v8h-8zM390 712h8v8h-8zM254 720h8v8h-8zM446 760h8v8h-8zM206 792h8v8h-8zM462 800h8v8h-8zM198 816h8v8h-8zM198 824h8v8h-8zM198 832h8v8h-8zM198 840h8v8h-8zM198 848h8v8h-8zM470 888h8v8h-8zM214 904h8v8h-8zM350 984h32v8h-32z"/><path fill="#393939" d="M318 696h24v8h-24zM382 712h8v8h-8zM398 720h8v8h-8zM246 728h8v8h-8zM406 728h8v8h-8zM422 736h8v8h-8zM214 768h8v8h-8zM454 784h8v8h-8zM206 800h8v8h-8zM470 824h8v8h-8zM206 864h8v8h-8zM470 880h8v8h-8zM214 896h8v8h-8zM462 920h8v8h-8zM278 960h8v8h-8z"/><path fill="#3a3a3a" d="M294 704h8v8h-8zM358 704h8v8h-8zM278 712h8v8h-8zM262 720h8v8h-8zM206 808h8v8h-8zM462 808h8v8h-8zM214 888h8v8h-8zM414 968h8v8h-8zM310 976h8v8h-8zM398 976h8v8h-8z"/><path fill="#3b3b3b" d="M302 704h8v8h-8zM350 704h8v8h-8zM374 712h8v8h-8zM390 720h8v8h-8zM446 768h8v8h-8zM214 776h8v8h-8zM454 792h8v8h-8zM206 816h8v8h-8zM470 832h8v8h-8zM206 856h8v8h-8zM470 872h8v8h-8zM214 880h8v8h-8z"/><path fill="#3c3c3c" d="M310 704h8v8h-8zM342 704h8v8h-8zM286 712h8v8h-8zM366 712h8v8h-8zM270 720h8v8h-8zM254 728h8v8h-8zM398 728h8v8h-8zM238 736h8v8h-8zM430 744h8v8h-8zM438 752h8v8h-8zM214 784h8v8h-8zM206 824h8v8h-8zM206 832h8v8h-8zM206 840h8v8h-8zM470 840h8v8h-8zM206 848h8v8h-8zM470 864h8v8h-8zM462 912h8v8h-8zM222 920h8v8h-8zM454 928h8v8h-8zM270 952h8v8h-8zM422 960h8v8h-8zM294 968h8v8h-8zM318 976h8v8h-8zM390 976h8v8h-8z"/><path fill="#3d3d3d" d="M318 704h24v8h-24zM358 712h8v8h-8zM382 720h8v8h-8zM414 736h8v8h-8zM222 752h8v8h-8zM446 776h8v8h-8zM462 816h8v8h-8zM470 848h8v8h-8zM470 856h8v8h-8zM214 872h8v8h-8zM446 936h8v8h-8zM438 944h8v8h-8zM430 952h8v8h-8zM326 976h8v8h-8z"/><path fill="#3e3e3e" d="M294 712h8v8h-8zM350 712h8v8h-8zM278 720h8v8h-8zM374 720h8v8h-8zM214 792h8v8h-8zM454 800h8v8h-8zM462 896h8v8h-8zM462 904h8v8h-8zM238 936h8v8h-8zM254 944h8v8h-8zM286 960h8v8h-8zM406 968h8v8h-8zM382 976h8v8h-8z"/><path fill="#3f3f3f" d="M302 712h8v8h-8zM366 720h8v8h-8zM262 728h8v8h-8zM390 728h8v8h-8zM446 784h8v8h-8zM214 800h8v8h-8zM462 824h8v8h-8zM214 864h8v8h-8zM462 880h8v8h-8zM462 888h8v8h-8zM222 912h8v8h-8zM302 968h8v8h-8zM334 976h8v8h-8z"/><path fill="#404040" d="M310 712h16v8h-16zM334 712h16v8h-16zM286 720h8v8h-8zM382 728h8v8h-8zM406 736h8v8h-8zM230 744h8v8h-8zM438 760h8v8h-8zM454 808h8v8h-8zM462 832h8v8h-8zM214 856h8v8h-8zM462 872h8v8h-8zM222 904h8v8h-8zM454 920h8v8h-8zM230 928h8v8h-8zM414 960h8v8h-8zM342 976h16v8h-16zM374 976h8v8h-8z"/><path fill="#414141" d="M326 712h8v8h-8zM294 720h8v8h-8zM358 720h8v8h-8zM270 728h8v8h-8zM246 736h8v8h-8zM222 760h8v8h-8zM446 792h8v8h-8zM214 808h8v8h-8zM454 816h8v8h-8zM462 840h8v8h-8zM222 896h8v8h-8zM398 968h8v8h-8zM358 976h16v8h-16z"/><path fill="#424242" d="M350 720h8v8h-8zM374 728h8v8h-8zM398 736h8v8h-8zM422 744h8v8h-8zM438 768h8v8h-8zM214 816h8v8h-8zM214 824h8v8h-8zM214 840h8v8h-8zM214 848h8v8h-8zM462 848h8v8h-8zM462 864h8v8h-8zM222 888h8v8h-8zM278 952h8v8h-8zM422 952h8v8h-8zM310 968h8v8h-8z"/><path fill="#434343" d="M302 720h8v8h-8zM342 720h8v8h-8zM278 728h8v8h-8zM430 752h8v8h-8zM222 768h8v8h-8zM446 800h8v8h-8zM454 824h8v8h-8zM214 832h8v8h-8zM462 856h8v8h-8zM454 912h8v8h-8zM446 928h8v8h-8zM294 960h8v8h-8z"/><path fill="#444444" d="M310 720h16v8h-16zM334 720h8v8h-8zM286 728h8v8h-8zM366 728h8v8h-8zM222 776h8v8h-8zM438 776h8v8h-8zM454 832h8v8h-8zM222 880h8v8h-8zM454 880h8v8h-8zM454 888h8v8h-8zM438 936h8v8h-8zM262 944h8v8h-8zM430 944h8v8h-8zM406 960h8v8h-8zM318 968h8v8h-8zM390 968h8v8h-8z"/><path fill="#454545" d="M326 720h8v8h-8zM358 728h8v8h-8zM254 736h8v8h-8zM390 736h8v8h-8zM222 784h8v8h-8zM438 784h8v8h-8zM446 808h8v8h-8zM222 872h8v8h-8zM454 872h8v8h-8zM454 896h8v8h-8zM454 904h8v8h-8z"/><path fill="#464646" d="M294 728h8v8h-8zM414 744h8v8h-8zM222 792h8v8h-8zM446 816h8v8h-8zM454 840h8v8h-8zM454 864h8v8h-8zM230 920h8v8h-8zM246 936h8v8h-8zM326 968h8v8h-8zM382 968h8v8h-8z"/><path fill="#474747" d="M302 728h8v8h-8zM350 728h8v8h-8zM262 736h8v8h-8zM382 736h8v8h-8zM438 792h8v8h-8zM446 824h8v8h-8zM454 848h8v8h-8zM454 856h8v8h-8zM222 864h8v8h-8zM446 920h8v8h-8zM286 952h8v8h-8zM414 952h8v8h-8zM302 960h8v8h-8zM334 968h8v8h-8z"/><path fill="#484848" d="M310 728h8v8h-8zM342 728h8v8h-8zM238 744h8v8h-8zM430 760h8v8h-8zM222 800h8v8h-8zM446 832h8v8h-8zM222 856h8v8h-8zM446 880h8v8h-8zM230 912h8v8h-8zM398 960h8v8h-8zM342 968h8v8h-8zM374 968h8v8h-8z"/><path fill="#494949" d="M318 728h24v8h-24zM270 736h8v8h-8zM374 736h8v8h-8zM230 752h8v8h-8zM438 800h8v8h-8zM222 808h8v8h-8zM222 848h8v8h-8zM446 872h8v8h-8zM446 888h8v8h-8zM350 968h24v8h-24z"/><path fill="#4a4a4a" d="M406 744h8v8h-8zM422 752h8v8h-8zM430 768h8v8h-8zM438 808h8v8h-8zM222 816h8v8h-8zM222 840h8v8h-8zM446 840h8v8h-8zM230 904h8v8h-8zM446 912h8v8h-8zM238 928h8v8h-8zM438 928h8v8h-8zM270 944h8v8h-8zM422 944h8v8h-8z"/><path fill="#4b4b4b" d="M278 736h8v8h-8zM366 736h8v8h-8zM430 776h8v8h-8zM222 824h8v8h-8zM222 832h8v8h-8zM446 848h8v8h-8zM446 864h8v8h-8zM230 896h8v8h-8zM446 896h8v8h-8zM430 936h8v8h-8zM406 952h8v8h-8zM310 960h8v8h-8zM390 960h8v8h-8z"/><path fill="#4c4c4c" d="M358 736h8v8h-8zM430 784h8v8h-8zM438 816h8v8h-8zM446 856h8v8h-8zM230 888h8v8h-8zM446 904h8v8h-8zM294 952h8v8h-8z"/><path fill="#4d4d4d" d="M286 736h8v8h-8zM398 744h8v8h-8zM438 824h8v8h-8zM230 880h8v8h-8zM254 936h8v8h-8z"/><path fill="#4e4e4e" d="M294 736h8v8h-8zM350 736h8v8h-8zM246 744h8v8h-8zM230 760h8v8h-8zM430 792h8v8h-8zM438 832h8v8h-8zM438 920h8v8h-8zM318 960h8v8h-8zM382 960h8v8h-8z"/><path fill="#4f4f4f" d="M302 736h8v8h-8zM342 736h8v8h-8zM230 872h8v8h-8zM438 880h8v8h-8zM278 944h8v8h-8zM414 944h8v8h-8zM398 952h8v8h-8z"/><path fill="#505050" d="M310 736h32v8h-32zM390 744h8v8h-8zM414 752h8v8h-8zM422 760h8v8h-8zM230 768h8v8h-8zM230 776h8v8h-8zM430 800h8v8h-8zM438 840h8v8h-8zM230 864h8v8h-8zM438 872h8v8h-8zM438 888h8v8h-8zM238 920h8v8h-8zM326 960h8v8h-8zM374 960h8v8h-8z"/><path fill="#515151" d="M230 784h8v8h-8zM430 808h8v8h-8zM438 864h8v8h-8zM438 912h8v8h-8zM302 952h8v8h-8zM334 960h40v8h-40z"/><path fill="#525252" d="M254 744h8v8h-8zM230 792h8v8h-8zM438 848h8v8h-8zM230 856h8v8h-8zM438 896h8v8h-8zM438 904h8v8h-8zM238 912h8v8h-8zM246 928h8v8h-8zM430 928h8v8h-8zM422 936h8v8h-8z"/><path fill="#535353" d="M382 744h8v8h-8zM422 768h8v8h-8zM230 800h8v8h-8zM430 816h8v8h-8zM230 848h8v8h-8zM438 856h8v8h-8zM262 936h8v8h-8zM286 944h8v8h-8zM390 952h8v8h-8z"/><path fill="#545454" d="M238 752h8v8h-8zM422 776h8v8h-8zM230 808h8v8h-8zM230 816h8v8h-8zM230 840h8v8h-8zM238 904h8v8h-8zM406 944h8v8h-8z"/><path fill="#555555" d="M262 744h8v8h-8zM374 744h8v8h-8zM406 752h8v8h-8zM230 824h8v8h-8zM430 824h8v8h-8zM230 832h8v8h-8zM238 896h8v8h-8zM310 952h8v8h-8z"/><path fill="#565656" d="M366 744h8v8h-8zM422 784h8v8h-8zM238 888h8v8h-8zM430 920h8v8h-8z"/><path fill="#575757" d="M270 744h8v8h-8zM414 760h8v8h-8zM422 792h8v8h-8zM238 880h8v8h-8zM382 952h8v8h-8z"/><path fill="#585858" d="M358 744h8v8h-8zM430 832h8v8h-8zM430 880h8v8h-8zM246 920h8v8h-8zM414 936h8v8h-8zM294 944h8v8h-8zM398 944h8v8h-8z"/><path fill="#595959" d="M278 744h8v8h-8zM350 744h8v8h-8zM422 800h8v8h-8zM238 872h8v8h-8zM430 888h8v8h-8zM430 912h8v8h-8zM254 928h8v8h-8zM422 928h8v8h-8zM270 936h8v8h-8zM318 952h8v8h-8zM374 952h8v8h-8z"/><path fill="#5a5a5a" d="M342 744h8v8h-8zM398 752h8v8h-8zM430 840h8v8h-8zM430 872h8v8h-8zM430 896h8v8h-8zM430 904h8v8h-8z"/><path fill="#5b5b5b" d="M286 744h8v8h-8zM326 744h16v8h-16zM238 760h8v8h-8zM414 768h8v8h-8zM422 808h8v8h-8zM238 864h8v8h-8zM246 912h8v8h-8zM326 952h48v8h-48z"/><path fill="#5c5c5c" d="M294 744h8v8h-8zM310 744h16v8h-16zM246 752h8v8h-8zM430 848h8v8h-8zM238 856h8v8h-8zM430 864h8v8h-8zM302 944h8v8h-8zM390 944h8v8h-8z"/><path fill="#5d5d5d" d="M302 744h8v8h-8zM390 752h8v8h-8zM430 856h8v8h-8zM246 904h8v8h-8zM278 936h8v8h-8zM406 936h8v8h-8z"/><path fill="#5e5e5e" d="M406 760h8v8h-8zM238 768h8v8h-8zM414 776h8v8h-8zM422 816h8v8h-8zM238 848h8v8h-8zM422 920h8v8h-8z"/><path fill="#5f5f5f" d="M238 776h8v8h-8zM238 784h8v8h-8zM238 832h8v8h-8zM238 840h8v8h-8zM246 896h8v8h-8z"/><path fill="#606060" d="M382 752h8v8h-8zM414 784h8v8h-8zM238 792h8v8h-8zM238 800h8v8h-8zM238 808h8v8h-8zM238 816h8v8h-8zM238 824h8v8h-8zM246 888h8v8h-8zM254 920h8v8h-8zM262 928h8v8h-8zM414 928h8v8h-8zM382 944h8v8h-8z"/><path fill="#616161" d="M374 752h8v8h-8zM422 824h8v8h-8zM246 880h8v8h-8zM422 912h8v8h-8zM286 936h8v8h-8zM398 936h8v8h-8zM310 944h8v8h-8z"/><path fill="#626262" d="M254 752h8v8h-8zM406 768h8v8h-8zM414 792h8v8h-8z"/><path fill="#636363" d="M366 752h8v8h-8zM398 760h8v8h-8zM246 872h8v8h-8zM422 904h8v8h-8zM254 912h8v8h-8z"/><path fill="#646464" d="M358 752h8v8h-8zM414 800h8v8h-8zM422 832h8v8h-8zM422 880h8v8h-8zM422 888h8v8h-8zM422 896h8v8h-8zM374 944h8v8h-8z"/><path fill="#656565" d="M350 752h8v8h-8zM406 776h8v8h-8zM246 864h8v8h-8zM254 904h8v8h-8zM270 928h8v8h-8zM406 928h8v8h-8zM294 936h8v8h-8zM318 944h8v8h-8z"/><path fill="#666666" d="M262 752h8v8h-8zM342 752h8v8h-8zM246 760h8v8h-8zM390 760h8v8h-8zM246 856h8v8h-8zM422 872h8v8h-8zM414 920h8v8h-8zM390 936h8v8h-8zM366 944h8v8h-8z"/><path fill="#676767" d="M334 752h8v8h-8zM398 768h8v8h-8zM414 808h8v8h-8zM422 840h8v8h-8zM254 896h8v8h-8zM262 920h8v8h-8zM326 944h8v8h-8zM358 944h8v8h-8z"/><path fill="#686868" d="M406 784h8v8h-8zM246 848h8v8h-8zM334 944h24v8h-24z"/><path fill="#696969" d="M270 752h8v8h-8zM326 752h8v8h-8zM382 760h8v8h-8zM422 848h8v8h-8zM422 864h8v8h-8zM254 888h8v8h-8zM302 936h8v8h-8z"/><path fill="#6a6a6a" d="M318 752h8v8h-8zM398 776h8v8h-8zM246 840h8v8h-8zM422 856h8v8h-8zM262 912h8v8h-8zM414 912h8v8h-8zM278 928h8v8h-8z"/><path fill="#6b6b6b" d="M278 752h8v8h-8zM310 752h8v8h-8zM374 760h8v8h-8zM390 768h8v8h-8zM406 792h8v8h-8zM414 816h8v8h-8zM246 832h8v8h-8zM254 880h8v8h-8zM398 928h8v8h-8zM382 936h8v8h-8z"/><path fill="#6c6c6c" d="M286 752h8v8h-8zM246 768h8v8h-8zM246 824h8v8h-8zM406 920h8v8h-8z"/><path fill="#6d6d6d" d="M294 752h16v8h-16zM366 760h8v8h-8zM246 808h8v8h-8zM246 816h8v8h-8zM254 872h8v8h-8zM262 904h8v8h-8zM414 904h8v8h-8zM270 920h8v8h-8zM310 936h8v8h-8z"/><path fill="#6e6e6e" d="M358 760h8v8h-8zM382 768h8v8h-8zM390 776h8v8h-8zM398 784h8v8h-8zM254 864h8v8h-8zM414 896h8v8h-8zM286 928h8v8h-8z"/><path fill="#6f6f6f" d="M254 760h8v8h-8zM246 776h8v8h-8zM246 800h8v8h-8zM406 800h8v8h-8zM414 824h8v8h-8zM414 888h8v8h-8zM262 896h8v8h-8zM374 936h8v8h-8z"/><path fill="#707070" d="M350 760h8v8h-8zM374 768h8v8h-8zM246 784h8v8h-8zM246 792h8v8h-8zM254 856h8v8h-8zM270 912h8v8h-8zM390 928h8v8h-8z"/><path fill="#717171" d="M342 760h8v8h-8zM382 776h8v8h-8zM414 880h8v8h-8zM318 936h8v8h-8z"/><path fill="#727272" d="M390 784h8v8h-8zM398 792h8v8h-8zM414 832h8v8h-8zM254 848h8v8h-8zM262 888h8v8h-8zM406 912h8v8h-8zM278 920h8v8h-8zM398 920h8v8h-8zM294 928h8v8h-8zM366 936h8v8h-8z"/><path fill="#737373" d="M334 760h8v8h-8zM366 768h8v8h-8zM406 808h8v8h-8zM270 904h8v8h-8z"/><path fill="#747474" d="M326 760h8v8h-8zM254 840h8v8h-8zM414 872h8v8h-8zM262 880h8v8h-8zM358 936h8v8h-8z"/><path fill="#757575" d="M262 760h8v8h-8zM358 768h8v8h-8zM374 776h8v8h-8zM414 840h8v8h-8zM302 928h8v8h-8zM382 928h8v8h-8zM326 936h8v8h-8zM350 936h8v8h-8z"/><path fill="#767676" d="M318 760h8v8h-8zM254 832h8v8h-8zM262 872h8v8h-8zM406 904h8v8h-8zM278 912h8v8h-8zM286 920h8v8h-8zM334 936h16v8h-16z"/><path fill="#777777" d="M350 768h8v8h-8zM382 784h8v8h-8zM262 864h8v8h-8zM414 864h8v8h-8zM270 896h8v8h-8z"/><path fill="#787878" d="M270 760h8v8h-8zM254 768h8v8h-8zM366 776h8v8h-8zM398 800h8v8h-8zM406 816h8v8h-8zM254 824h8v8h-8zM414 848h8v8h-8zM414 856h8v8h-8zM390 920h8v8h-8z"/><path fill="#797979" d="M310 760h8v8h-8zM390 792h8v8h-8zM254 816h8v8h-8zM262 856h8v8h-8zM406 896h8v8h-8zM398 912h8v8h-8zM310 928h8v8h-8z"/><path fill="#7a7a7a" d="M342 768h8v8h-8zM270 888h8v8h-8zM278 904h8v8h-8zM374 928h8v8h-8z"/><path fill="#7b7b7b" d="M278 760h8v8h-8zM302 760h8v8h-8zM358 776h8v8h-8zM254 808h8v8h-8zM406 888h8v8h-8zM294 920h8v8h-8z"/><path fill="#7c7c7c" d="M286 760h16v8h-16zM334 768h8v8h-8zM374 784h8v8h-8zM262 848h8v8h-8zM270 880h8v8h-8zM286 912h8v8h-8z"/><path fill="#7d7d7d" d="M254 800h8v8h-8z"/><path fill="#7e7e7e" d="M326 768h8v8h-8zM254 776h8v8h-8zM406 824h8v8h-8zM262 840h8v8h-8zM270 872h8v8h-8zM406 880h8v8h-8zM278 896h8v8h-8zM382 920h8v8h-8zM318 928h8v8h-8zM366 928h8v8h-8z"/><path fill="#7f7f7f" d="M350 776h8v8h-8zM254 792h8v8h-8zM398 808h8v8h-8zM398 904h8v8h-8zM302 920h8v8h-8z"/><path fill="#808080" d="M262 768h8v8h-8zM318 768h8v8h-8zM254 784h8v8h-8zM262 832h8v8h-8zM270 864h8v8h-8zM286 904h8v8h-8zM390 912h8v8h-8z"/><path fill="#818181" d="M366 784h8v8h-8zM382 792h8v8h-8zM270 856h8v8h-8zM406 872h8v8h-8zM278 888h8v8h-8zM294 912h8v8h-8zM358 928h8v8h-8z"/><path fill="#828282" d="M342 776h8v8h-8zM390 800h8v8h-8zM262 824h8v8h-8zM406 832h8v8h-8zM326 928h8v8h-8z"/><path fill="#838383" d="M310 768h8v8h-8zM398 896h8v8h-8zM310 920h8v8h-8zM374 920h8v8h-8zM350 928h8v8h-8z"/><path fill="#848484" d="M262 816h8v8h-8zM270 848h8v8h-8zM278 880h8v8h-8zM334 928h16v8h-16z"/><path fill="#858585" d="M270 768h8v8h-8zM334 776h8v8h-8zM406 840h8v8h-8zM406 864h8v8h-8zM286 896h8v8h-8z"/><path fill="#868686" d="M302 768h8v8h-8zM358 784h8v8h-8zM262 808h8v8h-8zM270 840h8v8h-8zM278 872h8v8h-8zM382 912h8v8h-8z"/><path fill="#878787" d="M326 776h8v8h-8zM398 816h8v8h-8zM406 848h8v8h-8zM406 856h8v8h-8zM398 888h8v8h-8zM294 904h8v8h-8zM390 904h8v8h-8zM302 912h8v8h-8z"/><path fill="#888888" d="M278 768h24v8h-24zM262 776h8v8h-8zM262 800h8v8h-8zM278 864h8v8h-8zM318 920h8v8h-8zM366 920h8v8h-8z"/><path fill="#898989" d="M270 832h8v8h-8zM286 888h8v8h-8z"/><path fill="#8a8a8a" d="M318 776h8v8h-8zM262 792h8v8h-8zM374 792h8v8h-8zM278 856h8v8h-8z"/><path fill="#8b8b8b" d="M262 784h8v8h-8zM350 784h8v8h-8zM270 824h8v8h-8zM398 880h8v8h-8zM358 920h8v8h-8z"/><path fill="#8c8c8c" d="M390 808h8v8h-8zM278 848h8v8h-8zM310 912h8v8h-8zM374 912h8v8h-8z"/><path fill="#8d8d8d" d="M310 776h8v8h-8zM270 816h8v8h-8zM286 880h8v8h-8zM294 896h8v8h-8zM326 920h8v8h-8z"/><path fill="#8e8e8e" d="M270 776h8v8h-8zM382 800h8v8h-8zM398 824h8v8h-8zM390 896h8v8h-8zM302 904h8v8h-8zM350 920h8v8h-8z"/><path fill="#8f8f8f" d="M302 776h8v8h-8zM342 784h8v8h-8zM270 808h8v8h-8zM278 840h8v8h-8zM286 872h8v8h-8zM382 904h8v8h-8z"/><path fill="#909090" d="M270 800h8v8h-8zM334 920h16v8h-16z"/><path fill="#919191" d="M278 776h8v8h-8zM294 776h8v8h-8zM278 832h8v8h-8zM286 864h8v8h-8zM398 872h8v8h-8zM366 912h8v8h-8z"/><path fill="#929292" d="M286 776h8v8h-8zM270 784h8v8h-8zM270 792h8v8h-8zM366 792h8v8h-8zM294 888h8v8h-8zM318 912h8v8h-8z"/><path fill="#939393" d="M334 784h8v8h-8zM278 824h8v8h-8zM286 856h8v8h-8z"/><path fill="#949494" d="M398 832h8v8h-8zM390 888h8v8h-8z"/><path fill="#959595" d="M326 784h8v8h-8zM278 816h8v8h-8zM286 848h8v8h-8zM302 896h8v8h-8zM310 904h8v8h-8zM358 912h8v8h-8z"/><path fill="#969696" d="M278 784h8v8h-8zM318 784h8v8h-8zM398 864h8v8h-8zM294 880h8v8h-8zM374 904h8v8h-8z"/><path fill="#979797" d="M310 784h8v8h-8zM278 792h8v8h-8zM278 800h8v8h-8zM278 808h8v8h-8zM390 816h8v8h-8zM398 840h8v8h-8zM326 912h8v8h-8z"/><path fill="#989898" d="M286 784h8v8h-8zM302 784h8v8h-8zM286 840h8v8h-8zM398 848h8v8h-8zM398 856h8v8h-8zM382 896h8v8h-8zM350 912h8v8h-8z"/><path fill="#999999" d="M294 784h8v8h-8z"/><path fill="#9a9a9a" d="M358 792h8v8h-8zM286 832h8v8h-8zM294 872h8v8h-8zM334 912h16v8h-16z"/><path fill="#9b9b9b" d="M374 800h8v8h-8zM390 880h8v8h-8z"/><path fill="#9c9c9c" d="M286 792h8v8h-8zM382 808h8v8h-8zM286 824h8v8h-8zM302 888h8v8h-8zM318 904h8v8h-8zM366 904h8v8h-8z"/><path fill="#9d9d9d" d="M294 864h8v8h-8z"/><path fill="#9e9e9e" d="M286 800h8v8h-8zM286 808h8v8h-8zM286 816h8v8h-8z"/><path fill="#9f9f9f" d="M294 792h8v8h-8zM294 856h8v8h-8zM310 896h8v8h-8z"/><path fill="#a1a1a1" d="M302 792h8v8h-8zM350 792h8v8h-8zM390 824h8v8h-8zM382 888h8v8h-8zM374 896h8v8h-8zM358 904h8v8h-8z"/><path fill="#a2a2a2" d="M294 848h8v8h-8zM390 872h8v8h-8z"/><path fill="#a3a3a3" d="M310 792h8v8h-8zM294 800h8v8h-8zM302 880h8v8h-8zM326 904h8v8h-8z"/><path fill="#a4a4a4" d="M294 840h8v8h-8zM350 904h8v8h-8z"/><path fill="#a5a5a5" d="M294 832h8v8h-8z"/><path fill="#a6a6a6" d="M318 792h8v8h-8zM342 792h8v8h-8zM294 808h8v8h-8zM294 816h8v8h-8zM294 824h8v8h-8zM334 904h16v8h-16z"/><path fill="#a7a7a7" d="M390 832h8v8h-8z"/><path fill="#a8a8a8" d="M326 792h16v8h-16zM302 800h8v8h-8zM366 800h8v8h-8zM302 872h8v8h-8z"/><path fill="#a9a9a9" d="M382 816h8v8h-8zM390 864h8v8h-8zM310 888h8v8h-8zM318 896h8v8h-8z"/><path fill="#aaaaaa" d="M366 896h8v8h-8z"/><path fill="#ababab" d="M390 840h8v8h-8zM382 880h8v8h-8z"/><path fill="#acacac" d="M374 808h8v8h-8zM390 848h8v8h-8zM390 856h8v8h-8zM302 864h8v8h-8z"/><path fill="#aeaeae" d="M302 808h8v8h-8zM374 888h8v8h-8z"/><path fill="#afafaf" d="M310 800h8v8h-8z"/><path fill="#b0b0b0" d="M302 856h8v8h-8zM358 896h8v8h-8z"/><path fill="#b1b1b1" d="M302 816h8v8h-8z"/><path fill="#b2b2b2" d="M302 848h8v8h-8zM326 896h8v8h-8z"/><path fill="#b3b3b3" d="M358 800h8v8h-8zM302 824h8v8h-8zM310 880h8v8h-8z"/><path fill="#b4b4b4" d="M302 832h8v8h-8zM302 840h8v8h-8zM350 896h8v8h-8z"/><path fill="#b5b5b5" d="M382 824h8v8h-8zM382 872h8v8h-8z"/><path fill="#b6b6b6" d="M334 896h16v8h-16z"/><path fill="#b7b7b7" d="M318 800h8v8h-8zM318 888h8v8h-8z"/><path fill="#b9b9b9" d="M310 808h8v8h-8z"/><path fill="#bababa" d="M366 888h8v8h-8z"/><path fill="#bbbbbb" d="M310 872h8v8h-8zM374 880h8v8h-8z"/><path fill="#bcbcbc" d="M350 800h8v8h-8zM366 808h8v8h-8zM374 816h8v8h-8zM382 832h8v8h-8z"/><path fill="#bdbdbd" d="M382 864h8v8h-8z"/><path fill="#bebebe" d="M326 800h8v8h-8z"/><path fill="#c0c0c0" d="M310 816h8v8h-8zM382 840h8v8h-8z"/><path fill="#c1c1c1" d="M334 800h16v8h-16zM310 864h8v8h-8z"/><path fill="#c2c2c2" d="M382 848h8v8h-8zM382 856h8v8h-8zM326 888h8v8h-8zM358 888h8v8h-8z"/><path fill="#c4c4c4" d="M310 824h8v8h-8zM318 880h8v8h-8z"/><path fill="#c5c5c5" d="M318 808h8v8h-8zM310 856h8v8h-8z"/><path fill="#c6c6c6" d="M310 848h8v8h-8z"/><path fill="#c7c7c7" d="M310 832h8v8h-8zM310 840h8v8h-8zM374 872h8v8h-8zM350 888h8v8h-8z"/><path fill="#c8c8c8" d="M334 888h8v8h-8z"/><path fill="#c9c9c9" d="M358 808h8v8h-8zM374 824h8v8h-8zM366 880h8v8h-8zM342 888h8v8h-8z"/><path fill="#cecece" d="M318 816h8v8h-8zM366 816h8v8h-8zM318 872h8v8h-8z"/><path fill="#cfcfcf" d="M326 808h8v8h-8z"/><path fill="#d1d1d1" d="M374 832h8v8h-8zM374 864h8v8h-8zM326 880h8v8h-8z"/><path fill="#d3d3d3" d="M350 808h8v8h-8zM358 880h8v8h-8z"/><path fill="#d5d5d5" d="M334 808h8v8h-8zM318 824h8v8h-8zM374 840h8v8h-8zM318 864h8v8h-8z"/><path fill="#d7d7d7" d="M342 808h8v8h-8zM374 848h8v8h-8zM374 856h8v8h-8zM366 872h8v8h-8z"/><path fill="#d8d8d8" d="M318 832h8v8h-8zM334 880h8v8h-8z"/><path fill="#d9d9d9" d="M318 856h8v8h-8zM350 880h8v8h-8z"/><path fill="#dadada" d="M326 816h8v8h-8zM318 840h8v8h-8zM318 848h8v8h-8zM342 880h8v8h-8z"/><path fill="#dbdbdb" d="M358 816h8v8h-8zM366 824h8v8h-8z"/><path fill="#dcdcdc" d="M326 872h8v8h-8z"/><path fill="#e2e2e2" d="M334 816h8v8h-8zM326 824h8v8h-8zM366 864h8v8h-8zM358 872h8v8h-8z"/><path fill="#e3e3e3" d="M350 816h8v8h-8z"/><path fill="#e4e4e4" d="M366 832h8v8h-8z"/><path fill="#e5e5e5" d="M326 864h8v8h-8zM334 872h8v8h-8z"/><path fill="#e6e6e6" d="M342 816h8v8h-8zM326 832h8v8h-8z"/><path fill="#e8e8e8" d="M358 824h8v8h-8zM366 840h8v8h-8zM350 872h8v8h-8z"/><path fill="#e9e9e9" d="M326 840h8v8h-8zM366 848h8v8h-8zM326 856h8v8h-8zM366 856h8v8h-8zM342 872h8v8h-8z"/><path fill="#eaeaea" d="M326 848h8v8h-8z"/><path fill="#ebebeb" d="M334 824h8v8h-8z"/><path fill="#eeeeee" d="M358 864h8v8h-8z"/><path fill="#efefef" d="M350 824h8v8h-8zM334 864h8v8h-8z"/><path fill="#f0f0f0" d="M342 824h8v8h-8zM334 832h8v8h-8zM358 832h8v8h-8z"/><path fill="#f3f3f3" d="M334 840h8v8h-8z"/><path fill="#f4f4f4" d="M358 840h8v8h-8zM334 856h8v8h-8zM358 856h8v8h-8zM342 864h16v8h-16z"/><path fill="#f5f5f5" d="M334 848h8v8h-8zM358 848h8v8h-8z"/><path fill="#f6f6f6" d="M342 832h16v8h-16z"/><path fill="#f9f9f9" d="M342 840h8v8h-8z"/><path fill="#fafafa" d="M350 840h8v8h-8zM342 856h16v8h-16z"/><path fill="#fbfbfb" d="M342 848h16v8h-16z"/></g>
</g>
<g clip-path="url(#clB1)">
<g filter="url(#flte)"><path fill="#393939" d="M1136 600h16v8h-16zM1144 608h8v8h-8z"/><path fill="#3a3a3a" d="M1136 608h8v8h-8zM1144 616h8v8h-8z"/><path fill="#3b3b3b" d="M1128 600h8v8h-8zM1128 608h8v8h-8zM1136 616h8v8h-8z"/><path fill="#3c3c3c" d="M1128 616h8v8h-8z"/><path fill="#3d3d3d" d="M1120 600h8v8h-8zM1120 608h8v8h-8zM1136 624h16v8h-16z"/><path fill="#3e3e3e" d="M1128 624h8v8h-8z"/><path fill="#3f3f3f" d="M1120 616h8v8h-8zM1136 632h16v8h-16z"/><path fill="#404040" d="M1112 600h8v8h-8zM1112 608h8v8h-8z"/><path fill="#414141" d="M1112 616h8v8h-8zM1120 624h8v8h-8zM1128 632h8v8h-8zM1144 640h8v8h-8z"/><path fill="#424242" d="M1136 640h8v8h-8z"/><path fill="#434343" d="M1104 600h8v8h-8zM1104 608h8v8h-8zM1112 624h8v8h-8zM1120 632h8v8h-8zM1128 640h8v8h-8zM1144 648h8v8h-8z"/><path fill="#444444" d="M1104 616h8v8h-8zM1136 648h8v8h-8z"/><path fill="#454545" d="M1096 600h8v8h-8zM1120 640h8v8h-8zM1128 648h8v8h-8zM1144 656h8v8h-8zM680 920h8v8h-8zM680 928h8v8h-8zM680 936h16v8h-16zM680 944h16v8h-16zM680 952h16v8h-16zM680 960h16v8h-16zM680 968h16v8h-16zM680 976h16v8h-16zM680 984h16v8h-16zM680 992h16v8h-16zM680 1000h8v8h-8z"/><path fill="#464646" d="M1096 608h8v8h-8zM1104 624h8v8h-8zM1112 632h8v8h-8zM1136 656h8v8h-8zM680 904h8v8h-8zM680 912h16v8h-16zM688 920h8v8h-8zM688 928h8v8h-8zM688 1000h8v8h-8zM680 1008h8v8h-8zM1144 1064h8v8h-8z"/><path fill="#474747" d="M680 600h8v8h-8zM680 608h8v8h-8zM1096 616h8v8h-8zM1120 648h8v8h-8zM1128 656h8v8h-8zM1144 664h8v8h-8zM680 888h8v8h-8zM680 896h16v8h-16zM688 904h8v8h-8zM696 928h8v8h-8zM696 936h8v8h-8zM696 944h8v8h-8zM696 952h8v8h-8zM696 960h8v8h-8zM696 968h8v8h-8zM696 976h8v8h-8zM696 984h8v8h-8zM696 992h8v8h-8zM688 1008h8v8h-8zM680 1016h16v8h-16zM680 1024h8v8h-8zM680 1032h8v8h-8zM680 1040h8v8h-8zM680 1048h8v8h-8zM1144 1048h8v8h-8zM680 1056h8v8h-8zM1136 1056h16v8h-16zM680 1064h8v8h-8zM1136 1064h8v8h-8z"/><path fill="#484848" d="M688 600h24v8h-24zM1088 600h8v8h-8zM688 608h24v8h-24zM1088 608h8v8h-8zM680 616h24v8h-24zM680 624h24v8h-24zM1104 632h8v8h-8zM1112 640h8v8h-8zM1136 664h8v8h-8zM688 888h8v8h-8zM696 912h8v8h-8zM696 920h8v8h-8zM696 1000h8v8h-8zM696 1008h8v8h-8zM688 1024h8v8h-8zM688 1032h8v8h-8zM688 1040h8v8h-8zM688 1048h8v8h-8zM1136 1048h8v8h-8zM688 1056h8v8h-8zM688 1064h8v8h-8z"/><path fill="#494949" d="M712 600h8v8h-8zM712 608h8v8h-8zM704 616h16v8h-16zM1088 616h8v8h-8zM704 624h8v8h-8zM1096 624h8v8h-8zM680 632h24v8h-24zM680 640h8v8h-8zM1120 656h8v8h-8zM1128 664h8v8h-8zM1136 672h16v8h-16zM680 880h16v8h-16zM696 896h8v8h-8zM696 904h8v8h-8zM696 1016h8v8h-8zM696 1024h8v8h-8zM696 1032h8v8h-8zM696 1040h8v8h-8zM1144 1040h8v8h-8zM696 1048h8v8h-8zM696 1056h8v8h-8zM696 1064h8v8h-8z"/><path fill="#4a4a4a" d="M720 600h16v8h-16zM720 608h16v8h-16zM720 616h16v8h-16zM712 624h16v8h-16zM704 632h16v8h-16zM688 640h16v8h-16zM1104 640h8v8h-8zM680 648h16v8h-16zM1112 648h8v8h-8zM680 872h8v8h-8zM696 888h8v8h-8zM704 936h8v8h-8zM704 944h8v8h-8zM704 952h8v8h-8zM704 960h8v8h-8zM704 968h8v8h-8zM704 976h8v8h-8zM704 984h8v8h-8zM704 992h8v8h-8zM1136 1040h8v8h-8zM1128 1056h8v8h-8zM1128 1064h8v8h-8z"/><path fill="#4b4b4b" d="M736 600h16v8h-16zM1080 600h8v8h-8zM736 608h16v8h-16zM1080 608h8v8h-8zM736 616h8v8h-8zM728 624h8v8h-8zM1088 624h8v8h-8zM720 632h8v8h-8zM1096 632h8v8h-8zM704 640h8v8h-8zM696 648h8v8h-8zM680 656h16v8h-16zM1120 664h8v8h-8zM1128 672h8v8h-8zM1136 680h16v8h-16zM688 872h8v8h-8zM696 880h8v8h-8zM704 912h8v8h-8zM704 920h8v8h-8zM704 928h8v8h-8zM704 1000h8v8h-8zM704 1008h8v8h-8zM1144 1032h8v8h-8zM1128 1048h8v8h-8z"/><path fill="#4c4c4c" d="M752 600h16v8h-16zM752 608h16v8h-16zM744 616h16v8h-16zM1080 616h8v8h-8zM736 624h16v8h-16zM728 632h8v8h-8zM712 640h8v8h-8zM704 648h8v8h-8zM1104 648h8v8h-8zM696 656h8v8h-8zM1112 656h8v8h-8zM680 664h16v8h-16zM1128 680h8v8h-8zM1136 688h16v8h-16zM704 904h8v8h-8zM704 1016h8v8h-8zM704 1024h8v8h-8zM704 1032h8v8h-8zM1136 1032h8v8h-8zM704 1040h8v8h-8zM704 1048h8v8h-8zM704 1056h8v8h-8zM704 1064h8v8h-8z"/><path fill="#4d4d4d" d="M768 600h16v8h-16zM1072 600h8v8h-8zM768 608h16v8h-16zM1072 608h8v8h-8zM760 616h8v8h-8zM752 624h8v8h-8zM1080 624h8v8h-8zM736 632h8v8h-8zM1088 632h8v8h-8zM720 640h16v8h-16zM1096 640h8v8h-8zM712 648h8v8h-8zM704 656h8v8h-8zM696 664h8v8h-8zM680 672h8v8h-8zM1120 672h8v8h-8zM680 864h16v8h-16zM696 872h8v8h-8zM704 888h8v8h-8zM704 896h8v8h-8zM1128 1040h8v8h-8z"/><path fill="#4e4e4e" d="M784 600h24v8h-24zM784 608h16v8h-16zM768 616h16v8h-16zM1072 616h8v8h-8zM760 624h8v8h-8zM744 632h8v8h-8zM720 648h8v8h-8zM1104 656h8v8h-8zM1112 664h8v8h-8zM688 672h8v8h-8zM1128 688h8v8h-8zM1136 696h16v8h-16zM712 920h8v8h-8zM712 928h8v8h-8zM712 936h8v8h-8zM712 944h8v8h-8zM712 952h8v8h-8zM712 960h8v8h-8zM712 968h8v8h-8zM712 976h8v8h-8zM712 984h8v8h-8zM712 992h8v8h-8zM712 1000h8v8h-8zM712 1008h8v8h-8zM1144 1024h8v8h-8z"/><path fill="#4f4f4f" d="M808 600h16v8h-16zM800 608h16v8h-16zM784 616h16v8h-16zM768 624h8v8h-8zM752 632h8v8h-8zM1080 632h8v8h-8zM736 640h8v8h-8zM1088 640h8v8h-8zM728 648h8v8h-8zM1096 648h8v8h-8zM712 656h8v8h-8zM704 664h8v8h-8zM696 672h8v8h-8zM680 680h16v8h-16zM1120 680h8v8h-8zM680 856h8v8h-8zM696 864h8v8h-8zM704 880h8v8h-8zM712 912h8v8h-8zM712 1016h8v8h-8zM712 1024h8v8h-8zM1136 1024h8v8h-8zM712 1032h8v8h-8zM1128 1032h8v8h-8zM712 1040h8v8h-8zM712 1048h8v8h-8zM712 1056h8v8h-8zM712 1064h8v8h-8z"/><path fill="#505050" d="M824 600h24v8h-24zM1064 600h8v8h-8zM816 608h24v8h-24zM1064 608h8v8h-8zM800 616h16v8h-16zM1064 616h8v8h-8zM776 624h8v8h-8zM1072 624h8v8h-8zM760 632h8v8h-8zM744 640h8v8h-8zM736 648h8v8h-8zM720 656h8v8h-8zM712 664h8v8h-8zM1104 664h8v8h-8zM1112 672h8v8h-8zM1120 688h8v8h-8zM1128 696h8v8h-8zM1144 704h8v8h-8zM688 856h8v8h-8zM704 872h8v8h-8zM712 896h8v8h-8zM712 904h8v8h-8zM1144 1016h8v8h-8zM1120 1056h8v8h-8zM1120 1064h8v8h-8z"/><path fill="#515151" d="M848 600h16v8h-16zM840 608h16v8h-16zM816 616h16v8h-16zM784 624h16v8h-16zM768 632h8v8h-8zM1072 632h8v8h-8zM752 640h8v8h-8zM1080 640h8v8h-8zM1088 648h8v8h-8zM728 656h8v8h-8zM1096 656h8v8h-8zM704 672h8v8h-8zM696 680h8v8h-8zM680 688h16v8h-16zM1136 704h8v8h-8zM680 848h8v8h-8zM696 856h8v8h-8zM712 888h8v8h-8zM720 936h8v8h-8zM720 944h8v8h-8zM720 952h8v8h-8zM720 960h8v8h-8zM720 968h8v8h-8zM720 976h8v8h-8zM720 984h8v8h-8zM720 992h8v8h-8zM720 1000h8v8h-8zM720 1008h8v8h-8zM1136 1016h8v8h-8zM1120 1048h8v8h-8z"/><path fill="#525252" d="M864 600h8v8h-8zM1056 600h8v8h-8zM856 608h16v8h-16zM1056 608h8v8h-8zM832 616h16v8h-16zM800 624h16v8h-16zM1064 624h8v8h-8zM776 632h8v8h-8zM760 640h8v8h-8zM744 648h8v8h-8zM720 664h8v8h-8zM1104 672h8v8h-8zM1112 680h8v8h-8zM680 696h16v8h-16zM1128 704h8v8h-8zM1144 712h8v8h-8zM688 848h8v8h-8zM704 864h8v8h-8zM712 880h8v8h-8zM720 920h8v8h-8zM720 928h8v8h-8zM1144 1008h8v8h-8zM720 1016h8v8h-8zM720 1024h8v8h-8zM1128 1024h8v8h-8zM720 1032h8v8h-8zM720 1040h8v8h-8zM1120 1040h8v8h-8zM720 1048h8v8h-8zM720 1056h8v8h-8zM720 1064h8v8h-8z"/><path fill="#535353" d="M872 600h8v8h-8zM872 608h8v8h-8zM848 616h16v8h-16zM1056 616h8v8h-8zM816 624h16v8h-16zM784 632h8v8h-8zM1064 632h8v8h-8zM1072 640h8v8h-8zM752 648h8v8h-8zM1080 648h8v8h-8zM736 656h8v8h-8zM1088 656h8v8h-8zM1096 664h8v8h-8zM712 672h8v8h-8zM704 680h8v8h-8zM696 688h8v8h-8zM1112 688h8v8h-8zM1120 696h8v8h-8zM680 704h16v8h-16zM1136 712h8v8h-8zM680 840h8v8h-8zM720 904h8v8h-8zM720 912h8v8h-8zM1136 1008h8v8h-8z"/><path fill="#545454" d="M880 600h8v8h-8zM880 608h8v8h-8zM864 616h16v8h-16zM832 624h8v8h-8zM1056 624h8v8h-8zM792 632h8v8h-8zM768 640h8v8h-8zM744 656h8v8h-8zM728 664h8v8h-8zM1104 680h8v8h-8zM696 696h8v8h-8zM680 712h16v8h-16zM1128 712h8v8h-8zM680 720h16v8h-16zM1144 720h8v8h-8zM680 728h8v8h-8zM680 736h8v8h-8zM680 744h8v8h-8zM680 752h8v8h-8zM680 760h8v8h-8zM680 768h8v8h-8zM680 776h8v8h-8zM680 784h8v8h-8zM680 792h8v8h-8zM680 800h8v8h-8zM680 808h8v8h-8zM680 816h8v8h-8zM680 824h8v8h-8zM680 832h16v8h-16zM688 840h8v8h-8zM696 848h8v8h-8zM712 872h8v8h-8zM720 896h8v8h-8zM728 944h8v8h-8zM728 952h8v8h-8zM728 960h8v8h-8zM728 968h8v8h-8zM728 976h8v8h-8zM728 984h8v8h-8zM728 992h8v8h-8zM1144 1000h8v8h-8zM1128 1016h8v8h-8z"/><path fill="#555555" d="M888 600h16v8h-16zM1048 600h8v8h-8zM888 608h8v8h-8zM1048 608h8v8h-8zM880 616h8v8h-8zM840 624h24v8h-24zM800 632h16v8h-16zM776 640h8v8h-8zM1064 640h8v8h-8zM760 648h8v8h-8zM1072 648h8v8h-8zM1080 656h8v8h-8zM736 664h8v8h-8zM1088 664h8v8h-8zM720 672h8v8h-8zM1096 672h8v8h-8zM696 704h8v8h-8zM1120 704h8v8h-8zM1136 720h8v8h-8zM688 728h8v8h-8zM688 736h8v8h-8zM688 744h8v8h-8zM688 752h8v8h-8zM688 760h8v8h-8zM688 768h8v8h-8zM688 776h8v8h-8zM688 784h8v8h-8zM688 792h8v8h-8zM688 800h8v8h-8zM688 808h8v8h-8zM688 816h8v8h-8zM688 824h8v8h-8zM696 840h8v8h-8zM704 856h8v8h-8zM720 888h8v8h-8zM728 920h8v8h-8zM728 928h8v8h-8zM728 936h8v8h-8zM728 1000h8v8h-8zM1136 1000h8v8h-8zM728 1008h8v8h-8zM728 1016h8v8h-8zM728 1024h8v8h-8zM728 1032h8v8h-8zM1120 1032h8v8h-8zM728 1040h8v8h-8zM728 1048h8v8h-8zM728 1056h8v8h-8zM728 1064h8v8h-8zM1112 1064h8v8h-8z"/><path fill="#565656" d="M904 600h8v8h-8zM896 608h8v8h-8zM888 616h8v8h-8zM1048 616h8v8h-8zM864 624h16v8h-16zM816 632h16v8h-16zM1056 632h8v8h-8zM784 640h8v8h-8zM768 648h8v8h-8zM752 656h8v8h-8zM712 680h8v8h-8zM704 688h8v8h-8zM1104 688h8v8h-8zM1112 696h8v8h-8zM696 712h8v8h-8zM696 720h8v8h-8zM1128 720h8v8h-8zM696 728h8v8h-8zM1136 728h16v8h-16zM696 736h8v8h-8zM1144 736h8v8h-8zM696 744h8v8h-8zM696 752h8v8h-8zM696 760h8v8h-8zM696 768h8v8h-8zM696 776h8v8h-8zM696 784h8v8h-8zM696 792h8v8h-8zM696 800h8v8h-8zM696 808h8v8h-8zM696 816h8v8h-8zM696 824h8v8h-8zM696 832h8v8h-8zM712 864h8v8h-8zM720 880h8v8h-8zM728 912h8v8h-8zM1128 1008h8v8h-8zM1112 1056h8v8h-8z"/><path fill="#575757" d="M912 600h8v8h-8zM1040 600h8v8h-8zM904 608h8v8h-8zM1040 608h8v8h-8zM896 616h16v8h-16zM880 624h8v8h-8zM1048 624h8v8h-8zM832 632h16v8h-16zM792 640h16v8h-16zM1056 640h8v8h-8zM1064 648h8v8h-8zM1072 656h8v8h-8zM744 664h8v8h-8zM1080 664h8v8h-8zM728 672h8v8h-8zM1088 672h8v8h-8zM1096 680h8v8h-8zM704 696h8v8h-8zM1120 712h8v8h-8zM1136 736h8v8h-8zM1144 744h8v8h-8zM704 848h8v8h-8zM728 904h8v8h-8zM1136 992h16v8h-16zM1120 1024h8v8h-8zM1112 1048h8v8h-8z"/><path fill="#585858" d="M920 600h8v8h-8zM912 608h16v8h-16zM912 616h8v8h-8zM1040 616h8v8h-8zM888 624h16v8h-16zM848 632h16v8h-16zM1048 632h8v8h-8zM808 640h8v8h-8zM776 648h8v8h-8zM760 656h8v8h-8zM1104 696h8v8h-8zM704 704h8v8h-8zM1112 704h8v8h-8zM704 712h8v8h-8zM704 720h8v8h-8zM1128 728h8v8h-8zM1136 744h8v8h-8zM1136 752h16v8h-16zM704 840h8v8h-8zM712 856h8v8h-8zM720 872h8v8h-8zM728 896h8v8h-8zM736 928h8v8h-8zM736 936h8v8h-8zM736 944h8v8h-8zM736 952h8v8h-8zM736 960h8v8h-8zM736 968h8v8h-8zM736 976h8v8h-8zM736 984h8v8h-8zM736 992h8v8h-8zM736 1000h8v8h-8zM1128 1000h8v8h-8zM736 1008h8v8h-8zM736 1016h8v8h-8zM736 1024h8v8h-8zM736 1032h8v8h-8zM736 1040h8v8h-8zM1112 1040h8v8h-8zM736 1048h8v8h-8zM736 1056h8v8h-8zM736 1064h8v8h-8z"/><path fill="#595959" d="M928 600h8v8h-8zM928 608h8v8h-8zM920 616h8v8h-8zM904 624h8v8h-8zM1040 624h8v8h-8zM864 632h24v8h-24zM816 640h16v8h-16zM784 648h8v8h-8zM1056 648h8v8h-8zM768 656h8v8h-8zM1064 656h8v8h-8zM752 664h8v8h-8zM1072 664h8v8h-8zM736 672h8v8h-8zM1080 672h8v8h-8zM720 680h8v8h-8zM1088 680h8v8h-8zM712 688h8v8h-8zM1096 688h8v8h-8zM1120 720h8v8h-8zM704 728h8v8h-8zM704 736h8v8h-8zM1128 736h8v8h-8zM704 744h8v8h-8zM1128 744h8v8h-8zM704 752h8v8h-8zM704 760h8v8h-8zM1136 760h16v8h-16zM704 768h8v8h-8zM1144 768h8v8h-8zM704 776h8v8h-8zM704 784h8v8h-8zM704 792h8v8h-8zM704 800h8v8h-8zM704 808h8v8h-8zM704 816h8v8h-8zM704 824h8v8h-8zM704 832h8v8h-8zM728 888h8v8h-8zM736 920h8v8h-8zM1136 984h16v8h-16zM1120 1016h8v8h-8z"/><path fill="#5a5a5a" d="M936 600h8v8h-8zM1032 600h8v8h-8zM936 608h8v8h-8zM1032 608h8v8h-8zM928 616h16v8h-16zM1032 616h8v8h-8zM912 624h16v8h-16zM888 632h16v8h-16zM1040 632h8v8h-8zM832 640h16v8h-16zM1048 640h8v8h-8zM792 648h16v8h-16zM712 696h8v8h-8zM1112 712h8v8h-8zM1136 768h8v8h-8zM712 848h8v8h-8zM720 864h8v8h-8zM728 880h8v8h-8zM736 904h8v8h-8zM736 912h8v8h-8zM1128 992h8v8h-8zM1112 1032h8v8h-8z"/><path fill="#5b5b5b" d="M944 600h16v8h-16zM944 608h16v8h-16zM944 616h8v8h-8zM928 624h16v8h-16zM1032 624h8v8h-8zM904 632h16v8h-16zM848 640h24v8h-24zM808 648h8v8h-8zM1048 648h8v8h-8zM776 656h8v8h-8zM1056 656h8v8h-8zM760 664h8v8h-8zM1064 664h8v8h-8zM744 672h8v8h-8zM1072 672h8v8h-8zM728 680h8v8h-8zM1080 680h8v8h-8zM1088 688h8v8h-8zM1096 696h8v8h-8zM712 704h8v8h-8zM1104 704h8v8h-8zM712 712h8v8h-8zM712 720h8v8h-8zM1120 728h8v8h-8zM1128 752h8v8h-8zM1144 776h8v8h-8zM712 840h8v8h-8zM736 896h8v8h-8zM744 928h8v8h-8zM744 936h8v8h-8zM744 944h8v8h-8zM744 952h8v8h-8zM744 960h8v8h-8zM744 968h8v8h-8zM744 976h8v8h-8zM1136 976h16v8h-16zM744 984h8v8h-8zM744 992h8v8h-8zM744 1000h8v8h-8zM744 1008h8v8h-8zM744 1016h8v8h-8zM744 1024h8v8h-8zM744 1032h8v8h-8zM744 1040h8v8h-8zM744 1048h8v8h-8zM744 1056h8v8h-8zM1104 1056h8v8h-8zM744 1064h8v8h-8zM1104 1064h8v8h-8z"/><path fill="#5c5c5c" d="M960 600h8v8h-8zM1024 600h8v8h-8zM960 608h8v8h-8zM1024 608h8v8h-8zM952 616h16v8h-16zM1024 616h8v8h-8zM944 624h16v8h-16zM920 632h16v8h-16zM1032 632h8v8h-8zM872 640h24v8h-24zM1040 640h8v8h-8zM816 648h16v8h-16zM784 656h8v8h-8zM768 664h8v8h-8zM720 688h8v8h-8zM712 728h8v8h-8zM712 736h8v8h-8zM1120 736h8v8h-8zM1128 760h8v8h-8zM712 792h8v8h-8zM712 800h8v8h-8zM712 808h8v8h-8zM712 816h8v8h-8zM712 824h8v8h-8zM712 832h8v8h-8zM720 856h8v8h-8zM728 872h8v8h-8zM736 888h8v8h-8zM744 920h8v8h-8zM1144 968h8v8h-8zM1128 984h8v8h-8zM1120 1008h8v8h-8zM1104 1048h8v8h-8z"/><path fill="#5d5d5d" d="M968 600h16v8h-16zM1016 600h8v8h-8zM968 608h16v8h-16zM1016 608h8v8h-8zM968 616h8v8h-8zM1016 616h8v8h-8zM960 624h8v8h-8zM1024 624h8v8h-8zM936 632h16v8h-16zM896 640h24v8h-24zM832 648h8v8h-8zM1040 648h8v8h-8zM792 656h8v8h-8zM1048 656h8v8h-8zM1056 664h8v8h-8zM752 672h8v8h-8zM1064 672h8v8h-8zM736 680h8v8h-8zM1072 680h8v8h-8zM1080 688h8v8h-8zM1112 720h8v8h-8zM712 744h8v8h-8zM1120 744h8v8h-8zM712 752h8v8h-8zM712 760h8v8h-8zM712 768h8v8h-8zM712 776h8v8h-8zM1136 776h8v8h-8zM712 784h8v8h-8zM728 864h8v8h-8zM744 912h8v8h-8zM1136 968h8v8h-8zM1112 1024h8v8h-8z"/><path fill="#5e5e5e" d="M984 600h32v8h-32zM984 608h32v8h-32zM976 616h24v8h-24zM1008 616h8v8h-8zM968 624h16v8h-16zM1016 624h8v8h-8zM952 632h16v8h-16zM1024 632h8v8h-8zM920 640h24v8h-24zM1032 640h8v8h-8zM840 648h32v8h-32zM800 656h16v8h-16zM776 664h8v8h-8zM760 672h8v8h-8zM720 696h8v8h-8zM1088 696h8v8h-8zM720 704h8v8h-8zM1096 704h8v8h-8zM720 712h8v8h-8zM1104 712h8v8h-8zM720 720h8v8h-8zM1112 728h8v8h-8zM720 848h8v8h-8zM736 880h8v8h-8zM744 904h8v8h-8zM752 936h8v8h-8zM752 944h8v8h-8zM752 952h8v8h-8zM752 960h8v8h-8zM1144 960h8v8h-8zM752 968h8v8h-8zM752 976h8v8h-8zM1128 976h8v8h-8zM752 984h8v8h-8zM752 992h8v8h-8zM752 1000h8v8h-8zM1120 1000h8v8h-8zM752 1008h8v8h-8zM752 1016h8v8h-8zM752 1024h8v8h-8zM752 1032h8v8h-8zM752 1040h8v8h-8zM1104 1040h8v8h-8zM752 1048h8v8h-8zM752 1056h8v8h-8zM752 1064h8v8h-8z"/><path fill="#5f5f5f" d="M1000 616h8v8h-8zM984 624h32v8h-32zM968 632h16v8h-16zM1016 632h8v8h-8zM944 640h16v8h-16zM1024 640h8v8h-8zM872 648h32v8h-32zM1032 648h8v8h-8zM816 656h8v8h-8zM1040 656h8v8h-8zM784 664h8v8h-8zM1048 664h8v8h-8zM1056 672h8v8h-8zM744 680h8v8h-8zM1064 680h8v8h-8zM728 688h8v8h-8zM720 728h8v8h-8zM1128 768h8v8h-8zM1144 784h8v8h-8zM720 840h8v8h-8zM728 856h8v8h-8zM736 872h8v8h-8zM744 896h8v8h-8zM752 920h8v8h-8zM752 928h8v8h-8zM1136 960h8v8h-8zM1128 968h8v8h-8zM1120 992h8v8h-8zM1112 1016h8v8h-8z"/><path fill="#606060" d="M984 632h32v8h-32zM960 640h24v8h-24zM1016 640h8v8h-8zM904 648h40v8h-40zM824 656h16v8h-16zM792 664h8v8h-8zM768 672h8v8h-8zM1072 688h8v8h-8zM1080 696h8v8h-8zM1104 720h8v8h-8zM720 736h8v8h-8zM1112 736h8v8h-8zM1120 752h8v8h-8zM720 776h8v8h-8zM720 784h8v8h-8zM720 792h8v8h-8zM720 800h8v8h-8zM720 808h8v8h-8zM720 816h8v8h-8zM720 824h8v8h-8zM720 832h8v8h-8zM744 888h8v8h-8zM752 912h8v8h-8zM1136 952h16v8h-16zM1104 1032h8v8h-8zM1096 1056h8v8h-8zM1096 1064h8v8h-8z"/><path fill="#616161" d="M984 640h32v8h-32zM944 648h24v8h-24zM1024 648h8v8h-8zM840 656h24v8h-24zM1032 656h8v8h-8zM800 664h8v8h-8zM1040 664h8v8h-8zM1048 672h8v8h-8zM752 680h8v8h-8zM1056 680h8v8h-8zM736 688h8v8h-8zM728 696h8v8h-8zM728 704h8v8h-8zM1088 704h8v8h-8zM728 712h8v8h-8zM1096 712h8v8h-8zM720 744h8v8h-8zM720 752h8v8h-8zM720 760h8v8h-8zM720 768h8v8h-8zM728 848h8v8h-8zM736 864h8v8h-8zM744 880h8v8h-8zM752 904h8v8h-8zM760 936h8v8h-8zM760 944h8v8h-8zM1144 944h8v8h-8zM760 952h8v8h-8zM760 960h8v8h-8zM1128 960h8v8h-8zM760 968h8v8h-8zM760 976h8v8h-8zM760 984h8v8h-8zM1120 984h8v8h-8zM760 992h8v8h-8zM760 1000h8v8h-8zM760 1008h8v8h-8zM1112 1008h8v8h-8zM760 1016h8v8h-8zM760 1024h8v8h-8zM760 1032h8v8h-8zM760 1040h8v8h-8zM760 1048h8v8h-8zM1096 1048h8v8h-8zM760 1056h8v8h-8zM760 1064h8v8h-8z"/><path fill="#626262" d="M968 648h56v8h-56zM864 656h56v8h-56zM1024 656h8v8h-8zM808 664h8v8h-8zM1032 664h8v8h-8zM776 672h8v8h-8zM1040 672h8v8h-8zM1064 688h8v8h-8zM728 720h8v8h-8zM728 728h8v8h-8zM1136 784h8v8h-8zM728 840h8v8h-8zM752 896h8v8h-8zM760 928h8v8h-8zM1136 944h8v8h-8zM1120 976h8v8h-8zM1104 1024h8v8h-8zM1096 1040h8v8h-8z"/><path fill="#636363" d="M920 656h40v8h-40zM1016 656h8v8h-8zM816 664h16v8h-16zM784 672h8v8h-8zM760 680h8v8h-8zM1048 680h8v8h-8zM736 696h8v8h-8zM1072 696h8v8h-8zM1104 728h8v8h-8zM728 736h8v8h-8zM728 832h8v8h-8zM736 856h8v8h-8zM744 872h8v8h-8zM760 912h8v8h-8zM760 920h8v8h-8zM1144 936h8v8h-8zM1128 952h8v8h-8zM1112 1000h8v8h-8z"/><path fill="#646464" d="M960 656h56v8h-56zM832 664h16v8h-16zM1024 664h8v8h-8zM792 672h8v8h-8zM1032 672h8v8h-8zM744 688h8v8h-8zM736 704h8v8h-8zM1080 704h8v8h-8zM736 712h8v8h-8zM1096 720h8v8h-8zM728 744h8v8h-8zM1112 744h8v8h-8zM1120 760h8v8h-8zM1128 776h8v8h-8zM728 792h8v8h-8zM728 800h8v8h-8zM728 808h8v8h-8zM728 816h8v8h-8zM728 824h8v8h-8zM736 848h8v8h-8zM744 864h8v8h-8zM752 888h8v8h-8zM768 936h8v8h-8zM1136 936h8v8h-8zM768 944h8v8h-8zM768 952h8v8h-8zM768 960h8v8h-8zM768 968h8v8h-8zM1120 968h8v8h-8zM768 976h8v8h-8zM768 984h8v8h-8zM768 992h8v8h-8zM768 1000h8v8h-8zM768 1008h8v8h-8zM768 1016h8v8h-8zM1104 1016h8v8h-8zM768 1024h8v8h-8zM768 1032h8v8h-8zM1096 1032h8v8h-8zM768 1040h8v8h-8zM768 1048h8v8h-8zM768 1056h8v8h-8zM768 1064h8v8h-8zM1088 1064h8v8h-8z"/><path fill="#656565" d="M848 664h64v8h-64zM1016 664h8v8h-8zM800 672h8v8h-8zM768 680h8v8h-8zM1056 688h8v8h-8zM1088 712h8v8h-8zM736 720h8v8h-8zM728 752h8v8h-8zM728 760h8v8h-8zM728 768h8v8h-8zM728 776h8v8h-8zM728 784h8v8h-8zM752 880h8v8h-8zM760 904h8v8h-8zM768 928h8v8h-8zM1112 992h8v8h-8zM1088 1048h8v8h-8zM1088 1056h8v8h-8z"/><path fill="#666666" d="M912 664h16v8h-16zM1000 664h16v8h-16zM808 672h16v8h-16zM1024 672h8v8h-8zM776 680h8v8h-8zM1040 680h8v8h-8zM752 688h8v8h-8zM744 696h8v8h-8zM1064 696h8v8h-8zM736 728h8v8h-8zM736 840h8v8h-8zM744 856h8v8h-8zM752 872h8v8h-8zM760 896h8v8h-8zM768 920h8v8h-8zM1128 944h8v8h-8zM1112 984h8v8h-8zM1096 1024h8v8h-8zM1088 1040h8v8h-8z"/><path fill="#676767" d="M928 664h16v8h-16zM984 664h16v8h-16zM824 672h16v8h-16zM784 680h8v8h-8zM760 688h8v8h-8zM744 704h8v8h-8zM744 712h8v8h-8zM736 736h8v8h-8zM1104 736h8v8h-8zM736 824h8v8h-8zM736 832h8v8h-8zM760 888h8v8h-8zM768 912h8v8h-8zM1144 928h8v8h-8zM776 936h8v8h-8zM776 944h8v8h-8zM776 952h8v8h-8zM776 960h8v8h-8zM1120 960h8v8h-8zM776 968h8v8h-8zM776 976h8v8h-8zM776 984h8v8h-8zM776 992h8v8h-8zM776 1000h8v8h-8zM776 1008h8v8h-8zM1104 1008h8v8h-8zM776 1016h8v8h-8zM776 1024h8v8h-8zM776 1032h8v8h-8zM776 1040h8v8h-8zM776 1048h8v8h-8zM776 1056h8v8h-8zM776 1064h8v8h-8z"/><path fill="#686868" d="M944 664h40v8h-40zM840 672h56v8h-56zM1016 672h8v8h-8zM792 680h8v8h-8zM1048 688h8v8h-8zM752 696h8v8h-8zM1072 704h8v8h-8zM744 720h8v8h-8zM736 744h8v8h-8zM736 808h8v8h-8zM736 816h8v8h-8zM744 848h8v8h-8zM752 864h8v8h-8zM760 880h8v8h-8zM768 904h8v8h-8zM776 928h8v8h-8zM1112 976h8v8h-8zM1088 1032h8v8h-8zM1080 1056h8v8h-8zM1080 1064h8v8h-8z"/><path fill="#696969" d="M896 672h8v8h-8zM800 680h8v8h-8zM1032 680h8v8h-8zM768 688h8v8h-8zM744 728h8v8h-8zM1096 728h8v8h-8zM736 752h8v8h-8zM1112 752h8v8h-8zM736 760h8v8h-8zM736 768h8v8h-8zM1120 768h8v8h-8zM736 776h8v8h-8zM736 784h8v8h-8zM1128 784h8v8h-8zM736 792h8v8h-8zM1144 792h8v8h-8zM736 800h8v8h-8zM744 840h8v8h-8zM768 896h8v8h-8zM776 920h8v8h-8zM1136 928h8v8h-8zM1104 1000h8v8h-8zM1096 1016h8v8h-8zM1080 1048h8v8h-8z"/><path fill="#6a6a6a" d="M904 672h8v8h-8zM1008 672h8v8h-8zM808 680h16v8h-16zM776 688h8v8h-8zM760 696h8v8h-8zM752 704h8v8h-8zM752 712h8v8h-8zM1080 712h8v8h-8zM1088 720h8v8h-8zM744 832h8v8h-8zM752 856h8v8h-8zM760 872h8v8h-8zM1128 936h8v8h-8zM784 944h8v8h-8zM784 952h8v8h-8zM1120 952h8v8h-8zM784 960h8v8h-8zM784 968h8v8h-8zM1112 968h8v8h-8zM784 976h8v8h-8zM784 984h8v8h-8zM784 992h8v8h-8zM1104 992h8v8h-8zM784 1000h8v8h-8zM784 1008h8v8h-8zM784 1016h8v8h-8zM784 1024h8v8h-8zM1088 1024h8v8h-8zM784 1032h8v8h-8zM784 1040h8v8h-8zM1080 1040h8v8h-8zM784 1048h8v8h-8zM784 1056h8v8h-8zM784 1064h8v8h-8z"/><path fill="#6b6b6b" d="M912 672h8v8h-8zM824 680h24v8h-24zM784 688h8v8h-8zM1056 696h8v8h-8zM752 720h8v8h-8zM744 736h8v8h-8zM1136 792h8v8h-8zM744 824h8v8h-8zM752 848h8v8h-8zM768 888h8v8h-8zM776 912h8v8h-8zM784 936h8v8h-8zM1104 984h8v8h-8zM1096 1008h8v8h-8zM1072 1064h8v8h-8z"/><path fill="#6c6c6c" d="M920 672h8v8h-8zM1000 672h8v8h-8zM848 680h40v8h-40zM1024 680h8v8h-8zM792 688h8v8h-8zM1040 688h8v8h-8zM768 696h8v8h-8zM760 704h8v8h-8zM1104 744h8v8h-8zM744 816h8v8h-8zM760 864h8v8h-8zM768 880h8v8h-8zM776 904h8v8h-8zM784 928h8v8h-8zM792 984h8v8h-8zM792 992h8v8h-8zM792 1000h8v8h-8zM792 1008h8v8h-8zM792 1016h8v8h-8zM792 1024h8v8h-8zM792 1032h8v8h-8zM1080 1032h8v8h-8zM792 1040h8v8h-8zM792 1048h8v8h-8zM1072 1048h8v8h-8zM792 1056h8v8h-8zM1072 1056h8v8h-8zM792 1064h8v8h-8z"/><path fill="#6d6d6d" d="M928 672h8v8h-8zM992 672h8v8h-8zM888 680h8v8h-8zM800 688h8v8h-8zM776 696h8v8h-8zM1064 704h8v8h-8zM760 712h8v8h-8zM752 728h8v8h-8zM744 744h8v8h-8zM744 752h8v8h-8zM744 800h8v8h-8zM744 808h8v8h-8zM752 840h8v8h-8zM760 856h8v8h-8zM768 872h8v8h-8zM792 952h8v8h-8zM792 960h8v8h-8zM792 968h8v8h-8zM792 976h8v8h-8zM1104 976h8v8h-8zM1096 1000h8v8h-8zM1088 1016h8v8h-8zM1080 1024h8v8h-8zM1072 1040h8v8h-8z"/><path fill="#6e6e6e" d="M936 672h8v8h-8zM984 672h8v8h-8zM896 680h8v8h-8zM808 688h8v8h-8zM768 704h8v8h-8zM1096 736h8v8h-8zM744 760h8v8h-8zM1112 760h8v8h-8zM744 768h8v8h-8zM744 776h8v8h-8zM744 784h8v8h-8zM744 792h8v8h-8zM752 832h8v8h-8zM776 896h8v8h-8zM784 920h8v8h-8zM1144 920h8v8h-8zM1128 928h8v8h-8zM792 944h8v8h-8zM1120 944h8v8h-8zM1112 960h8v8h-8zM1096 992h8v8h-8zM1064 1056h8v8h-8zM1064 1064h8v8h-8z"/><path fill="#6f6f6f" d="M944 672h8v8h-8zM976 672h8v8h-8zM1016 680h8v8h-8zM816 688h32v8h-32zM784 696h8v8h-8zM1048 696h8v8h-8zM1072 712h8v8h-8zM760 720h8v8h-8zM1088 728h8v8h-8zM752 736h8v8h-8zM1120 776h8v8h-8zM752 824h8v8h-8zM760 848h8v8h-8zM768 864h8v8h-8zM776 888h8v8h-8zM1136 920h8v8h-8zM800 968h8v8h-8zM800 976h8v8h-8zM800 984h8v8h-8zM800 992h8v8h-8zM800 1000h8v8h-8zM800 1008h8v8h-8zM1088 1008h8v8h-8zM800 1016h8v8h-8zM800 1024h8v8h-8zM800 1032h8v8h-8zM1072 1032h8v8h-8zM800 1040h8v8h-8zM800 1048h8v8h-8zM1064 1048h8v8h-8zM800 1056h8v8h-8zM800 1064h8v8h-8z"/><path fill="#707070" d="M952 672h24v8h-24zM904 680h8v8h-8zM848 688h32v8h-32zM1032 688h8v8h-8zM792 696h8v8h-8zM776 704h8v8h-8zM768 712h8v8h-8zM1080 720h8v8h-8zM1128 792h8v8h-8zM1144 800h8v8h-8zM752 816h8v8h-8zM776 880h8v8h-8zM784 912h8v8h-8zM792 936h8v8h-8zM800 960h8v8h-8zM1096 984h8v8h-8zM1080 1016h8v8h-8zM1072 1024h8v8h-8zM1064 1040h8v8h-8zM1056 1064h8v8h-8z"/><path fill="#717171" d="M1008 680h8v8h-8zM880 688h8v8h-8zM800 696h8v8h-8zM760 728h8v8h-8zM752 744h8v8h-8zM1136 800h8v8h-8zM752 808h8v8h-8zM760 840h8v8h-8zM768 856h8v8h-8zM776 872h8v8h-8zM784 904h8v8h-8zM792 928h8v8h-8zM800 952h8v8h-8zM1104 968h8v8h-8zM808 976h8v8h-8zM808 984h8v8h-8zM808 992h8v8h-8zM808 1000h8v8h-8zM1088 1000h8v8h-8zM808 1008h8v8h-8zM808 1016h8v8h-8zM808 1024h8v8h-8zM808 1032h8v8h-8zM1064 1032h8v8h-8zM808 1040h8v8h-8zM808 1048h8v8h-8zM1056 1048h8v8h-8zM808 1056h8v8h-8zM1056 1056h8v8h-8zM808 1064h8v8h-8z"/><path fill="#727272" d="M912 680h8v8h-8zM888 688h8v8h-8zM784 704h8v8h-8zM1056 704h8v8h-8zM768 720h8v8h-8zM752 752h8v8h-8zM1104 752h8v8h-8zM752 800h8v8h-8zM760 832h8v8h-8zM1144 912h8v8h-8zM1128 920h8v8h-8zM1120 936h8v8h-8zM800 944h8v8h-8zM1112 952h8v8h-8zM808 968h8v8h-8zM1088 992h8v8h-8zM1080 1008h8v8h-8zM1056 1040h8v8h-8zM1048 1064h8v8h-8z"/><path fill="#737373" d="M920 680h8v8h-8zM1000 680h8v8h-8zM1024 688h8v8h-8zM808 696h8v8h-8zM1040 696h8v8h-8zM776 712h8v8h-8zM760 736h8v8h-8zM752 760h8v8h-8zM752 768h8v8h-8zM1112 768h8v8h-8zM752 776h8v8h-8zM752 784h8v8h-8zM1120 784h8v8h-8zM752 792h8v8h-8zM1144 808h8v8h-8zM760 824h8v8h-8zM768 848h8v8h-8zM776 864h8v8h-8zM784 896h8v8h-8zM1136 912h8v8h-8zM792 920h8v8h-8zM808 960h8v8h-8zM1096 976h8v8h-8zM816 984h8v8h-8zM816 992h8v8h-8zM816 1000h8v8h-8zM816 1008h8v8h-8zM816 1016h8v8h-8zM1072 1016h8v8h-8zM816 1024h8v8h-8zM1064 1024h8v8h-8zM816 1032h8v8h-8zM816 1040h8v8h-8zM816 1048h8v8h-8zM1048 1048h8v8h-8zM816 1056h8v8h-8zM1048 1056h8v8h-8zM816 1064h8v8h-8z"/><path fill="#747474" d="M928 680h8v8h-8zM992 680h8v8h-8zM896 688h8v8h-8zM816 696h16v8h-16zM792 704h8v8h-8zM1064 712h8v8h-8zM768 728h8v8h-8zM1096 744h8v8h-8zM1128 800h8v8h-8zM1136 808h8v8h-8zM1144 816h8v8h-8zM768 840h8v8h-8zM776 856h8v8h-8zM784 888h8v8h-8zM1136 904h16v8h-16zM1104 960h8v8h-8zM816 976h8v8h-8zM1088 984h8v8h-8zM1080 1000h8v8h-8zM1056 1032h8v8h-8zM1040 1064h8v8h-8z"/><path fill="#757575" d="M936 680h8v8h-8zM984 680h8v8h-8zM1016 688h8v8h-8zM832 696h48v8h-48zM784 712h8v8h-8zM776 720h8v8h-8zM1072 720h8v8h-8zM1080 728h8v8h-8zM1088 736h8v8h-8zM760 744h8v8h-8zM760 816h8v8h-8zM1136 816h8v8h-8zM1144 824h8v8h-8zM784 880h8v8h-8zM1136 896h16v8h-16zM792 912h8v8h-8zM1128 912h8v8h-8zM1120 928h8v8h-8zM800 936h8v8h-8zM1112 944h8v8h-8zM808 952h8v8h-8zM816 968h8v8h-8zM824 992h8v8h-8zM824 1000h8v8h-8zM824 1008h8v8h-8zM824 1016h8v8h-8zM824 1024h8v8h-8zM824 1032h8v8h-8zM824 1040h8v8h-8zM1048 1040h8v8h-8zM824 1048h8v8h-8zM1040 1048h8v8h-8zM824 1056h8v8h-8zM1040 1056h8v8h-8zM824 1064h8v8h-8z"/><path fill="#767676" d="M944 680h40v8h-40zM904 688h8v8h-8zM880 696h8v8h-8zM1032 696h8v8h-8zM800 704h8v8h-8zM1048 704h8v8h-8zM1104 760h8v8h-8zM1120 792h8v8h-8zM760 808h8v8h-8zM1128 808h8v8h-8zM1136 824h8v8h-8zM768 832h8v8h-8zM1144 832h8v8h-8zM776 848h8v8h-8zM784 872h8v8h-8zM1144 880h8v8h-8zM1136 888h16v8h-16zM816 960h8v8h-8zM1096 968h8v8h-8zM824 976h8v8h-8zM824 984h8v8h-8zM1080 992h8v8h-8zM1072 1008h8v8h-8zM1064 1016h8v8h-8zM1056 1024h8v8h-8zM1048 1032h8v8h-8zM1032 1064h8v8h-8z"/><path fill="#777777" d="M912 688h8v8h-8zM1008 688h8v8h-8zM888 696h8v8h-8zM1056 712h8v8h-8zM768 736h8v8h-8zM760 752h8v8h-8zM1112 776h8v8h-8zM760 800h8v8h-8zM1128 816h8v8h-8zM1136 832h8v8h-8zM1136 840h16v8h-16zM1144 848h8v8h-8zM1144 856h8v8h-8zM784 864h8v8h-8zM1144 864h8v8h-8zM1136 872h16v8h-16zM1136 880h8v8h-8zM792 904h8v8h-8zM1128 904h8v8h-8zM1120 920h8v8h-8zM800 928h8v8h-8zM808 944h8v8h-8zM1104 952h8v8h-8zM1088 976h8v8h-8zM832 992h8v8h-8zM832 1000h8v8h-8zM832 1008h8v8h-8zM832 1016h8v8h-8zM832 1024h8v8h-8zM832 1032h8v8h-8zM832 1040h8v8h-8zM1040 1040h8v8h-8zM832 1048h8v8h-8zM1032 1048h8v8h-8zM832 1056h8v8h-8zM1032 1056h8v8h-8zM832 1064h8v8h-8z"/><path fill="#787878" d="M1024 696h8v8h-8zM808 704h8v8h-8zM792 712h8v8h-8zM776 728h8v8h-8zM1096 752h8v8h-8zM760 760h8v8h-8zM760 792h8v8h-8zM768 824h8v8h-8zM1128 824h8v8h-8zM776 840h8v8h-8zM1136 848h8v8h-8zM784 856h8v8h-8zM1136 856h8v8h-8zM1136 864h8v8h-8zM792 896h8v8h-8zM1128 896h8v8h-8zM1112 936h8v8h-8zM824 968h8v8h-8zM832 984h8v8h-8zM1080 984h8v8h-8zM1072 1000h8v8h-8zM1064 1008h8v8h-8zM1056 1016h8v8h-8zM1048 1024h8v8h-8zM1024 1064h8v8h-8z"/><path fill="#797979" d="M920 688h8v8h-8zM1000 688h8v8h-8zM896 696h8v8h-8zM816 704h8v8h-8zM1040 704h8v8h-8zM784 720h8v8h-8zM1064 720h8v8h-8zM1072 728h8v8h-8zM1080 736h8v8h-8zM1088 744h8v8h-8zM760 768h8v8h-8zM1104 768h8v8h-8zM760 776h8v8h-8zM760 784h8v8h-8zM1112 784h8v8h-8zM1120 800h8v8h-8zM768 816h8v8h-8zM1128 832h8v8h-8zM1128 880h8v8h-8zM792 888h8v8h-8zM1128 888h8v8h-8zM1120 912h8v8h-8zM800 920h8v8h-8zM808 936h8v8h-8zM816 952h8v8h-8zM1096 960h8v8h-8zM832 976h8v8h-8zM840 992h8v8h-8zM1072 992h8v8h-8zM840 1000h8v8h-8zM840 1008h8v8h-8zM840 1016h8v8h-8zM1040 1032h8v8h-8zM1032 1040h8v8h-8zM1024 1056h8v8h-8z"/><path fill="#7a7a7a" d="M928 688h8v8h-8zM992 688h8v8h-8zM1016 696h8v8h-8zM824 704h8v8h-8zM1048 712h8v8h-8zM768 744h8v8h-8zM1120 808h8v8h-8zM776 832h8v8h-8zM1128 840h8v8h-8zM784 848h8v8h-8zM1128 848h8v8h-8zM1128 856h8v8h-8zM1128 864h8v8h-8zM1128 872h8v8h-8zM792 880h8v8h-8zM800 912h8v8h-8zM1112 928h8v8h-8zM1104 944h8v8h-8zM824 960h8v8h-8zM1088 968h8v8h-8zM840 984h8v8h-8zM1064 1000h8v8h-8zM840 1024h8v8h-8zM840 1032h8v8h-8zM840 1040h8v8h-8zM840 1048h8v8h-8zM1024 1048h8v8h-8zM840 1056h8v8h-8zM840 1064h8v8h-8z"/><path fill="#7b7b7b" d="M936 688h8v8h-8zM976 688h16v8h-16zM904 696h8v8h-8zM832 704h48v8h-48zM1032 704h8v8h-8zM800 712h8v8h-8zM776 736h8v8h-8zM1096 760h8v8h-8zM768 808h8v8h-8zM792 864h8v8h-8zM792 872h8v8h-8zM1120 904h8v8h-8zM832 968h8v8h-8zM1080 976h8v8h-8zM1072 984h8v8h-8zM848 992h8v8h-8zM848 1000h8v8h-8zM1056 1008h8v8h-8zM1048 1016h8v8h-8zM1040 1024h8v8h-8zM1032 1032h8v8h-8zM1024 1040h8v8h-8zM1016 1056h8v8h-8zM1016 1064h8v8h-8z"/><path fill="#7c7c7c" d="M944 688h32v8h-32zM1008 696h8v8h-8zM880 704h8v8h-8zM792 720h8v8h-8zM1056 720h8v8h-8zM784 728h8v8h-8zM768 752h8v8h-8zM1088 752h8v8h-8zM1104 776h8v8h-8zM1112 792h8v8h-8zM1120 816h8v8h-8zM776 824h8v8h-8zM784 840h8v8h-8zM792 856h8v8h-8zM1120 896h8v8h-8zM800 904h8v8h-8zM808 928h8v8h-8zM816 944h8v8h-8zM1096 952h8v8h-8zM840 976h8v8h-8zM1064 992h8v8h-8zM848 1008h8v8h-8zM848 1016h8v8h-8zM848 1024h8v8h-8zM848 1032h8v8h-8zM848 1040h8v8h-8zM848 1048h8v8h-8zM1016 1048h8v8h-8zM848 1056h8v8h-8zM848 1064h8v8h-8z"/><path fill="#7d7d7d" d="M912 696h8v8h-8zM888 704h8v8h-8zM808 712h8v8h-8zM1040 712h8v8h-8zM1064 728h8v8h-8zM1072 736h8v8h-8zM1080 744h8v8h-8zM768 760h8v8h-8zM768 800h8v8h-8zM1120 824h8v8h-8zM1120 888h8v8h-8zM800 896h8v8h-8zM1112 920h8v8h-8zM1104 936h8v8h-8zM824 952h8v8h-8zM848 984h8v8h-8zM856 1000h8v8h-8zM1056 1000h8v8h-8zM1048 1008h8v8h-8zM1040 1016h8v8h-8zM1032 1024h8v8h-8zM1024 1032h8v8h-8zM1016 1040h8v8h-8zM1008 1056h8v8h-8zM1008 1064h8v8h-8z"/><path fill="#7e7e7e" d="M920 696h8v8h-8zM1000 696h8v8h-8zM896 704h8v8h-8zM1024 704h8v8h-8zM776 744h8v8h-8zM1096 768h8v8h-8zM768 792h8v8h-8zM1112 800h8v8h-8zM776 816h8v8h-8zM784 832h8v8h-8zM1120 832h8v8h-8zM792 848h8v8h-8zM1120 880h8v8h-8zM1112 912h8v8h-8zM808 920h8v8h-8zM816 936h8v8h-8zM1088 960h8v8h-8zM1080 968h8v8h-8zM856 992h8v8h-8zM856 1008h8v8h-8zM1008 1048h8v8h-8z"/><path fill="#7f7f7f" d="M928 696h8v8h-8zM992 696h8v8h-8zM800 720h8v8h-8zM1048 720h8v8h-8zM768 768h8v8h-8zM768 776h8v8h-8zM768 784h8v8h-8zM1104 784h8v8h-8zM1120 840h8v8h-8zM1120 848h8v8h-8zM1120 856h8v8h-8zM1120 864h8v8h-8zM1120 872h8v8h-8zM800 888h8v8h-8zM1096 944h8v8h-8zM832 960h8v8h-8zM1072 976h8v8h-8zM1064 984h8v8h-8zM1056 992h8v8h-8zM864 1000h8v8h-8zM1048 1000h8v8h-8zM1040 1008h8v8h-8zM856 1016h8v8h-8zM1032 1016h8v8h-8zM856 1024h8v8h-8zM1024 1024h8v8h-8zM856 1032h8v8h-8zM1016 1032h8v8h-8zM856 1040h8v8h-8zM856 1048h8v8h-8zM856 1056h8v8h-8zM1000 1056h8v8h-8zM856 1064h8v8h-8zM1000 1064h8v8h-8z"/><path fill="#808080" d="M936 696h8v8h-8zM984 696h8v8h-8zM904 704h8v8h-8zM1016 704h8v8h-8zM816 712h8v8h-8zM1032 712h8v8h-8zM792 728h8v8h-8zM1056 728h8v8h-8zM784 736h8v8h-8zM1088 760h8v8h-8zM776 808h8v8h-8zM1112 808h8v8h-8zM784 824h8v8h-8zM792 840h8v8h-8zM800 872h8v8h-8zM800 880h8v8h-8zM1112 904h8v8h-8zM808 912h8v8h-8zM1104 928h8v8h-8zM840 968h8v8h-8zM848 976h8v8h-8zM856 984h8v8h-8zM864 992h8v8h-8zM864 1008h8v8h-8zM1008 1040h8v8h-8zM1000 1048h8v8h-8z"/><path fill="#818181" d="M944 696h8v8h-8zM976 696h8v8h-8zM1064 736h8v8h-8zM1072 744h8v8h-8zM776 752h8v8h-8zM1080 752h8v8h-8zM1096 776h8v8h-8zM1104 792h8v8h-8zM1112 816h8v8h-8zM800 856h8v8h-8zM800 864h8v8h-8zM816 928h8v8h-8zM824 944h8v8h-8zM1088 952h8v8h-8zM872 1000h8v8h-8zM1032 1008h8v8h-8zM864 1016h8v8h-8zM1024 1016h8v8h-8zM1016 1024h8v8h-8zM1008 1032h8v8h-8zM992 1056h8v8h-8zM992 1064h8v8h-8z"/><path fill="#828282" d="M952 696h24v8h-24zM912 704h8v8h-8zM1008 704h8v8h-8zM824 712h8v8h-8zM1040 720h8v8h-8zM776 800h8v8h-8zM784 816h8v8h-8zM792 832h8v8h-8zM800 848h8v8h-8zM1112 896h8v8h-8zM808 904h8v8h-8zM1104 920h8v8h-8zM1096 936h8v8h-8zM832 952h8v8h-8zM1080 960h8v8h-8zM1048 992h8v8h-8zM1040 1000h8v8h-8zM872 1008h8v8h-8zM864 1024h8v8h-8zM864 1032h8v8h-8zM864 1040h8v8h-8zM1000 1040h8v8h-8zM864 1048h8v8h-8zM992 1048h8v8h-8zM864 1056h8v8h-8zM864 1064h8v8h-8z"/><path fill="#838383" d="M832 712h64v8h-64zM1024 712h8v8h-8zM808 720h8v8h-8zM784 744h8v8h-8zM776 760h8v8h-8zM1088 768h8v8h-8zM776 792h8v8h-8zM1104 800h8v8h-8zM1112 824h8v8h-8zM1112 888h8v8h-8zM808 896h8v8h-8zM816 920h8v8h-8zM840 960h8v8h-8zM1072 968h8v8h-8zM1064 976h8v8h-8zM864 984h8v8h-8zM1056 984h8v8h-8zM872 992h8v8h-8zM1024 1008h8v8h-8zM1016 1016h8v8h-8zM1008 1024h8v8h-8zM1000 1032h8v8h-8zM984 1056h8v8h-8zM984 1064h8v8h-8z"/><path fill="#848484" d="M920 704h8v8h-8zM1000 704h8v8h-8zM896 712h8v8h-8zM1048 728h8v8h-8zM776 768h8v8h-8zM776 776h8v8h-8zM776 784h8v8h-8zM1096 784h8v8h-8zM784 808h8v8h-8zM792 824h8v8h-8zM1112 832h8v8h-8zM800 840h8v8h-8zM1112 880h8v8h-8zM1104 912h8v8h-8zM824 936h8v8h-8zM1088 944h8v8h-8zM848 968h8v8h-8zM856 976h8v8h-8zM880 1000h8v8h-8zM1032 1000h8v8h-8zM880 1008h8v8h-8zM872 1016h8v8h-8zM992 1040h8v8h-8zM984 1048h8v8h-8zM872 1056h8v8h-8zM872 1064h8v8h-8z"/><path fill="#858585" d="M928 704h8v8h-8zM992 704h8v8h-8zM1016 712h8v8h-8zM800 728h8v8h-8zM792 736h8v8h-8zM1056 736h8v8h-8zM1072 752h8v8h-8zM1080 760h8v8h-8zM1112 840h8v8h-8zM1112 848h8v8h-8zM1112 856h8v8h-8zM1112 864h8v8h-8zM1112 872h8v8h-8zM808 888h8v8h-8zM1096 928h8v8h-8zM1040 992h8v8h-8zM1016 1008h8v8h-8zM1008 1016h8v8h-8zM872 1024h8v8h-8zM1000 1024h8v8h-8zM872 1032h8v8h-8zM992 1032h8v8h-8zM872 1040h8v8h-8zM872 1048h8v8h-8zM976 1056h8v8h-8zM976 1064h8v8h-8z"/><path fill="#868686" d="M984 704h8v8h-8zM904 712h8v8h-8zM816 720h8v8h-8zM1032 720h8v8h-8zM1064 744h8v8h-8zM784 752h8v8h-8zM784 800h8v8h-8zM1104 808h8v8h-8zM792 816h8v8h-8zM800 832h8v8h-8zM808 872h8v8h-8zM808 880h8v8h-8zM1104 904h8v8h-8zM816 912h8v8h-8zM832 944h8v8h-8zM1080 952h8v8h-8zM1048 984h8v8h-8zM880 992h8v8h-8zM888 1000h8v8h-8zM1024 1000h8v8h-8zM880 1016h8v8h-8zM1000 1016h8v8h-8zM984 1040h8v8h-8zM976 1048h8v8h-8zM880 1056h8v8h-8zM880 1064h8v8h-8z"/><path fill="#878787" d="M936 704h16v8h-16zM976 704h8v8h-8zM1088 776h8v8h-8zM1096 792h8v8h-8zM1104 816h8v8h-8zM808 856h8v8h-8zM808 864h8v8h-8zM824 928h8v8h-8zM840 952h8v8h-8zM1072 960h8v8h-8zM1064 968h8v8h-8zM1056 976h8v8h-8zM872 984h8v8h-8zM888 1008h8v8h-8zM1008 1008h8v8h-8zM880 1024h8v8h-8zM992 1024h8v8h-8zM880 1032h8v8h-8zM984 1032h8v8h-8zM880 1040h8v8h-8zM976 1040h8v8h-8zM880 1048h8v8h-8zM968 1056h8v8h-8zM968 1064h8v8h-8z"/><path fill="#888888" d="M952 704h24v8h-24zM912 712h8v8h-8zM1008 712h8v8h-8zM1040 728h8v8h-8zM792 744h8v8h-8zM784 760h8v8h-8zM784 792h8v8h-8zM800 824h8v8h-8zM808 848h8v8h-8zM1104 896h8v8h-8zM816 904h8v8h-8zM1096 920h8v8h-8zM1088 936h8v8h-8zM848 960h8v8h-8zM864 976h8v8h-8zM1032 992h8v8h-8zM888 1016h8v8h-8zM992 1016h8v8h-8zM984 1024h8v8h-8zM888 1048h8v8h-8zM968 1048h8v8h-8zM888 1056h8v8h-8zM888 1064h8v8h-8zM960 1064h8v8h-8z"/><path fill="#898989" d="M824 720h8v8h-8zM1024 720h8v8h-8zM808 728h8v8h-8zM1048 736h8v8h-8zM784 768h8v8h-8zM1080 768h8v8h-8zM784 784h8v8h-8zM792 808h8v8h-8zM1104 824h8v8h-8zM808 840h8v8h-8zM824 920h8v8h-8zM832 936h8v8h-8zM856 968h8v8h-8zM888 992h8v8h-8zM896 1000h8v8h-8zM1016 1000h8v8h-8zM896 1008h8v8h-8zM1000 1008h8v8h-8zM984 1016h8v8h-8zM888 1024h8v8h-8zM888 1032h8v8h-8zM976 1032h8v8h-8zM888 1040h8v8h-8zM968 1040h8v8h-8zM960 1048h8v8h-8zM896 1056h8v8h-8zM960 1056h8v8h-8zM896 1064h8v8h-8z"/><path fill="#8a8a8a" d="M920 712h8v8h-8zM1000 712h8v8h-8zM832 720h8v8h-8zM888 720h8v8h-8zM800 736h8v8h-8zM1056 744h8v8h-8zM1064 752h8v8h-8zM1072 760h8v8h-8zM784 776h8v8h-8zM1088 784h8v8h-8zM1096 800h8v8h-8zM808 832h8v8h-8zM1104 832h8v8h-8zM1104 888h8v8h-8zM816 896h8v8h-8zM1096 912h8v8h-8zM1080 944h8v8h-8zM1040 984h8v8h-8zM904 1008h8v8h-8zM992 1008h8v8h-8zM896 1016h8v8h-8zM976 1016h8v8h-8zM976 1024h8v8h-8zM968 1032h8v8h-8zM896 1040h8v8h-8zM960 1040h8v8h-8zM896 1048h8v8h-8zM952 1048h8v8h-8zM904 1056h8v8h-8zM952 1056h8v8h-8zM904 1064h8v8h-8zM952 1064h8v8h-8z"/><path fill="#8b8b8b" d="M992 712h8v8h-8zM840 720h48v8h-48zM896 720h8v8h-8zM1016 720h8v8h-8zM1032 728h8v8h-8zM792 752h8v8h-8zM792 800h8v8h-8zM800 816h8v8h-8zM1104 840h8v8h-8zM1104 880h8v8h-8zM816 888h8v8h-8zM1088 928h8v8h-8zM840 944h8v8h-8zM1072 952h8v8h-8zM1048 976h8v8h-8zM880 984h8v8h-8zM1024 992h8v8h-8zM904 1000h8v8h-8zM1008 1000h8v8h-8zM912 1008h8v8h-8zM984 1008h8v8h-8zM904 1016h8v8h-8zM968 1016h8v8h-8zM896 1024h8v8h-8zM968 1024h8v8h-8zM896 1032h8v8h-8zM960 1032h8v8h-8zM904 1040h8v8h-8zM952 1040h8v8h-8zM904 1048h16v8h-16zM944 1048h8v8h-8zM912 1056h8v8h-8zM944 1056h8v8h-8zM912 1064h8v8h-8zM944 1064h8v8h-8z"/><path fill="#8c8c8c" d="M928 712h8v8h-8zM904 720h8v8h-8zM1080 776h8v8h-8zM1096 808h8v8h-8zM1104 848h8v8h-8zM1104 856h8v8h-8zM1104 864h8v8h-8zM1104 872h8v8h-8zM816 880h8v8h-8zM824 912h8v8h-8zM1064 960h8v8h-8zM1056 968h8v8h-8zM872 976h8v8h-8zM896 992h8v8h-8zM920 1008h8v8h-8zM976 1008h8v8h-8zM912 1016h56v8h-56zM904 1024h64v8h-64zM904 1032h56v8h-56zM912 1040h40v8h-40zM920 1048h24v8h-24zM920 1056h24v8h-24zM920 1064h24v8h-24z"/><path fill="#8d8d8d" d="M936 712h8v8h-8zM984 712h8v8h-8zM816 728h8v8h-8zM1040 736h8v8h-8zM792 760h8v8h-8zM792 792h8v8h-8zM1088 792h8v8h-8zM800 808h8v8h-8zM808 824h8v8h-8zM816 872h8v8h-8zM1096 904h8v8h-8zM832 928h8v8h-8zM848 952h8v8h-8zM856 960h8v8h-8zM864 968h8v8h-8zM912 1000h8v8h-8zM1000 1000h8v8h-8zM928 1008h16v8h-16zM968 1008h8v8h-8z"/><path fill="#8e8e8e" d="M944 712h8v8h-8zM976 712h8v8h-8zM1008 720h8v8h-8zM800 744h8v8h-8zM792 768h8v8h-8zM1072 768h8v8h-8zM792 784h8v8h-8zM1096 816h8v8h-8zM816 840h8v8h-8zM816 848h8v8h-8zM816 856h8v8h-8zM816 864h8v8h-8zM824 904h8v8h-8zM1088 920h8v8h-8zM1080 936h8v8h-8zM888 984h8v8h-8zM1032 984h8v8h-8zM1016 992h8v8h-8zM992 1000h8v8h-8zM944 1008h24v8h-24z"/><path fill="#8f8f8f" d="M952 712h24v8h-24zM912 720h8v8h-8zM1024 728h8v8h-8zM808 736h8v8h-8zM1048 744h8v8h-8zM1056 752h8v8h-8zM1064 760h8v8h-8zM792 776h8v8h-8zM800 800h8v8h-8zM808 816h8v8h-8zM816 832h8v8h-8zM1096 896h8v8h-8zM840 936h8v8h-8zM1040 976h8v8h-8zM904 992h8v8h-8zM920 1000h8v8h-8z"/><path fill="#909090" d="M1000 720h8v8h-8zM824 728h8v8h-8zM800 752h8v8h-8zM1080 784h8v8h-8zM1088 800h8v8h-8zM1096 824h8v8h-8zM1096 888h8v8h-8zM824 896h8v8h-8zM832 920h8v8h-8zM1072 944h8v8h-8zM880 976h8v8h-8zM928 1000h8v8h-8zM984 1000h8v8h-8z"/><path fill="#919191" d="M920 720h8v8h-8zM832 728h8v8h-8zM888 728h16v8h-16zM1032 736h8v8h-8zM800 792h8v8h-8zM808 808h8v8h-8zM816 824h8v8h-8zM1096 832h8v8h-8zM1088 912h8v8h-8zM1080 928h8v8h-8zM848 944h8v8h-8zM1064 952h8v8h-8zM1056 960h8v8h-8zM1048 968h8v8h-8zM1024 984h8v8h-8zM912 992h8v8h-8zM1008 992h8v8h-8zM936 1000h16v8h-16zM976 1000h8v8h-8z"/><path fill="#929292" d="M992 720h8v8h-8zM840 728h8v8h-8zM872 728h16v8h-16zM1016 728h8v8h-8zM800 760h8v8h-8zM1072 776h8v8h-8zM1096 840h8v8h-8zM1096 880h8v8h-8zM824 888h8v8h-8zM856 952h8v8h-8zM864 960h8v8h-8zM872 968h8v8h-8zM896 984h8v8h-8zM952 1000h24v8h-24z"/><path fill="#939393" d="M928 720h8v8h-8zM848 728h24v8h-24zM904 728h8v8h-8zM816 736h8v8h-8zM808 744h8v8h-8zM1040 744h8v8h-8zM800 768h8v8h-8zM800 776h8v8h-8zM800 784h8v8h-8zM1080 792h8v8h-8zM1088 808h8v8h-8zM816 816h8v8h-8zM1096 848h8v8h-8zM1096 856h8v8h-8zM1096 864h8v8h-8zM1096 872h8v8h-8zM824 880h8v8h-8zM1088 904h8v8h-8zM832 912h8v8h-8zM840 928h8v8h-8zM1032 976h8v8h-8zM1000 992h8v8h-8z"/><path fill="#949494" d="M936 720h8v8h-8zM984 720h8v8h-8zM1048 752h8v8h-8zM1056 760h8v8h-8zM1064 768h8v8h-8zM808 800h8v8h-8zM824 832h8v8h-8zM824 840h8v8h-8zM824 872h8v8h-8zM1072 936h8v8h-8zM888 976h8v8h-8zM1016 984h8v8h-8zM920 992h8v8h-8z"/><path fill="#959595" d="M944 720h8v8h-8zM968 720h16v8h-16zM912 728h8v8h-8zM1008 728h8v8h-8zM1024 736h8v8h-8zM808 792h8v8h-8zM816 808h8v8h-8zM1088 816h8v8h-8zM824 824h8v8h-8zM824 848h8v8h-8zM824 856h8v8h-8zM824 864h8v8h-8zM832 904h8v8h-8zM1080 920h8v8h-8zM848 936h8v8h-8zM1064 944h8v8h-8zM1040 968h8v8h-8zM904 984h8v8h-8zM928 992h8v8h-8zM992 992h8v8h-8z"/><path fill="#969696" d="M952 720h16v8h-16zM824 736h8v8h-8zM808 752h8v8h-8zM1072 784h8v8h-8zM1080 800h8v8h-8zM824 816h8v8h-8zM1088 896h8v8h-8zM840 920h8v8h-8zM1056 952h8v8h-8zM1048 960h8v8h-8zM880 968h8v8h-8zM984 992h8v8h-8z"/><path fill="#979797" d="M1000 728h8v8h-8zM1032 744h8v8h-8zM808 760h8v8h-8zM808 768h8v8h-8zM808 776h8v8h-8zM808 784h8v8h-8zM816 800h8v8h-8zM1088 824h8v8h-8zM1088 888h8v8h-8zM832 896h8v8h-8zM1072 928h8v8h-8zM856 944h8v8h-8zM864 952h8v8h-8zM872 960h8v8h-8zM1024 976h8v8h-8zM1008 984h8v8h-8zM936 992h8v8h-8zM976 992h8v8h-8z"/><path fill="#989898" d="M920 728h8v8h-8zM832 736h8v8h-8zM888 736h16v8h-16zM1016 736h8v8h-8zM816 744h8v8h-8zM1064 776h8v8h-8zM824 808h8v8h-8zM1088 832h8v8h-8zM1080 912h8v8h-8zM896 976h8v8h-8zM912 984h8v8h-8zM944 992h32v8h-32z"/><path fill="#999999" d="M928 728h8v8h-8zM992 728h8v8h-8zM840 736h8v8h-8zM880 736h8v8h-8zM904 736h8v8h-8zM1040 752h8v8h-8zM1048 760h8v8h-8zM1056 768h8v8h-8zM816 792h8v8h-8zM1080 808h8v8h-8zM1088 840h8v8h-8zM1088 880h8v8h-8zM832 888h8v8h-8zM840 912h8v8h-8zM848 928h8v8h-8zM1032 968h8v8h-8z"/><path fill="#9a9a9a" d="M848 736h32v8h-32zM816 752h8v8h-8zM816 784h8v8h-8zM1072 792h8v8h-8zM824 800h8v8h-8zM832 816h8v8h-8zM832 824h8v8h-8zM832 832h8v8h-8zM1088 848h8v8h-8zM1088 864h8v8h-8zM1088 872h8v8h-8zM1080 904h8v8h-8zM1064 936h8v8h-8zM888 968h8v8h-8zM920 984h8v8h-8zM1000 984h8v8h-8z"/><path fill="#9b9b9b" d="M936 728h8v8h-8zM984 728h8v8h-8zM1008 736h8v8h-8zM824 744h8v8h-8zM1024 744h8v8h-8zM816 760h8v8h-8zM816 768h8v8h-8zM816 776h8v8h-8zM832 808h8v8h-8zM832 840h8v8h-8zM1088 856h8v8h-8zM832 880h8v8h-8zM1072 920h8v8h-8zM856 936h8v8h-8zM1056 944h8v8h-8zM1048 952h8v8h-8zM1040 960h8v8h-8zM904 976h8v8h-8zM1016 976h8v8h-8z"/><path fill="#9c9c9c" d="M944 728h8v8h-8zM976 728h8v8h-8zM912 736h8v8h-8zM1064 784h8v8h-8zM824 792h8v8h-8zM1080 816h8v8h-8zM832 848h8v8h-8zM832 856h8v8h-8zM832 864h8v8h-8zM832 872h8v8h-8zM840 904h8v8h-8zM864 944h8v8h-8zM880 960h8v8h-8zM928 984h8v8h-8zM992 984h8v8h-8z"/><path fill="#9d9d9d" d="M952 728h24v8h-24zM832 744h8v8h-8zM888 744h16v8h-16zM824 752h8v8h-8zM1032 752h8v8h-8zM824 784h8v8h-8zM832 800h8v8h-8zM1072 800h8v8h-8zM1080 896h8v8h-8zM848 920h8v8h-8zM872 952h8v8h-8zM1024 968h8v8h-8zM984 984h8v8h-8z"/><path fill="#9e9e9e" d="M920 736h8v8h-8zM1000 736h8v8h-8zM880 744h8v8h-8zM824 760h8v8h-8zM1040 760h8v8h-8zM824 768h8v8h-8zM824 776h8v8h-8zM1056 776h8v8h-8zM832 792h8v8h-8zM840 808h8v8h-8zM1080 824h8v8h-8zM840 896h8v8h-8zM1072 912h8v8h-8zM1064 928h8v8h-8zM896 968h8v8h-8zM912 976h8v8h-8zM1008 976h8v8h-8zM936 984h8v8h-8z"/><path fill="#9f9f9f" d="M840 744h16v8h-16zM872 744h8v8h-8zM1016 744h8v8h-8zM1048 768h8v8h-8zM840 800h8v8h-8zM840 816h8v8h-8zM1080 888h8v8h-8zM856 928h8v8h-8zM1032 960h8v8h-8zM944 984h8v8h-8zM968 984h16v8h-16z"/><path fill="#a0a0a0" d="M992 736h8v8h-8zM856 744h16v8h-16zM904 744h8v8h-8zM832 752h8v8h-8zM880 752h8v8h-8zM832 760h8v8h-8zM832 768h8v8h-8zM832 776h8v8h-8zM832 784h8v8h-8zM840 792h8v8h-8zM1064 792h8v8h-8zM1072 808h8v8h-8zM840 824h8v8h-8zM1080 832h8v8h-8zM1080 880h8v8h-8zM848 912h8v8h-8zM1056 936h8v8h-8zM1040 952h8v8h-8zM1000 976h8v8h-8zM952 984h16v8h-16z"/><path fill="#a1a1a1" d="M928 736h8v8h-8zM840 752h8v8h-8zM872 752h8v8h-8zM888 752h8v8h-8zM1024 752h8v8h-8zM840 784h8v8h-8zM1080 840h8v8h-8zM1080 872h8v8h-8zM840 888h8v8h-8zM1072 904h8v8h-8zM864 936h8v8h-8zM1048 944h8v8h-8zM888 960h8v8h-8zM1016 968h8v8h-8zM920 976h8v8h-8z"/><path fill="#a2a2a2" d="M936 736h8v8h-8zM984 736h8v8h-8zM1008 744h8v8h-8zM848 752h24v8h-24zM840 760h8v8h-8zM864 760h16v8h-16zM840 768h8v8h-8zM840 776h8v8h-8zM848 784h8v8h-8zM1056 784h8v8h-8zM848 792h8v8h-8zM848 800h8v8h-8zM840 832h8v8h-8zM1080 848h8v8h-8zM1080 856h8v8h-8zM1080 864h8v8h-8zM840 880h8v8h-8zM1064 920h8v8h-8zM872 944h8v8h-8zM880 952h8v8h-8zM904 968h8v8h-8z"/><path fill="#a3a3a3" d="M976 736h8v8h-8zM912 744h8v8h-8zM896 752h8v8h-8zM848 760h16v8h-16zM880 760h8v8h-8zM1032 760h8v8h-8zM848 768h32v8h-32zM848 776h16v8h-16zM856 784h8v8h-8zM848 808h8v8h-8zM1072 816h8v8h-8zM840 840h8v8h-8zM840 872h8v8h-8zM848 904h8v8h-8zM856 920h8v8h-8zM928 976h8v8h-8zM992 976h8v8h-8z"/><path fill="#a4a4a4" d="M944 736h32v8h-32zM1040 768h8v8h-8zM864 776h8v8h-8zM1048 776h8v8h-8zM856 792h8v8h-8zM1064 800h8v8h-8zM840 848h8v8h-8zM840 856h8v8h-8zM840 864h8v8h-8zM1072 896h8v8h-8zM1056 928h8v8h-8zM1024 960h8v8h-8z"/><path fill="#a5a5a5" d="M1000 744h8v8h-8zM1016 752h8v8h-8zM888 760h8v8h-8zM848 816h8v8h-8zM1072 824h8v8h-8zM1064 912h8v8h-8zM1032 952h8v8h-8zM896 960h8v8h-8zM912 968h8v8h-8zM1008 968h8v8h-8zM936 976h8v8h-8zM984 976h8v8h-8z"/><path fill="#a6a6a6" d="M920 744h8v8h-8zM904 752h8v8h-8zM880 768h8v8h-8zM872 776h8v8h-8zM864 784h8v8h-8zM1072 888h8v8h-8zM848 896h8v8h-8zM864 928h8v8h-8zM1048 936h8v8h-8zM1040 944h8v8h-8zM944 976h8v8h-8zM976 976h8v8h-8z"/><path fill="#a7a7a7" d="M1056 792h8v8h-8zM856 800h8v8h-8zM848 824h8v8h-8zM1072 832h8v8h-8zM856 912h8v8h-8zM872 936h8v8h-8zM880 944h8v8h-8zM888 952h8v8h-8zM952 976h24v8h-24z"/><path fill="#a8a8a8" d="M928 744h8v8h-8zM992 744h8v8h-8zM1024 760h8v8h-8zM1064 808h8v8h-8zM1072 880h8v8h-8zM848 888h8v8h-8zM1016 960h8v8h-8zM920 968h8v8h-8zM1000 968h8v8h-8z"/><path fill="#a9a9a9" d="M1008 752h8v8h-8zM896 760h8v8h-8zM1032 768h8v8h-8zM1048 784h8v8h-8zM864 792h8v8h-8zM848 832h8v8h-8zM1072 840h8v8h-8zM1072 872h8v8h-8zM1064 904h8v8h-8zM1056 920h8v8h-8zM904 960h8v8h-8z"/><path fill="#aaaaaa" d="M936 744h8v8h-8zM984 744h8v8h-8zM912 752h8v8h-8zM1040 776h8v8h-8zM856 808h8v8h-8zM1072 848h8v8h-8zM1072 856h8v8h-8zM1072 864h8v8h-8zM848 880h8v8h-8zM864 920h8v8h-8zM1024 952h8v8h-8zM992 968h8v8h-8z"/><path fill="#ababab" d="M944 744h8v8h-8zM976 744h8v8h-8zM888 768h8v8h-8zM880 776h8v8h-8zM872 784h8v8h-8zM1056 800h8v8h-8zM1064 816h8v8h-8zM848 840h8v8h-8zM848 872h8v8h-8zM856 904h8v8h-8zM1048 928h8v8h-8zM928 968h8v8h-8z"/><path fill="#acacac" d="M952 744h24v8h-24zM1000 752h8v8h-8zM1016 760h8v8h-8zM848 848h8v8h-8zM848 856h8v8h-8zM848 864h8v8h-8zM1064 896h8v8h-8zM872 928h8v8h-8zM1040 936h8v8h-8zM1032 944h8v8h-8zM896 952h8v8h-8zM1008 960h8v8h-8z"/><path fill="#adadad" d="M920 752h8v8h-8zM904 760h8v8h-8zM864 800h8v8h-8zM856 816h8v8h-8zM1064 824h8v8h-8zM1056 912h8v8h-8zM880 936h8v8h-8zM888 944h8v8h-8zM912 960h8v8h-8zM936 968h8v8h-8zM984 968h8v8h-8z"/><path fill="#aeaeae" d="M1024 768h8v8h-8zM1048 792h8v8h-8zM1064 888h8v8h-8zM856 896h8v8h-8zM864 912h8v8h-8zM944 968h8v8h-8zM976 968h8v8h-8z"/><path fill="#afafaf" d="M992 752h8v8h-8zM1032 776h8v8h-8zM1040 784h8v8h-8zM1056 808h8v8h-8zM856 824h8v8h-8zM1016 952h8v8h-8zM1000 960h8v8h-8zM952 968h8v8h-8zM968 968h8v8h-8z"/><path fill="#b0b0b0" d="M928 752h8v8h-8zM1008 760h8v8h-8zM896 768h8v8h-8zM872 792h8v8h-8zM1064 832h8v8h-8zM1064 880h8v8h-8zM856 888h8v8h-8zM1056 904h8v8h-8zM1048 920h8v8h-8zM904 952h8v8h-8zM920 960h8v8h-8zM960 968h8v8h-8z"/><path fill="#b1b1b1" d="M912 760h8v8h-8zM888 776h8v8h-8zM880 784h8v8h-8zM864 808h8v8h-8zM1064 840h8v8h-8zM872 920h8v8h-8zM1040 928h8v8h-8zM1024 944h8v8h-8z"/><path fill="#b2b2b2" d="M936 752h8v8h-8zM984 752h8v8h-8zM1048 800h8v8h-8zM856 832h8v8h-8zM1064 848h8v8h-8zM1064 864h8v8h-8zM1064 872h8v8h-8zM856 880h8v8h-8zM864 904h8v8h-8zM1032 936h8v8h-8zM896 944h8v8h-8zM992 960h8v8h-8z"/><path fill="#b3b3b3" d="M976 752h8v8h-8zM1016 768h8v8h-8zM1056 816h8v8h-8zM856 840h8v8h-8zM1064 856h8v8h-8zM880 928h8v8h-8zM888 936h8v8h-8zM1008 952h8v8h-8zM928 960h8v8h-8z"/><path fill="#b4b4b4" d="M944 752h8v8h-8zM1000 760h8v8h-8zM872 800h8v8h-8zM856 848h8v8h-8zM856 872h8v8h-8zM1056 896h8v8h-8zM1048 912h8v8h-8zM912 952h8v8h-8z"/><path fill="#b5b5b5" d="M952 752h24v8h-24zM920 760h8v8h-8zM904 768h8v8h-8zM1024 776h8v8h-8zM1040 792h8v8h-8zM864 816h8v8h-8zM856 856h8v8h-8zM856 864h8v8h-8zM936 960h8v8h-8zM984 960h8v8h-8z"/><path fill="#b6b6b6" d="M1032 784h8v8h-8zM880 792h8v8h-8zM1056 824h8v8h-8zM864 896h8v8h-8zM872 912h8v8h-8zM1016 944h8v8h-8z"/><path fill="#b7b7b7" d="M992 760h8v8h-8zM896 776h8v8h-8zM888 784h8v8h-8zM1048 808h8v8h-8zM1056 888h8v8h-8zM1040 920h8v8h-8zM904 944h8v8h-8zM1000 952h8v8h-8zM944 960h8v8h-8zM976 960h8v8h-8z"/><path fill="#b8b8b8" d="M928 760h8v8h-8zM1008 768h8v8h-8zM864 824h8v8h-8zM1056 832h8v8h-8zM1048 904h8v8h-8zM880 920h8v8h-8zM1032 928h8v8h-8zM1024 936h8v8h-8zM920 952h8v8h-8zM952 960h24v8h-24z"/><path fill="#b9b9b9" d="M912 768h8v8h-8zM872 808h8v8h-8zM1056 880h8v8h-8zM864 888h8v8h-8zM896 936h8v8h-8z"/><path fill="#bababa" d="M984 760h8v8h-8zM1040 800h8v8h-8zM864 832h8v8h-8zM1056 840h8v8h-8zM1056 872h8v8h-8zM872 904h8v8h-8zM888 928h8v8h-8z"/><path fill="#bbbbbb" d="M936 760h8v8h-8zM1016 776h8v8h-8zM1048 816h8v8h-8zM1056 848h8v8h-8zM1056 864h8v8h-8zM864 880h8v8h-8zM1008 944h8v8h-8zM928 952h8v8h-8zM992 952h8v8h-8z"/><path fill="#bcbcbc" d="M944 760h8v8h-8zM976 760h8v8h-8zM1000 768h8v8h-8zM904 776h8v8h-8zM1024 784h8v8h-8zM1032 792h8v8h-8zM880 800h8v8h-8zM864 840h8v8h-8zM1056 856h8v8h-8zM1048 896h8v8h-8zM1040 912h8v8h-8zM912 944h8v8h-8z"/><path fill="#bdbdbd" d="M952 760h8v8h-8zM968 760h8v8h-8zM920 768h8v8h-8zM896 784h8v8h-8zM888 792h8v8h-8zM872 816h8v8h-8zM864 848h8v8h-8zM864 872h8v8h-8zM1016 936h8v8h-8zM984 952h8v8h-8z"/><path fill="#bebebe" d="M960 760h8v8h-8zM1048 824h8v8h-8zM864 856h8v8h-8zM864 864h8v8h-8zM872 896h8v8h-8zM880 912h8v8h-8zM1032 920h8v8h-8zM1024 928h8v8h-8zM936 952h8v8h-8z"/><path fill="#bfbfbf" d="M1040 808h8v8h-8zM1048 888h8v8h-8zM888 920h8v8h-8zM904 936h8v8h-8zM1000 944h8v8h-8zM976 952h8v8h-8z"/><path fill="#c0c0c0" d="M928 768h8v8h-8zM992 768h8v8h-8zM1008 776h8v8h-8zM872 824h8v8h-8zM1040 904h8v8h-8zM896 928h8v8h-8zM920 944h8v8h-8zM944 952h8v8h-8zM968 952h8v8h-8z"/><path fill="#c1c1c1" d="M912 776h8v8h-8zM1032 800h8v8h-8zM880 808h8v8h-8zM1048 832h8v8h-8zM872 888h8v8h-8zM952 952h16v8h-16z"/><path fill="#c2c2c2" d="M1016 784h8v8h-8zM1024 792h8v8h-8zM1048 880h8v8h-8zM880 904h8v8h-8zM1008 936h8v8h-8z"/><path fill="#c3c3c3" d="M936 768h8v8h-8zM984 768h8v8h-8zM904 784h8v8h-8zM888 800h8v8h-8zM1040 816h8v8h-8zM872 832h8v8h-8zM1048 840h8v8h-8zM1048 872h8v8h-8zM1032 912h8v8h-8zM992 944h8v8h-8z"/><path fill="#c4c4c4" d="M1000 776h8v8h-8zM896 792h8v8h-8zM1048 848h8v8h-8zM1048 864h8v8h-8zM872 880h8v8h-8zM1040 896h8v8h-8zM1024 920h8v8h-8zM1016 928h8v8h-8zM912 936h8v8h-8zM928 944h8v8h-8z"/><path fill="#c5c5c5" d="M944 768h8v8h-8zM976 768h8v8h-8zM920 776h8v8h-8zM880 816h8v8h-8zM872 840h8v8h-8zM1048 856h8v8h-8zM888 912h8v8h-8z"/><path fill="#c6c6c6" d="M952 768h24v8h-24zM1032 808h8v8h-8zM1040 824h8v8h-8zM872 848h8v8h-8zM872 864h8v8h-8zM872 872h8v8h-8zM880 896h8v8h-8zM896 920h8v8h-8zM904 928h8v8h-8zM936 944h8v8h-8zM984 944h8v8h-8z"/><path fill="#c7c7c7" d="M1008 784h8v8h-8zM872 856h8v8h-8zM1000 936h8v8h-8z"/><path fill="#c8c8c8" d="M992 776h8v8h-8zM912 784h8v8h-8zM1016 792h8v8h-8zM1024 800h8v8h-8zM888 808h8v8h-8zM880 824h8v8h-8zM1040 888h8v8h-8zM1032 904h8v8h-8zM920 936h8v8h-8zM944 944h8v8h-8zM976 944h8v8h-8z"/><path fill="#c9c9c9" d="M928 776h8v8h-8zM1040 832h8v8h-8zM1008 928h8v8h-8zM952 944h8v8h-8zM968 944h8v8h-8z"/><path fill="#cacaca" d="M904 792h8v8h-8zM896 800h8v8h-8zM1032 816h8v8h-8zM1040 880h8v8h-8zM880 888h8v8h-8zM888 904h8v8h-8zM1024 912h8v8h-8zM1016 920h8v8h-8zM960 944h8v8h-8z"/><path fill="#cbcbcb" d="M936 776h8v8h-8zM984 776h8v8h-8zM1000 784h8v8h-8zM880 832h8v8h-8zM1040 840h8v8h-8zM912 928h8v8h-8zM928 936h8v8h-8zM992 936h8v8h-8z"/><path fill="#cccccc" d="M920 784h8v8h-8zM888 816h8v8h-8zM1040 848h8v8h-8zM1040 872h8v8h-8zM880 880h8v8h-8zM1032 896h8v8h-8zM896 912h8v8h-8zM904 920h8v8h-8z"/><path fill="#cdcdcd" d="M944 776h8v8h-8zM976 776h8v8h-8zM1008 792h8v8h-8zM1024 808h8v8h-8zM880 840h8v8h-8zM1040 856h8v8h-8zM1040 864h8v8h-8zM984 936h8v8h-8z"/><path fill="#cecece" d="M952 776h24v8h-24zM1016 800h8v8h-8zM1032 824h8v8h-8zM880 848h8v8h-8zM880 872h8v8h-8zM888 896h8v8h-8zM1000 928h8v8h-8zM936 936h8v8h-8z"/><path fill="#cfcfcf" d="M992 784h8v8h-8zM912 792h8v8h-8zM904 800h8v8h-8zM896 808h8v8h-8zM880 856h8v8h-8zM880 864h8v8h-8zM1032 888h8v8h-8zM1024 904h8v8h-8zM920 928h8v8h-8z"/><path fill="#d0d0d0" d="M928 784h8v8h-8zM888 824h8v8h-8zM896 904h8v8h-8zM1016 912h8v8h-8zM1008 920h8v8h-8zM944 936h8v8h-8zM976 936h8v8h-8z"/><path fill="#d1d1d1" d="M1024 816h8v8h-8zM1032 832h8v8h-8zM888 888h8v8h-8zM904 912h8v8h-8zM912 920h8v8h-8zM952 936h24v8h-24z"/><path fill="#d2d2d2" d="M984 784h8v8h-8zM1000 792h8v8h-8zM1032 880h8v8h-8zM928 928h8v8h-8zM992 928h8v8h-8z"/><path fill="#d3d3d3" d="M936 784h8v8h-8zM920 792h8v8h-8zM1008 800h8v8h-8zM1016 808h8v8h-8zM896 816h8v8h-8zM888 832h8v8h-8zM1032 840h8v8h-8zM1032 872h8v8h-8zM888 880h8v8h-8zM1024 896h8v8h-8z"/><path fill="#d4d4d4" d="M944 784h8v8h-8zM976 784h8v8h-8zM912 800h8v8h-8zM904 808h8v8h-8zM1032 848h8v8h-8zM1032 864h8v8h-8zM896 896h8v8h-8zM1000 920h8v8h-8zM984 928h8v8h-8z"/><path fill="#d5d5d5" d="M952 784h8v8h-8zM968 784h8v8h-8zM1024 824h8v8h-8zM888 840h8v8h-8zM1032 856h8v8h-8zM888 872h8v8h-8zM1016 904h8v8h-8zM1008 912h8v8h-8zM920 920h8v8h-8zM936 928h8v8h-8z"/><path fill="#d6d6d6" d="M960 784h8v8h-8zM928 792h8v8h-8zM992 792h8v8h-8zM896 824h8v8h-8zM888 848h8v8h-8zM888 856h8v8h-8zM888 864h8v8h-8zM1024 888h8v8h-8zM904 904h8v8h-8zM912 912h8v8h-8zM976 928h8v8h-8z"/><path fill="#d7d7d7" d="M1016 816h8v8h-8zM944 928h8v8h-8z"/><path fill="#d8d8d8" d="M984 792h8v8h-8zM1000 800h8v8h-8zM1008 808h8v8h-8zM1024 832h8v8h-8zM1024 880h8v8h-8zM896 888h8v8h-8zM992 920h8v8h-8zM952 928h24v8h-24z"/><path fill="#d9d9d9" d="M936 792h8v8h-8zM920 800h8v8h-8zM912 808h8v8h-8zM904 816h8v8h-8zM896 832h8v8h-8zM1016 896h8v8h-8zM928 920h8v8h-8z"/><path fill="#dadada" d="M1024 840h8v8h-8zM1024 872h8v8h-8zM896 880h8v8h-8zM904 896h8v8h-8zM1008 904h8v8h-8zM1000 912h8v8h-8z"/><path fill="#dbdbdb" d="M944 792h8v8h-8zM976 792h8v8h-8zM992 800h8v8h-8zM1016 824h8v8h-8zM896 840h8v8h-8zM1024 848h8v8h-8zM1024 856h8v8h-8zM1024 864h8v8h-8zM912 904h8v8h-8zM920 912h8v8h-8zM936 920h8v8h-8zM984 920h8v8h-8z"/><path fill="#dcdcdc" d="M952 792h24v8h-24zM928 800h8v8h-8zM904 824h8v8h-8zM896 872h8v8h-8zM1016 888h8v8h-8z"/><path fill="#dddddd" d="M1000 808h8v8h-8zM1008 816h8v8h-8zM896 848h8v8h-8zM896 856h8v8h-8zM896 864h8v8h-8zM904 888h8v8h-8zM992 912h8v8h-8zM944 920h8v8h-8zM976 920h8v8h-8z"/><path fill="#dedede" d="M984 800h8v8h-8zM920 808h8v8h-8zM912 816h8v8h-8zM1016 832h8v8h-8zM1008 896h8v8h-8zM928 912h8v8h-8zM952 920h8v8h-8zM968 920h8v8h-8z"/><path fill="#dfdfdf" d="M936 800h8v8h-8zM904 832h8v8h-8zM1016 880h8v8h-8zM912 896h8v8h-8zM1000 904h8v8h-8zM960 920h8v8h-8z"/><path fill="#e0e0e0" d="M1008 824h8v8h-8zM1016 840h8v8h-8zM904 880h8v8h-8zM920 904h8v8h-8z"/><path fill="#e1e1e1" d="M944 800h8v8h-8zM976 800h8v8h-8zM992 808h8v8h-8zM1000 816h8v8h-8zM904 840h8v8h-8zM1016 848h8v8h-8zM1016 872h8v8h-8zM936 912h8v8h-8zM984 912h8v8h-8z"/><path fill="#e2e2e2" d="M952 800h8v8h-8zM968 800h8v8h-8zM928 808h8v8h-8zM912 824h8v8h-8zM1016 856h8v8h-8zM1016 864h8v8h-8zM904 872h8v8h-8zM1008 888h8v8h-8z"/><path fill="#e3e3e3" d="M960 800h8v8h-8zM920 816h8v8h-8zM904 848h8v8h-8zM904 864h8v8h-8zM912 888h8v8h-8zM1000 896h8v8h-8zM992 904h8v8h-8zM944 912h8v8h-8zM976 912h8v8h-8z"/><path fill="#e4e4e4" d="M984 808h8v8h-8zM1008 832h8v8h-8zM904 856h8v8h-8zM920 896h8v8h-8zM928 904h8v8h-8zM968 912h8v8h-8z"/><path fill="#e5e5e5" d="M936 808h8v8h-8zM912 832h8v8h-8zM1008 880h8v8h-8zM952 912h16v8h-16z"/><path fill="#e6e6e6" d="M992 816h8v8h-8zM1000 824h8v8h-8zM1008 840h8v8h-8zM912 880h8v8h-8zM984 904h8v8h-8z"/><path fill="#e7e7e7" d="M944 808h8v8h-8zM976 808h8v8h-8zM928 816h8v8h-8zM920 824h8v8h-8zM912 840h8v8h-8zM1008 872h8v8h-8zM1000 888h8v8h-8zM992 896h8v8h-8zM936 904h8v8h-8z"/><path fill="#e8e8e8" d="M952 808h8v8h-8zM968 808h8v8h-8zM1008 848h8v8h-8zM1008 856h8v8h-8zM1008 864h8v8h-8zM912 872h8v8h-8zM920 888h8v8h-8zM928 896h8v8h-8z"/><path fill="#e9e9e9" d="M960 808h8v8h-8zM984 816h8v8h-8zM1000 832h8v8h-8zM912 848h8v8h-8zM912 864h8v8h-8zM944 904h8v8h-8zM976 904h8v8h-8z"/><path fill="#eaeaea" d="M936 816h8v8h-8zM992 824h8v8h-8zM920 832h8v8h-8zM912 856h8v8h-8zM1000 880h8v8h-8zM968 904h8v8h-8z"/><path fill="#ebebeb" d="M928 824h8v8h-8zM984 896h8v8h-8zM952 904h16v8h-16z"/><path fill="#ececec" d="M976 816h8v8h-8zM1000 840h8v8h-8zM920 880h8v8h-8zM992 888h8v8h-8zM936 896h8v8h-8z"/><path fill="#ededed" d="M944 816h8v8h-8zM920 840h8v8h-8zM1000 848h8v8h-8zM1000 872h8v8h-8zM928 888h8v8h-8z"/><path fill="#eeeeee" d="M952 816h8v8h-8zM968 816h8v8h-8zM984 824h8v8h-8zM992 832h8v8h-8zM1000 856h8v8h-8zM1000 864h8v8h-8zM920 872h8v8h-8zM976 896h8v8h-8z"/><path fill="#efefef" d="M960 816h8v8h-8zM936 824h8v8h-8zM928 832h8v8h-8zM920 848h8v8h-8zM920 864h8v8h-8zM992 880h8v8h-8zM944 896h8v8h-8z"/><path fill="#f0f0f0" d="M920 856h8v8h-8zM928 880h8v8h-8zM984 888h8v8h-8zM952 896h8v8h-8zM968 896h8v8h-8z"/><path fill="#f1f1f1" d="M976 824h8v8h-8zM992 840h8v8h-8zM936 888h8v8h-8zM960 896h8v8h-8z"/><path fill="#f2f2f2" d="M944 824h8v8h-8zM984 832h8v8h-8zM928 840h8v8h-8zM992 872h8v8h-8z"/><path fill="#f3f3f3" d="M952 824h8v8h-8zM968 824h8v8h-8zM936 832h8v8h-8zM992 848h8v8h-8zM992 856h8v8h-8zM992 864h8v8h-8zM928 872h8v8h-8zM984 880h8v8h-8zM944 888h8v8h-8zM976 888h8v8h-8z"/><path fill="#f4f4f4" d="M960 824h8v8h-8zM928 848h8v8h-8zM928 864h8v8h-8zM936 880h8v8h-8z"/><path fill="#f5f5f5" d="M976 832h8v8h-8zM984 840h8v8h-8zM928 856h8v8h-8zM952 888h24v8h-24z"/><path fill="#f6f6f6" d="M944 832h8v8h-8zM936 840h8v8h-8zM984 872h8v8h-8z"/><path fill="#f7f7f7" d="M952 832h8v8h-8zM968 832h8v8h-8zM984 848h8v8h-8zM936 872h8v8h-8zM944 880h8v8h-8zM976 880h8v8h-8z"/><path fill="#f8f8f8" d="M960 832h8v8h-8zM976 840h8v8h-8zM936 848h8v8h-8zM984 856h8v8h-8zM936 864h8v8h-8zM984 864h8v8h-8z"/><path fill="#f9f9f9" d="M944 840h8v8h-8zM936 856h8v8h-8zM976 872h8v8h-8zM952 880h24v8h-24z"/><path fill="#fafafa" d="M968 840h8v8h-8zM976 848h8v8h-8zM944 872h8v8h-8z"/><path fill="#fbfbfb" d="M952 840h16v8h-16zM944 848h8v8h-8zM976 856h8v8h-8zM944 864h8v8h-8zM976 864h8v8h-8zM968 872h8v8h-8z"/><path fill="#fcfcfc" d="M968 848h8v8h-8zM944 856h8v8h-8zM952 872h16v8h-16z"/><path fill="#fdfdfd" d="M952 848h16v8h-16zM952 856h8v8h-8zM968 856h8v8h-8zM952 864h8v8h-8zM968 864h8v8h-8z"/><path fill="#fefefe" d="M960 856h8v8h-8zM960 864h8v8h-8z"/></g>
</g>
<g clip-path="url(#clC1)">
<rect x="1271.6" y="616.2" width="439.60000000000014" height="438.39999999999986" fill="#3e26a8"/><radialGradient id="rgf" gradientUnits="userSpaceOnUse" cx="1540.4" cy="863" r="60"><stop offset="0" stop-color="#f9fb15"/><stop offset="0.35" stop-color="#f6f020"/><stop offset="0.7" stop-color="#f9d82c"/><stop offset="1" stop-color="#fec13a"/></radialGradient><path d="M1535.4 806.4C1528.7 807.0 1518.2 808.3 1511.5 811.4C1504.8 814.5 1499.2 820.4 1495.2 825.2C1491.2 830.0 1489.1 835.7 1487.6 840.3C1486.1 844.9 1486.0 847.6 1486.4 852.9C1486.8 858.1 1488.4 865.5 1490.1 871.8C1491.8 878.1 1493.5 884.3 1496.4 890.6C1499.3 896.9 1503.3 904.5 1507.7 909.5C1512.1 914.5 1517.3 918.4 1522.8 920.8C1528.2 923.2 1534.1 924.6 1540.4 924.0C1546.7 923.4 1554.5 920.5 1560.6 917.0C1566.7 913.5 1572.5 908.7 1576.9 903.2C1581.3 897.8 1584.6 890.6 1587.0 884.3C1589.4 878.0 1591.0 871.8 1591.4 865.5C1591.8 859.2 1591.3 852.9 1589.5 846.6C1587.7 840.3 1584.7 833.2 1580.7 827.7C1576.7 822.2 1570.4 817.2 1565.6 813.9C1560.8 810.5 1556.8 808.9 1551.8 807.6C1546.8 806.4 1542.1 805.8 1535.4 806.4Z" fill="url(#rgf)"/>
</g>
<g font-family="'Liberation Serif','Times New Roman',serif" fill="#000">
<text x="109.6" y="494.7" font-size="32" text-anchor="middle">0</text>
<text x="100.6" y="473.5" font-size="32" text-anchor="end">0</text>
<text x="256.17" y="494.7" font-size="32" text-anchor="middle">300</text>
<text x="100.6" y="327.3" font-size="32" text-anchor="end">300</text>
<text x="402.73" y="494.7" font-size="32" text-anchor="middle">600</text>
<text x="100.6" y="181.1" font-size="32" text-anchor="end">600</text>
<text x="549.3" y="494.7" font-size="32" text-anchor="middle">900</text>
<text x="100.6" y="34.9" font-size="32" text-anchor="end">900</text>
<text x="329.45" y="539.9" font-size="35" font-weight="bold" text-anchor="middle">X−axis (mm)</text>
<text x="35.6" y="241.9" font-size="35" font-weight="bold" text-anchor="middle" transform="rotate(-90 35.6 241.9)">Y−axis (mm)</text>
<text x="695.7" y="494.7" font-size="32" text-anchor="middle">250</text>
<text x="686.7" y="473.5" font-size="32" text-anchor="end">250</text>
<text x="805.58" y="494.7" font-size="32" text-anchor="middle">350</text>
<text x="686.7" y="363.85" font-size="32" text-anchor="end">350</text>
<text x="915.45" y="494.7" font-size="32" text-anchor="middle">450</text>
<text x="686.7" y="254.2" font-size="32" text-anchor="end">450</text>
<text x="1025.33" y="494.7" font-size="32" text-anchor="middle">550</text>
<text x="686.7" y="144.55" font-size="32" text-anchor="end">550</text>
<text x="1135.2" y="494.7" font-size="32" text-anchor="middle">650</text>
<text x="686.7" y="34.9" font-size="32" text-anchor="end">650</text>
<text x="915.45" y="539.9" font-size="35" font-weight="bold" text-anchor="middle">X−axis (mm)</text>
<text x="621.7" y="241.9" font-size="35" font-weight="bold" text-anchor="middle" transform="rotate(-90 621.7 241.9)">Y−axis (mm)</text>
<text x="1271.6" y="494.7" font-size="32" text-anchor="middle">250</text>
<text x="1262.6" y="473.5" font-size="32" text-anchor="end">250</text>
<text x="1381.5" y="494.7" font-size="32" text-anchor="middle">350</text>
<text x="1262.6" y="363.85" font-size="32" text-anchor="end">350</text>
<text x="1491.4" y="494.7" font-size="32" text-anchor="middle">450</text>
<text x="1262.6" y="254.2" font-size="32" text-anchor="end">450</text>
<text x="1601.3" y="494.7" font-size="32" text-anchor="middle">550</text>
<text x="1262.6" y="144.55" font-size="32" text-anchor="end">550</text>
<text x="1711.2" y="494.7" font-size="32" text-anchor="middle">650</text>
<text x="1262.6" y="34.9" font-size="32" text-anchor="end">650</text>
<text x="1491.4" y="539.9" font-size="35" font-weight="bold" text-anchor="middle">X−axis (mm)</text>
<text x="1197.6" y="241.9" font-size="35" font-weight="bold" text-anchor="middle" transform="rotate(-90 1197.6 241.9)">Y−axis (mm)</text>
<text x="329.45" y="583.2" font-size="34.7" font-weight="bold" text-anchor="middle">(a) Global image of D1</text>
<text x="915.45" y="583.2" font-size="34.7" font-weight="bold" text-anchor="middle">(b) Local image of D1</text>
<text x="1491.4" y="583.2" font-size="34.7" font-weight="bold" text-anchor="middle">(c) Local image (-1.2dB) of D1</text>
<text x="1805.5" y="473.7" font-size="32" text-anchor="start">0.0</text>
<text x="1805.5" y="385.98" font-size="32" text-anchor="start">0.2</text>
<text x="1805.5" y="298.26" font-size="32" text-anchor="start">0.4</text>
<text x="1805.5" y="210.54" font-size="32" text-anchor="start">0.6</text>
<text x="1805.5" y="122.82" font-size="32" text-anchor="start">0.8</text>
<text x="1805.5" y="35.1" font-size="32" text-anchor="start">1.0</text>
<text x="109.6" y="1088.1" font-size="32" text-anchor="middle">0</text>
<text x="100.6" y="1066.9" font-size="32" text-anchor="end">0</text>
<text x="256.17" y="1088.1" font-size="32" text-anchor="middle">300</text>
<text x="100.6" y="920.77" font-size="32" text-anchor="end">300</text>
<text x="402.73" y="1088.1" font-size="32" text-anchor="middle">600</text>
<text x="100.6" y="774.63" font-size="32" text-anchor="end">600</text>
<text x="549.3" y="1088.1" font-size="32" text-anchor="middle">900</text>
<text x="100.6" y="628.5" font-size="32" text-anchor="end">900</text>
<text x="329.45" y="1133.3" font-size="35" font-weight="bold" text-anchor="middle">X−axis (mm)</text>
<text x="35.6" y="835.4" font-size="35" font-weight="bold" text-anchor="middle" transform="rotate(-90 35.6 835.4)">Y−axis (mm)</text>
<text x="695.7" y="1088.1" font-size="32" text-anchor="middle">250</text>
<text x="686.7" y="1066.9" font-size="32" text-anchor="end">250</text>
<text x="805.58" y="1088.1" font-size="32" text-anchor="middle">350</text>
<text x="686.7" y="957.3" font-size="32" text-anchor="end">350</text>
<text x="915.45" y="1088.1" font-size="32" text-anchor="middle">450</text>
<text x="686.7" y="847.7" font-size="32" text-anchor="end">450</text>
<text x="1025.33" y="1088.1" font-size="32" text-anchor="middle">550</text>
<text x="686.7" y="738.1" font-size="32" text-anchor="end">550</text>
<text x="1135.2" y="1088.1" font-size="32" text-anchor="middle">650</text>
<text x="686.7" y="628.5" font-size="32" text-anchor="end">650</text>
<text x="915.45" y="1133.3" font-size="35" font-weight="bold" text-anchor="middle">X−axis (mm)</text>
<text x="621.7" y="835.4" font-size="35" font-weight="bold" text-anchor="middle" transform="rotate(-90 621.7 835.4)">Y−axis (mm)</text>
<text x="1271.6" y="1088.1" font-size="32" text-anchor="middle">250</text>
<text x="1262.6" y="1066.9" font-size="32" text-anchor="end">250</text>
<text x="1381.5" y="1088.1" font-size="32" text-anchor="middle">350</text>
<text x="1262.6" y="957.3" font-size="32" text-anchor="end">350</text>
<text x="1491.4" y="1088.1" font-size="32" text-anchor="middle">450</text>
<text x="1262.6" y="847.7" font-size="32" text-anchor="end">450</text>
<text x="1601.3" y="1088.1" font-size="32" text-anchor="middle">550</text>
<text x="1262.6" y="738.1" font-size="32" text-anchor="end">550</text>
<text x="1711.2" y="1088.1" font-size="32" text-anchor="middle">650</text>
<text x="1262.6" y="628.5" font-size="32" text-anchor="end">650</text>
<text x="1491.4" y="1133.3" font-size="35" font-weight="bold" text-anchor="middle">X−axis (mm)</text>
<text x="1197.6" y="835.4" font-size="35" font-weight="bold" text-anchor="middle" transform="rotate(-90 1197.6 835.4)">Y−axis (mm)</text>
<text x="329.45" y="1176.6" font-size="34.7" font-weight="bold" text-anchor="middle">(d) Global image of D2</text>
<text x="915.45" y="1176.6" font-size="34.7" font-weight="bold" text-anchor="middle">(e) Local image of D2</text>
<text x="1491.4" y="1176.6" font-size="34.7" font-weight="bold" text-anchor="middle">(f) Local image (-1.2dB) of D2</text>
<text x="1805.5" y="1067.1" font-size="32" text-anchor="start">0.0</text>
<text x="1805.5" y="979.42" font-size="32" text-anchor="start">0.2</text>
<text x="1805.5" y="891.74" font-size="32" text-anchor="start">0.4</text>
<text x="1805.5" y="804.06" font-size="32" text-anchor="start">0.6</text>
<text x="1805.5" y="716.38" font-size="32" text-anchor="start">0.8</text>
<text x="1805.5" y="628.7" font-size="32" text-anchor="start">1.0</text>
</g>
<rect x="1763" y="22.6" width="27" height="438.6" fill="url(#cbg)"/>
<rect x="1763" y="616.2" width="27" height="438.4" fill="url(#cbg)"/>
<path d="M750.64 461.2v-4M750.64 22.6v4M695.7 406.38h4M1135.2 406.38h-4M805.58 461.2v-4M805.58 22.6v4M695.7 351.55h4M1135.2 351.55h-4M860.51 461.2v-4M860.51 22.6v4M695.7 296.73h4M1135.2 296.73h-4M915.45 461.2v-4M915.45 22.6v4M695.7 241.9h4M1135.2 241.9h-4M970.39 461.2v-4M970.39 22.6v4M695.7 187.07h4M1135.2 187.07h-4M1025.33 461.2v-4M1025.33 22.6v4M695.7 132.25h4M1135.2 132.25h-4M1080.26 461.2v-4M1080.26 22.6v4M695.7 77.43h4M1135.2 77.43h-4M1326.55 461.2v-4M1326.55 22.6v4M1271.6 406.38h4M1711.2 406.38h-4M1381.5 461.2v-4M1381.5 22.6v4M1271.6 351.55h4M1711.2 351.55h-4M1436.45 461.2v-4M1436.45 22.6v4M1271.6 296.73h4M1711.2 296.73h-4M1491.4 461.2v-4M1491.4 22.6v4M1271.6 241.9h4M1711.2 241.9h-4M1546.35 461.2v-4M1546.35 22.6v4M1271.6 187.07h4M1711.2 187.07h-4M1601.3 461.2v-4M1601.3 22.6v4M1271.6 132.25h4M1711.2 132.25h-4M1656.25 461.2v-4M1656.25 22.6v4M1271.6 77.43h4M1711.2 77.43h-4M1763 417.34h6M1790 417.34h-6M1763 373.48h6M1790 373.48h-6M1763 329.62h6M1790 329.62h-6M1763 285.76h6M1790 285.76h-6M1763 241.9h6M1790 241.9h-6M1763 198.04h6M1790 198.04h-6M1763 154.18h6M1790 154.18h-6M1763 110.32h6M1790 110.32h-6M1763 66.46h6M1790 66.46h-6M750.64 1054.6v-4M750.64 616.2v4M695.7 999.8h4M1135.2 999.8h-4M805.58 1054.6v-4M805.58 616.2v4M695.7 945h4M1135.2 945h-4M860.51 1054.6v-4M860.51 616.2v4M695.7 890.2h4M1135.2 890.2h-4M915.45 1054.6v-4M915.45 616.2v4M695.7 835.4h4M1135.2 835.4h-4M970.39 1054.6v-4M970.39 616.2v4M695.7 780.6h4M1135.2 780.6h-4M1025.33 1054.6v-4M1025.33 616.2v4M695.7 725.8h4M1135.2 725.8h-4M1080.26 1054.6v-4M1080.26 616.2v4M695.7 671h4M1135.2 671h-4M1326.55 1054.6v-4M1326.55 616.2v4M1271.6 999.8h4M1711.2 999.8h-4M1381.5 1054.6v-4M1381.5 616.2v4M1271.6 945h4M1711.2 945h-4M1436.45 1054.6v-4M1436.45 616.2v4M1271.6 890.2h4M1711.2 890.2h-4M1491.4 1054.6v-4M1491.4 616.2v4M1271.6 835.4h4M1711.2 835.4h-4M1546.35 1054.6v-4M1546.35 616.2v4M1271.6 780.6h4M1711.2 780.6h-4M1601.3 1054.6v-4M1601.3 616.2v4M1271.6 725.8h4M1711.2 725.8h-4M1656.25 1054.6v-4M1656.25 616.2v4M1271.6 671h4M1711.2 671h-4M1763 1010.76h6M1790 1010.76h-6M1763 966.92h6M1790 966.92h-6M1763 923.08h6M1790 923.08h-6M1763 879.24h6M1790 879.24h-6M1763 835.4h6M1790 835.4h-6M1763 791.56h6M1790 791.56h-6M1763 747.72h6M1790 747.72h-6M1763 703.88h6M1790 703.88h-6M1763 660.04h6M1790 660.04h-6" stroke="#111" stroke-width="1.5" fill="none" opacity="0.8"/>
<path d="M158.46 461.2v-3M158.46 22.6v3M109.6 412.47h3M549.3 412.47h-3M207.31 461.2v-3M207.31 22.6v3M109.6 363.73h3M549.3 363.73h-3M256.17 461.2v-3M256.17 22.6v3M109.6 315h3M549.3 315h-3M305.02 461.2v-3M305.02 22.6v3M109.6 266.27h3M549.3 266.27h-3M353.88 461.2v-3M353.88 22.6v3M109.6 217.53h3M549.3 217.53h-3M402.73 461.2v-3M402.73 22.6v3M109.6 168.8h3M549.3 168.8h-3M451.59 461.2v-3M451.59 22.6v3M109.6 120.07h3M549.3 120.07h-3M500.44 461.2v-3M500.44 22.6v3M109.6 71.33h3M549.3 71.33h-3M158.46 1054.6v-3M158.46 616.2v3M109.6 1005.89h3M549.3 1005.89h-3M207.31 1054.6v-3M207.31 616.2v3M109.6 957.18h3M549.3 957.18h-3M256.17 1054.6v-3M256.17 616.2v3M109.6 908.47h3M549.3 908.47h-3M305.02 1054.6v-3M305.02 616.2v3M109.6 859.76h3M549.3 859.76h-3M353.88 1054.6v-3M353.88 616.2v3M109.6 811.04h3M549.3 811.04h-3M402.73 1054.6v-3M402.73 616.2v3M109.6 762.33h3M549.3 762.33h-3M451.59 1054.6v-3M451.59 616.2v3M109.6 713.62h3M549.3 713.62h-3M500.44 1054.6v-3M500.44 616.2v3M109.6 664.91h3M549.3 664.91h-3" stroke="#111" stroke-width="1.2" fill="none" opacity="0.25"/>
<rect x="109.6" y="22.6" width="439.7" height="438.6" fill="none" stroke="#15131f" stroke-width="2.0"/>
<rect x="695.7" y="22.6" width="439.5" height="438.6" fill="none" stroke="#15131f" stroke-width="2.0"/>
<rect x="1271.6" y="22.6" width="439.6" height="438.6" fill="none" stroke="#15131f" stroke-width="2.0"/>
<rect x="1763" y="22.6" width="27" height="438.6" fill="none" stroke="#15131f" stroke-width="2.0"/>
<rect x="109.6" y="616.2" width="439.7" height="438.4" fill="none" stroke="#15131f" stroke-width="2.0"/>
<rect x="695.7" y="616.2" width="439.5" height="438.4" fill="none" stroke="#15131f" stroke-width="2.0"/>
<rect x="1271.6" y="616.2" width="439.6" height="438.4" fill="none" stroke="#15131f" stroke-width="2.0"/>
<rect x="1763" y="616.2" width="27" height="438.4" fill="none" stroke="#15131f" stroke-width="2.0"/>
<path d="M236.6 145.1H427.5" stroke="#fff" stroke-width="2.6" stroke-dasharray="11.5 10.4" fill="none"/>
<path d="M231.4 150.5V338.3" stroke="#fff" stroke-width="2.6" stroke-dasharray="11.5 10.4" fill="none"/>
<path d="M427.5 152.2V339.6" stroke="#fff" stroke-width="2.6" stroke-dasharray="11.5 10.4" fill="none"/>
<path d="M240.2 338.3H428.8" stroke="#fff" stroke-width="2.6" stroke-dasharray="11.5 10.4" fill="none"/>
<path d="M427.5 221.9H566" stroke="#111" stroke-width="1.6" fill="none"/>
<path d="M584.1 221.9L562.4 217.1L565 221.9L562.4 226.7Z" fill="#000"/>
<rect x="440" y="234.6" width="131.2" height="49.2" fill="#fff" stroke="#333" stroke-width="1.6"/>
<text x="509" y="267" font-family="'Liberation Serif','Times New Roman',serif" font-size="27" text-anchor="middle">Zoom in</text>
<rect x="1503" y="22.6" width="208.2" height="76.9" fill="#fff" stroke="#222" stroke-width="1.6"/>
<text x="1610" y="52.3" font-family="'Liberation Serif','Times New Roman',serif" font-size="27" text-anchor="middle">Location error:</text>
<text x="1610" y="84.6" font-family="'Liberation Serif','Times New Roman',serif" font-size="27" text-anchor="middle">7 mm</text>
<path d="M237.8 738.2H427.5" stroke="#fff" stroke-width="2.6" stroke-dasharray="11.5 10.4" fill="none"/>
<path d="M231.4 741.8V930.2" stroke="#fff" stroke-width="2.6" stroke-dasharray="11.5 10.4" fill="none"/>
<path d="M427.5 745.3V931.5" stroke="#fff" stroke-width="2.6" stroke-dasharray="11.5 10.4" fill="none"/>
<path d="M240.2 930.2H428.8" stroke="#fff" stroke-width="2.6" stroke-dasharray="11.5 10.4" fill="none"/>
<path d="M427.5 815.5H566" stroke="#111" stroke-width="1.6" fill="none"/>
<path d="M584.1 815.5L562.4 810.7L565 815.5L562.4 820.3Z" fill="#000"/>
<rect x="440" y="828.2" width="131.2" height="49.2" fill="#fff" stroke="#333" stroke-width="1.6"/>
<text x="509" y="860.6" font-family="'Liberation Serif','Times New Roman',serif" font-size="27" text-anchor="middle">Zoom in</text>
<rect x="1503" y="616.2" width="208.2" height="76.9" fill="#fff" stroke="#222" stroke-width="1.6"/>
<text x="1610" y="645.9" font-family="'Liberation Serif','Times New Roman',serif" font-size="27" text-anchor="middle">Location error:</text>
<text x="1610" y="678.2" font-family="'Liberation Serif','Times New Roman',serif" font-size="27" text-anchor="middle">34 mm</text>
<rect x="860.6" y="168.1" width="208.8" height="77.1" fill="#fff" stroke="#222" stroke-width="1.8"/>
<text x="968.5" y="197.3" font-family="'Liberation Serif','Times New Roman',serif" font-size="27" text-anchor="middle">Damage location</text>
<text x="968.5" y="230.2" font-family="'Liberation Serif','Times New Roman',serif" font-size="27" text-anchor="middle">(450,350)</text>
<rect x="877.6" y="946.6" width="208.1" height="76.4" fill="#fff" stroke="#222" stroke-width="1.8"/>
<text x="985" y="975.1" font-family="'Liberation Serif','Times New Roman',serif" font-size="27" text-anchor="middle">Damage location</text>
<text x="985" y="1008.7" font-family="'Liberation Serif','Times New Roman',serif" font-size="27" text-anchor="middle">(530,420)</text>
<path d="M970.2 245.5L924.03 334.32" stroke="#111" stroke-width="1.6" fill="none"/><path d="M917.8 346.3L921.1 329.98L924.03 334.32L929.26 334.23Z" fill="#000"/>
<path d="M981.7 946L999.73 883.96" stroke="#111" stroke-width="1.6" fill="none"/><path d="M1003.5 871L1003.45 887.65L999.73 883.96L994.62 885.08Z" fill="#000"/>
<circle cx="329.6" cy="289.2" r="3.4" fill="#f00"/>
<circle cx="915.8" cy="351.4" r="5" fill="#f00"/>
<circle cx="1491.6" cy="351" r="4.8" fill="#f00"/>
<circle cx="367.4" cy="847.8" r="3.4" fill="#f00"/>
<circle cx="1004.6" cy="866.4" r="5" fill="#f00"/>
<circle cx="1578.3" cy="866.4" r="4.8" fill="#f00"/>
</svg></body></html>
